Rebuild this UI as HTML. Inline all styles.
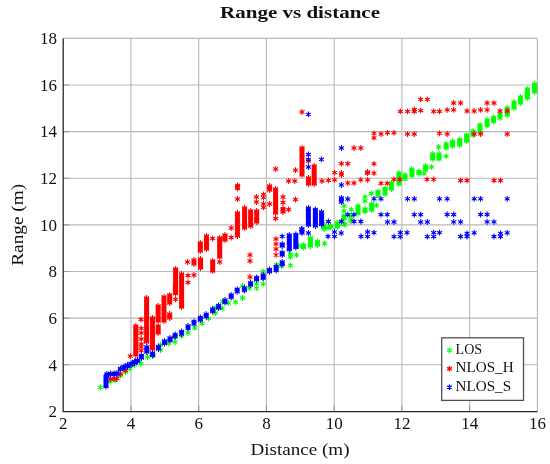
<!DOCTYPE html>
<html><head><meta charset="utf-8"><title>Range vs distance</title>
<style>html,body{margin:0;padding:0;background:#fff;}svg{display:block;}#w{width:550px;height:464px;overflow:hidden;}</style>
</head><body>
<div id="w"><svg width="550" height="464" viewBox="0 0 550 464"><rect x="0" y="0" width="550" height="464" fill="#fff"/>
<g stroke="#b8b8b8" stroke-width="1.1"><line x1="130.94" y1="38.40" x2="130.94" y2="411.40"/><line x1="198.69" y1="38.40" x2="198.69" y2="411.40"/><line x1="266.43" y1="38.40" x2="266.43" y2="411.40"/><line x1="334.17" y1="38.40" x2="334.17" y2="411.40"/><line x1="401.91" y1="38.40" x2="401.91" y2="411.40"/><line x1="469.66" y1="38.40" x2="469.66" y2="411.40"/><line x1="537.40" y1="38.40" x2="537.40" y2="411.40"/><line x1="63.20" y1="364.77" x2="537.40" y2="364.77"/><line x1="63.20" y1="318.15" x2="537.40" y2="318.15"/><line x1="63.20" y1="271.52" x2="537.40" y2="271.52"/><line x1="63.20" y1="224.90" x2="537.40" y2="224.90"/><line x1="63.20" y1="178.27" x2="537.40" y2="178.27"/><line x1="63.20" y1="131.65" x2="537.40" y2="131.65"/><line x1="63.20" y1="85.02" x2="537.40" y2="85.02"/><line x1="63.20" y1="38.40" x2="537.40" y2="38.40"/></g>
<g>
<path d="M100.40 390.40L100.40 384.60M97.89 388.95L102.91 386.05M97.89 386.05L102.91 388.95M110.00 384.40L110.00 378.60M107.49 382.95L112.51 380.05M107.49 380.05L112.51 382.95M115.00 383.40L115.00 377.60M112.49 381.95L117.51 379.05M112.49 379.05L117.51 381.95M120.50 378.40L120.50 372.60M117.99 376.95L123.01 374.05M117.99 374.05L123.01 376.95M125.50 374.90L125.50 369.10M122.99 373.45L128.01 370.55M122.99 370.55L128.01 373.45M130.00 371.40L130.00 365.60M127.49 369.95L132.51 367.05M127.49 367.05L132.51 369.95M134.50 367.90L134.50 362.10M131.99 366.45L137.01 363.55M131.99 363.55L137.01 366.45M141.00 366.40L141.00 360.60M138.49 364.95L143.51 362.05M138.49 362.05L143.51 364.95M147.50 359.90L147.50 354.10M144.99 358.45L150.01 355.55M144.99 355.55L150.01 358.45M153.50 358.40L153.50 352.60M150.99 356.95L156.01 354.05M150.99 354.05L156.01 356.95M160.50 352.90L160.50 347.10M157.99 351.45L163.01 348.55M157.99 348.55L163.01 351.45M160.50 347.90L160.50 342.10M157.99 346.45L163.01 343.55M157.99 343.55L163.01 346.45M168.50 346.40L168.50 340.60M165.99 344.95L171.01 342.05M165.99 342.05L171.01 344.95M175.00 344.90L175.00 339.10M172.49 343.45L177.51 340.55M172.49 340.55L177.51 343.45M174.50 339.90L174.50 334.10M171.99 338.45L177.01 335.55M171.99 335.55L177.01 338.45M181.50 338.90L181.50 333.10M178.99 337.45L184.01 334.55M178.99 334.55L184.01 337.45M188.00 335.90L188.00 330.10M185.49 334.45L190.51 331.55M185.49 331.55L190.51 334.45M195.00 330.90L195.00 325.10M192.49 329.45L197.51 326.55M192.49 326.55L197.51 329.45M202.00 326.40L202.00 320.60M199.49 324.95L204.51 322.05M199.49 322.05L204.51 324.95M208.50 321.60L208.50 315.80M205.99 320.15L211.01 317.25M205.99 317.25L211.01 320.15M215.50 315.90L215.50 310.10M212.99 314.45L218.01 311.55M212.99 311.55L218.01 314.45M215.00 310.90L215.00 305.10M212.49 309.45L217.51 306.55M212.49 306.55L217.51 309.45M222.20 311.40L222.20 305.60M219.69 309.95L224.71 307.05M219.69 307.05L224.71 309.95M222.50 304.40L222.50 298.60M219.99 302.95L225.01 300.05M219.99 300.05L225.01 302.95M228.50 305.90L228.50 300.10M225.99 304.45L231.01 301.55M225.99 301.55L231.01 304.45M235.50 305.10L235.50 299.30M232.99 303.65L238.01 300.75M232.99 300.75L238.01 303.65M242.50 288.90L242.50 283.10M239.99 287.45L245.01 284.55M239.99 284.55L245.01 287.45M242.50 300.90L242.50 295.10M239.99 299.45L245.01 296.55M239.99 296.55L245.01 299.45M249.50 291.10L249.50 285.30M246.99 289.65L252.01 286.75M246.99 286.75L252.01 289.65M256.60 286.70L256.60 280.90M254.09 285.25L259.11 282.35M254.09 282.35L259.11 285.25M256.60 291.10L256.60 285.30M254.09 289.65L259.11 286.75M254.09 286.75L259.11 289.65M263.20 286.70L263.20 280.90M260.69 285.25L265.71 282.35M260.69 282.35L265.71 285.25M263.20 274.40L263.20 268.60M260.69 272.95L265.71 270.05M260.69 270.05L265.71 272.95M276.50 267.60L276.50 261.80M273.99 266.15L279.01 263.25M273.99 263.25L279.01 266.15M281.50 268.90L281.50 263.10M278.99 267.45L284.01 264.55M278.99 264.55L284.01 267.45M290.40 268.20L290.40 262.40M287.89 266.75L292.91 263.85M287.89 263.85L292.91 266.75M290.40 256.90L290.40 251.10M287.89 255.45L292.91 252.55M287.89 252.55L292.91 255.45M290.40 259.90L290.40 254.10M287.89 258.45L292.91 255.55M287.89 255.55L292.91 258.45M296.50 257.90L296.50 252.10M293.99 256.45L299.01 253.55M293.99 253.55L299.01 256.45M298.50 248.90L298.50 243.10M295.99 247.45L301.01 244.55M295.99 244.55L301.01 247.45M324.00 228.90L324.00 223.10M321.49 227.45L326.51 224.55M321.49 224.55L326.51 227.45M328.00 230.90L328.00 225.10M325.49 229.45L330.51 226.55M325.49 226.55L330.51 229.45M331.00 229.90L331.00 224.10M328.49 228.45L333.51 225.55M328.49 225.55L333.51 228.45M338.00 226.90L338.00 221.10M335.49 225.45L340.51 222.55M335.49 222.55L340.51 225.45M351.30 212.50L351.30 206.70M348.79 211.05L353.81 208.15M348.79 208.15L353.81 211.05M351.30 218.50L351.30 212.70M348.79 217.05L353.81 214.15M348.79 214.15L353.81 217.05M350.80 223.90L350.80 218.10M348.29 222.45L353.31 219.55M348.29 219.55L353.31 222.45M344.00 208.90L344.00 203.10M341.49 207.45L346.51 204.55M341.49 204.55L346.51 207.45M344.00 213.90L344.00 208.10M341.49 212.45L346.51 209.55M341.49 209.55L346.51 212.45M344.00 218.50L344.00 212.70M341.49 217.05L346.51 214.15M341.49 214.15L346.51 217.05M344.00 219.57L344.00 213.77M341.49 218.12L346.51 215.22M341.49 215.22L346.51 218.12M344.00 220.63L344.00 214.83M341.49 219.18L346.51 216.28M341.49 216.28L346.51 219.18M344.00 221.70L344.00 215.90M341.49 220.25L346.51 217.35M341.49 217.35L346.51 220.25M344.00 226.90L344.00 221.10M341.49 225.45L346.51 222.55M341.49 222.55L346.51 225.45M358.00 208.90L358.00 203.10M355.49 207.45L360.51 204.55M355.49 204.55L360.51 207.45M358.00 210.15L358.00 204.35M355.49 208.70L360.51 205.80M355.49 205.80L360.51 208.70M358.00 211.40L358.00 205.60M355.49 209.95L360.51 207.05M355.49 207.05L360.51 209.95M358.00 212.65L358.00 206.85M355.49 211.20L360.51 208.30M355.49 208.30L360.51 211.20M358.00 213.90L358.00 208.10M355.49 212.45L360.51 209.55M355.49 209.55L360.51 212.45M358.00 215.15L358.00 209.35M355.49 213.70L360.51 210.80M355.49 210.80L360.51 213.70M358.00 216.40L358.00 210.60M355.49 214.95L360.51 212.05M355.49 212.05L360.51 214.95M365.00 199.90L365.00 194.10M362.49 198.45L367.51 195.55M362.49 195.55L367.51 198.45M365.00 203.90L365.00 198.10M362.49 202.45L367.51 199.55M362.49 199.55L367.51 202.45M365.00 211.90L365.00 206.10M362.49 210.45L367.51 207.55M362.49 207.55L367.51 210.45M365.00 213.15L365.00 207.35M362.49 211.70L367.51 208.80M362.49 208.80L367.51 211.70M365.00 214.40L365.00 208.60M362.49 212.95L367.51 210.05M362.49 210.05L367.51 212.95M303.40 247.90L303.40 242.10M300.89 246.45L305.91 243.55M300.89 243.55L305.91 246.45M303.40 249.15L303.40 243.35M300.89 247.70L305.91 244.80M300.89 244.80L305.91 247.70M303.40 250.40L303.40 244.60M300.89 248.95L305.91 246.05M300.89 246.05L305.91 248.95M324.50 246.40L324.50 240.60M321.99 244.95L327.01 242.05M321.99 242.05L327.01 244.95M330.50 228.90L330.50 223.10M327.99 227.45L333.01 224.55M327.99 224.55L333.01 227.45M344.80 227.40L344.80 221.60M342.29 225.95L347.31 223.05M342.29 223.05L347.31 225.95M351.00 221.90L351.00 216.10M348.49 220.45L353.51 217.55M348.49 217.55L353.51 220.45M310.50 240.90L310.50 235.10M307.99 239.45L313.01 236.55M307.99 236.55L313.01 239.45M310.50 242.04L310.50 236.24M307.99 240.59L313.01 237.69M307.99 237.69L313.01 240.59M310.50 243.19L310.50 237.39M307.99 241.74L313.01 238.84M307.99 238.84L313.01 241.74M310.50 244.33L310.50 238.53M307.99 242.88L313.01 239.98M307.99 239.98L313.01 242.88M310.50 245.47L310.50 239.67M307.99 244.02L313.01 241.12M307.99 241.12L313.01 244.02M310.50 246.61L310.50 240.81M307.99 245.16L313.01 242.26M307.99 242.26L313.01 245.16M310.50 247.76L310.50 241.96M307.99 246.31L313.01 243.41M307.99 243.41L313.01 246.31M310.50 248.90L310.50 243.10M307.99 247.45L313.01 244.55M307.99 244.55L313.01 247.45M317.50 244.40L317.50 238.60M314.99 242.95L320.01 240.05M314.99 240.05L320.01 242.95M317.50 245.57L317.50 239.77M314.99 244.12L320.01 241.22M314.99 241.22L320.01 244.12M317.50 246.73L317.50 240.93M314.99 245.28L320.01 242.38M314.99 242.38L320.01 245.28M317.50 247.90L317.50 242.10M314.99 246.45L320.01 243.55M314.99 243.55L320.01 246.45M324.00 227.90L324.00 222.10M321.49 226.45L326.51 223.55M321.49 223.55L326.51 226.45M324.00 229.23L324.00 223.43M321.49 227.78L326.51 224.88M321.49 224.88L326.51 227.78M324.00 230.57L324.00 224.77M321.49 229.12L326.51 226.22M321.49 226.22L326.51 229.12M324.00 231.90L324.00 226.10M321.49 230.45L326.51 227.55M321.49 227.55L326.51 230.45M337.40 225.90L337.40 220.10M334.89 224.45L339.91 221.55M334.89 221.55L339.91 224.45M337.40 227.23L337.40 221.43M334.89 225.78L339.91 222.88M334.89 222.88L339.91 225.78M337.40 228.57L337.40 222.77M334.89 227.12L339.91 224.22M334.89 224.22L339.91 227.12M337.40 229.90L337.40 224.10M334.89 228.45L339.91 225.55M334.89 225.55L339.91 228.45M432.80 156.90L432.80 151.10M430.29 155.45L435.31 152.55M430.29 152.55L435.31 155.45M432.80 158.15L432.80 152.35M430.29 156.70L435.31 153.80M430.29 153.80L435.31 156.70M432.80 159.40L432.80 153.60M430.29 157.95L435.31 155.05M430.29 155.05L435.31 157.95M432.80 160.65L432.80 154.85M430.29 159.20L435.31 156.30M430.29 156.30L435.31 159.20M432.80 161.90L432.80 156.10M430.29 160.45L435.31 157.55M430.29 157.55L435.31 160.45M439.00 156.90L439.00 151.10M436.49 155.45L441.51 152.55M436.49 152.55L441.51 155.45M439.00 158.15L439.00 152.35M436.49 156.70L441.51 153.80M436.49 153.80L441.51 156.70M439.00 159.40L439.00 153.60M436.49 157.95L441.51 155.05M436.49 155.05L441.51 157.95M439.00 160.65L439.00 154.85M436.49 159.20L441.51 156.30M436.49 156.30L441.51 159.20M439.00 161.90L439.00 156.10M436.49 160.45L441.51 157.55M436.49 157.55L441.51 160.45M438.50 149.90L438.50 144.10M435.99 148.45L441.01 145.55M435.99 145.55L441.01 148.45M425.50 168.90L425.50 163.10M422.99 167.45L428.01 164.55M422.99 164.55L428.01 167.45M425.50 170.23L425.50 164.43M422.99 168.78L428.01 165.88M422.99 165.88L428.01 168.78M425.50 171.57L425.50 165.77M422.99 170.12L428.01 167.22M422.99 167.22L428.01 170.12M425.50 172.90L425.50 167.10M422.99 171.45L428.01 168.55M422.99 168.55L428.01 171.45M431.60 169.90L431.60 164.10M429.09 168.45L434.11 165.55M429.09 165.55L434.11 168.45M411.40 172.10L411.40 166.30M408.89 170.65L413.91 167.75M408.89 167.75L413.91 170.65M371.70 206.90L371.70 201.10M369.19 205.45L374.21 202.55M369.19 202.55L374.21 205.45M371.70 208.10L371.70 202.30M369.19 206.65L374.21 203.75M369.19 203.75L374.21 206.65M371.70 209.30L371.70 203.50M369.19 207.85L374.21 204.95M369.19 204.95L374.21 207.85M371.70 210.50L371.70 204.70M369.19 209.05L374.21 206.15M369.19 206.15L374.21 209.05M371.70 211.70L371.70 205.90M369.19 210.25L374.21 207.35M369.19 207.35L374.21 210.25M371.70 212.90L371.70 207.10M369.19 211.45L374.21 208.55M369.19 208.55L374.21 211.45M371.30 196.40L371.30 190.60M368.79 194.95L373.81 192.05M368.79 192.05L373.81 194.95M378.00 194.40L378.00 188.60M375.49 192.95L380.51 190.05M375.49 190.05L380.51 192.95M378.00 195.73L378.00 189.93M375.49 194.28L380.51 191.38M375.49 191.38L380.51 194.28M378.00 197.07L378.00 191.27M375.49 195.62L380.51 192.72M375.49 192.72L380.51 195.62M378.00 198.40L378.00 192.60M375.49 196.95L380.51 194.05M375.49 194.05L380.51 196.95M376.60 208.20L376.60 202.40M374.09 206.75L379.11 203.85M374.09 203.85L379.11 206.75M385.00 191.40L385.00 185.60M382.49 189.95L387.51 187.05M382.49 187.05L387.51 189.95M385.00 192.50L385.00 186.70M382.49 191.05L387.51 188.15M382.49 188.15L387.51 191.05M385.00 193.60L385.00 187.80M382.49 192.15L387.51 189.25M382.49 189.25L387.51 192.15M385.00 194.70L385.00 188.90M382.49 193.25L387.51 190.35M382.49 190.35L387.51 193.25M385.00 195.80L385.00 190.00M382.49 194.35L387.51 191.45M382.49 191.45L387.51 194.35M385.00 196.90L385.00 191.10M382.49 195.45L387.51 192.55M382.49 192.55L387.51 195.45M391.50 185.90L391.50 180.10M388.99 184.45L394.01 181.55M388.99 181.55L394.01 184.45M391.50 187.10L391.50 181.30M388.99 185.65L394.01 182.75M388.99 182.75L394.01 185.65M391.50 188.30L391.50 182.50M388.99 186.85L394.01 183.95M388.99 183.95L394.01 186.85M391.50 189.50L391.50 183.70M388.99 188.05L394.01 185.15M388.99 185.15L394.01 188.05M391.50 190.70L391.50 184.90M388.99 189.25L394.01 186.35M388.99 186.35L394.01 189.25M391.50 191.90L391.50 186.10M388.99 190.45L394.01 187.55M388.99 187.55L394.01 190.45M399.00 175.90L399.00 170.10M396.49 174.45L401.51 171.55M396.49 171.55L401.51 174.45M399.00 177.12L399.00 171.32M396.49 175.67L401.51 172.77M396.49 172.77L401.51 175.67M399.00 178.34L399.00 172.54M396.49 176.89L401.51 173.99M396.49 173.99L401.51 176.89M399.00 179.57L399.00 173.77M396.49 178.12L401.51 175.22M396.49 175.22L401.51 178.12M399.00 180.79L399.00 174.99M396.49 179.34L401.51 176.44M396.49 176.44L401.51 179.34M399.00 182.01L399.00 176.21M396.49 180.56L401.51 177.66M396.49 177.66L401.51 180.56M399.00 183.23L399.00 177.43M396.49 181.78L401.51 178.88M396.49 178.88L401.51 181.78M399.00 184.46L399.00 178.66M396.49 183.01L401.51 180.11M396.49 180.11L401.51 183.01M399.00 185.68L399.00 179.88M396.49 184.23L401.51 181.33M396.49 181.33L401.51 184.23M399.00 186.90L399.00 181.10M396.49 185.45L401.51 182.55M396.49 182.55L401.51 185.45M405.00 177.90L405.00 172.10M402.49 176.45L407.51 173.55M402.49 173.55L407.51 176.45M405.00 179.23L405.00 173.43M402.49 177.78L407.51 174.88M402.49 174.88L407.51 177.78M405.00 180.57L405.00 174.77M402.49 179.12L407.51 176.22M402.49 176.22L407.51 179.12M405.00 181.90L405.00 176.10M402.49 180.45L407.51 177.55M402.49 177.55L407.51 180.45M412.00 173.40L412.00 167.60M409.49 171.95L414.51 169.05M409.49 169.05L414.51 171.95M412.00 174.65L412.00 168.85M409.49 173.20L414.51 170.30M409.49 170.30L414.51 173.20M412.00 175.90L412.00 170.10M409.49 174.45L414.51 171.55M409.49 171.55L414.51 174.45M412.00 177.15L412.00 171.35M409.49 175.70L414.51 172.80M409.49 172.80L414.51 175.70M412.00 178.40L412.00 172.60M409.49 176.95L414.51 174.05M409.49 174.05L414.51 176.95M419.00 174.40L419.00 168.60M416.49 172.95L421.51 170.05M416.49 170.05L421.51 172.95M419.00 175.40L419.00 169.60M416.49 173.95L421.51 171.05M416.49 171.05L421.51 173.95M419.00 176.40L419.00 170.60M416.49 174.95L421.51 172.05M416.49 172.05L421.51 174.95M424.00 176.50L424.00 170.70M421.49 175.05L426.51 172.15M421.49 172.15L426.51 175.05M446.20 146.90L446.20 141.10M443.69 145.45L448.71 142.55M443.69 142.55L448.71 145.45M446.20 148.23L446.20 142.43M443.69 146.78L448.71 143.88M443.69 143.88L448.71 146.78M446.20 149.57L446.20 143.77M443.69 148.12L448.71 145.22M443.69 145.22L448.71 148.12M446.20 150.90L446.20 145.10M443.69 149.45L448.71 146.55M443.69 146.55L448.71 149.45M446.20 159.10L446.20 153.30M443.69 157.65L448.71 154.75M443.69 154.75L448.71 157.65M452.60 144.40L452.60 138.60M450.09 142.95L455.11 140.05M450.09 140.05L455.11 142.95M452.60 145.53L452.60 139.72M450.09 144.07L455.11 141.18M450.09 141.18L455.11 144.07M452.60 146.65L452.60 140.85M450.09 145.20L455.11 142.30M450.09 142.30L455.11 145.20M452.60 147.78L452.60 141.97M450.09 146.32L455.11 143.43M450.09 143.43L455.11 146.32M452.60 148.90L452.60 143.10M450.09 147.45L455.11 144.55M450.09 144.55L455.11 147.45M459.70 142.40L459.70 136.60M457.19 140.95L462.21 138.05M457.19 138.05L462.21 140.95M459.70 143.50L459.70 137.70M457.19 142.05L462.21 139.15M457.19 139.15L462.21 142.05M459.70 144.60L459.70 138.80M457.19 143.15L462.21 140.25M457.19 140.25L462.21 143.15M459.70 145.70L459.70 139.90M457.19 144.25L462.21 141.35M457.19 141.35L462.21 144.25M459.70 146.80L459.70 141.00M457.19 145.35L462.21 142.45M457.19 142.45L462.21 145.35M459.70 147.90L459.70 142.10M457.19 146.45L462.21 143.55M457.19 143.55L462.21 146.45M466.60 137.90L466.60 132.10M464.09 136.45L469.11 133.55M464.09 133.55L469.11 136.45M466.60 139.10L466.60 133.30M464.09 137.65L469.11 134.75M464.09 134.75L469.11 137.65M466.60 140.30L466.60 134.50M464.09 138.85L469.11 135.95M464.09 135.95L469.11 138.85M466.60 141.50L466.60 135.70M464.09 140.05L469.11 137.15M464.09 137.15L469.11 140.05M466.60 142.70L466.60 136.90M464.09 141.25L469.11 138.35M464.09 138.35L469.11 141.25M466.60 143.90L466.60 138.10M464.09 142.45L469.11 139.55M464.09 139.55L469.11 142.45M473.10 133.90L473.10 128.10M470.59 132.45L475.61 129.55M470.59 129.55L475.61 132.45M473.10 135.23L473.10 129.43M470.59 133.78L475.61 130.88M470.59 130.88L475.61 133.78M473.10 136.57L473.10 130.77M470.59 135.12L475.61 132.22M470.59 132.22L475.61 135.12M473.10 137.90L473.10 132.10M470.59 136.45L475.61 133.55M470.59 133.55L475.61 136.45M480.00 127.90L480.00 122.10M477.49 126.45L482.51 123.55M477.49 123.55L482.51 126.45M480.00 129.07L480.00 123.27M477.49 127.62L482.51 124.72M477.49 124.72L482.51 127.62M480.00 130.23L480.00 124.43M477.49 128.78L482.51 125.88M477.49 125.88L482.51 128.78M480.00 131.40L480.00 125.60M477.49 129.95L482.51 127.05M477.49 127.05L482.51 129.95M480.00 132.57L480.00 126.77M477.49 131.12L482.51 128.22M477.49 128.22L482.51 131.12M480.00 133.73L480.00 127.93M477.49 132.28L482.51 129.38M477.49 129.38L482.51 132.28M480.00 134.90L480.00 129.10M477.49 133.45L482.51 130.55M477.49 130.55L482.51 133.45M487.10 122.90L487.10 117.10M484.59 121.45L489.61 118.55M484.59 118.55L489.61 121.45M487.10 124.00L487.10 118.20M484.59 122.55L489.61 119.65M484.59 119.65L489.61 122.55M487.10 125.10L487.10 119.30M484.59 123.65L489.61 120.75M484.59 120.75L489.61 123.65M487.10 126.20L487.10 120.40M484.59 124.75L489.61 121.85M484.59 121.85L489.61 124.75M487.10 127.30L487.10 121.50M484.59 125.85L489.61 122.95M484.59 122.95L489.61 125.85M487.10 128.40L487.10 122.60M484.59 126.95L489.61 124.05M484.59 124.05L489.61 126.95M493.60 120.40L493.60 114.60M491.09 118.95L496.11 116.05M491.09 116.05L496.11 118.95M493.60 121.73L493.60 115.93M491.09 120.28L496.11 117.38M491.09 117.38L496.11 120.28M493.60 123.07L493.60 117.27M491.09 121.62L496.11 118.72M491.09 118.72L496.11 121.62M493.60 124.40L493.60 118.60M491.09 122.95L496.11 120.05M491.09 120.05L496.11 122.95M500.00 116.90L500.00 111.10M497.49 115.45L502.51 112.55M497.49 112.55L502.51 115.45M500.00 118.23L500.00 112.43M497.49 116.78L502.51 113.88M497.49 113.88L502.51 116.78M500.00 119.57L500.00 113.77M497.49 118.12L502.51 115.22M497.49 115.22L502.51 118.12M500.00 120.90L500.00 115.10M497.49 119.45L502.51 116.55M497.49 116.55L502.51 119.45M507.20 110.90L507.20 105.10M504.69 109.45L509.71 106.55M504.69 106.55L509.71 109.45M507.20 112.07L507.20 106.27M504.69 110.62L509.71 107.72M504.69 107.72L509.71 110.62M507.20 113.23L507.20 107.43M504.69 111.78L509.71 108.88M504.69 108.88L509.71 111.78M507.20 114.40L507.20 108.60M504.69 112.95L509.71 110.05M504.69 110.05L509.71 112.95M507.20 115.57L507.20 109.77M504.69 114.12L509.71 111.22M504.69 111.22L509.71 114.12M507.20 116.73L507.20 110.93M504.69 115.28L509.71 112.38M504.69 112.38L509.71 115.28M507.20 117.90L507.20 112.10M504.69 116.45L509.71 113.55M504.69 113.55L509.71 116.45M514.00 104.90L514.00 99.10M511.49 103.45L516.51 100.55M511.49 100.55L516.51 103.45M514.00 106.10L514.00 100.30M511.49 104.65L516.51 101.75M511.49 101.75L516.51 104.65M514.00 107.30L514.00 101.50M511.49 105.85L516.51 102.95M511.49 102.95L516.51 105.85M514.00 108.50L514.00 102.70M511.49 107.05L516.51 104.15M511.49 104.15L516.51 107.05M514.00 109.70L514.00 103.90M511.49 108.25L516.51 105.35M511.49 105.35L516.51 108.25M514.00 110.90L514.00 105.10M511.49 109.45L516.51 106.55M511.49 106.55L516.51 109.45M520.50 99.90L520.50 94.10M517.99 98.45L523.01 95.55M517.99 95.55L523.01 98.45M520.50 101.10L520.50 95.30M517.99 99.65L523.01 96.75M517.99 96.75L523.01 99.65M520.50 102.30L520.50 96.50M517.99 100.85L523.01 97.95M517.99 97.95L523.01 100.85M520.50 103.50L520.50 97.70M517.99 102.05L523.01 99.15M517.99 99.15L523.01 102.05M520.50 104.70L520.50 98.90M517.99 103.25L523.01 100.35M517.99 100.35L523.01 103.25M520.50 105.90L520.50 100.10M517.99 104.45L523.01 101.55M517.99 101.55L523.01 104.45M527.40 91.90L527.40 86.10M524.89 90.45L529.91 87.55M524.89 87.55L529.91 90.45M527.40 93.03L527.40 87.22M524.89 91.58L529.91 88.67M524.89 88.67L529.91 91.58M527.40 94.15L527.40 88.35M524.89 92.70L529.91 89.80M524.89 89.80L529.91 92.70M527.40 95.28L527.40 89.47M524.89 93.83L529.91 90.92M524.89 90.92L529.91 93.83M527.40 96.40L527.40 90.60M524.89 94.95L529.91 92.05M524.89 92.05L529.91 94.95M527.40 97.53L527.40 91.72M524.89 96.08L529.91 93.17M524.89 93.17L529.91 96.08M527.40 98.65L527.40 92.85M524.89 97.20L529.91 94.30M524.89 94.30L529.91 97.20M527.40 99.78L527.40 93.97M524.89 98.33L529.91 95.42M524.89 95.42L529.91 98.33M527.40 100.90L527.40 95.10M524.89 99.45L529.91 96.55M524.89 96.55L529.91 99.45M534.50 86.90L534.50 81.10M531.99 85.45L537.01 82.55M531.99 82.55L537.01 85.45M534.50 88.04L534.50 82.24M531.99 86.59L537.01 83.69M531.99 83.69L537.01 86.59M534.50 89.19L534.50 83.39M531.99 87.74L537.01 84.84M531.99 84.84L537.01 87.74M534.50 90.33L534.50 84.53M531.99 88.88L537.01 85.98M531.99 85.98L537.01 88.88M534.50 91.47L534.50 85.67M531.99 90.02L537.01 87.12M531.99 87.12L537.01 90.02M534.50 92.61L534.50 86.81M531.99 91.16L537.01 88.26M531.99 88.26L537.01 91.16M534.50 93.76L534.50 87.96M531.99 92.31L537.01 89.41M531.99 89.41L537.01 92.31M534.50 94.90L534.50 89.10M531.99 93.45L537.01 90.55M531.99 90.55L537.01 93.45" stroke="#00ff00" stroke-width="1.05" fill="none" stroke-linecap="butt"/><path d="M99.20 387.50a1.2 1.2 0 1 0 2.4 0a1.2 1.2 0 1 0 -2.4 0M108.80 381.50a1.2 1.2 0 1 0 2.4 0a1.2 1.2 0 1 0 -2.4 0M113.80 380.50a1.2 1.2 0 1 0 2.4 0a1.2 1.2 0 1 0 -2.4 0M119.30 375.50a1.2 1.2 0 1 0 2.4 0a1.2 1.2 0 1 0 -2.4 0M124.30 372.00a1.2 1.2 0 1 0 2.4 0a1.2 1.2 0 1 0 -2.4 0M128.80 368.50a1.2 1.2 0 1 0 2.4 0a1.2 1.2 0 1 0 -2.4 0M133.30 365.00a1.2 1.2 0 1 0 2.4 0a1.2 1.2 0 1 0 -2.4 0M139.80 363.50a1.2 1.2 0 1 0 2.4 0a1.2 1.2 0 1 0 -2.4 0M146.30 357.00a1.2 1.2 0 1 0 2.4 0a1.2 1.2 0 1 0 -2.4 0M152.30 355.50a1.2 1.2 0 1 0 2.4 0a1.2 1.2 0 1 0 -2.4 0M159.30 350.00a1.2 1.2 0 1 0 2.4 0a1.2 1.2 0 1 0 -2.4 0M159.30 345.00a1.2 1.2 0 1 0 2.4 0a1.2 1.2 0 1 0 -2.4 0M167.30 343.50a1.2 1.2 0 1 0 2.4 0a1.2 1.2 0 1 0 -2.4 0M173.80 342.00a1.2 1.2 0 1 0 2.4 0a1.2 1.2 0 1 0 -2.4 0M173.30 337.00a1.2 1.2 0 1 0 2.4 0a1.2 1.2 0 1 0 -2.4 0M180.30 336.00a1.2 1.2 0 1 0 2.4 0a1.2 1.2 0 1 0 -2.4 0M186.80 333.00a1.2 1.2 0 1 0 2.4 0a1.2 1.2 0 1 0 -2.4 0M193.80 328.00a1.2 1.2 0 1 0 2.4 0a1.2 1.2 0 1 0 -2.4 0M200.80 323.50a1.2 1.2 0 1 0 2.4 0a1.2 1.2 0 1 0 -2.4 0M207.30 318.70a1.2 1.2 0 1 0 2.4 0a1.2 1.2 0 1 0 -2.4 0M214.30 313.00a1.2 1.2 0 1 0 2.4 0a1.2 1.2 0 1 0 -2.4 0M213.80 308.00a1.2 1.2 0 1 0 2.4 0a1.2 1.2 0 1 0 -2.4 0M221.00 308.50a1.2 1.2 0 1 0 2.4 0a1.2 1.2 0 1 0 -2.4 0M221.30 301.50a1.2 1.2 0 1 0 2.4 0a1.2 1.2 0 1 0 -2.4 0M227.30 303.00a1.2 1.2 0 1 0 2.4 0a1.2 1.2 0 1 0 -2.4 0M234.30 302.20a1.2 1.2 0 1 0 2.4 0a1.2 1.2 0 1 0 -2.4 0M241.30 286.00a1.2 1.2 0 1 0 2.4 0a1.2 1.2 0 1 0 -2.4 0M241.30 298.00a1.2 1.2 0 1 0 2.4 0a1.2 1.2 0 1 0 -2.4 0M248.30 288.20a1.2 1.2 0 1 0 2.4 0a1.2 1.2 0 1 0 -2.4 0M255.40 283.80a1.2 1.2 0 1 0 2.4 0a1.2 1.2 0 1 0 -2.4 0M255.40 288.20a1.2 1.2 0 1 0 2.4 0a1.2 1.2 0 1 0 -2.4 0M262.00 283.80a1.2 1.2 0 1 0 2.4 0a1.2 1.2 0 1 0 -2.4 0M262.00 271.50a1.2 1.2 0 1 0 2.4 0a1.2 1.2 0 1 0 -2.4 0M275.30 264.70a1.2 1.2 0 1 0 2.4 0a1.2 1.2 0 1 0 -2.4 0M280.30 266.00a1.2 1.2 0 1 0 2.4 0a1.2 1.2 0 1 0 -2.4 0M289.20 265.30a1.2 1.2 0 1 0 2.4 0a1.2 1.2 0 1 0 -2.4 0M289.20 254.00a1.2 1.2 0 1 0 2.4 0a1.2 1.2 0 1 0 -2.4 0M289.20 257.00a1.2 1.2 0 1 0 2.4 0a1.2 1.2 0 1 0 -2.4 0M295.30 255.00a1.2 1.2 0 1 0 2.4 0a1.2 1.2 0 1 0 -2.4 0M297.30 246.00a1.2 1.2 0 1 0 2.4 0a1.2 1.2 0 1 0 -2.4 0M322.80 226.00a1.2 1.2 0 1 0 2.4 0a1.2 1.2 0 1 0 -2.4 0M326.80 228.00a1.2 1.2 0 1 0 2.4 0a1.2 1.2 0 1 0 -2.4 0M329.80 227.00a1.2 1.2 0 1 0 2.4 0a1.2 1.2 0 1 0 -2.4 0M336.80 224.00a1.2 1.2 0 1 0 2.4 0a1.2 1.2 0 1 0 -2.4 0M350.10 209.60a1.2 1.2 0 1 0 2.4 0a1.2 1.2 0 1 0 -2.4 0M350.10 215.60a1.2 1.2 0 1 0 2.4 0a1.2 1.2 0 1 0 -2.4 0M349.60 221.00a1.2 1.2 0 1 0 2.4 0a1.2 1.2 0 1 0 -2.4 0M342.80 206.00a1.2 1.2 0 1 0 2.4 0a1.2 1.2 0 1 0 -2.4 0M342.80 211.00a1.2 1.2 0 1 0 2.4 0a1.2 1.2 0 1 0 -2.4 0M342.80 215.60a1.2 1.2 0 1 0 2.4 0a1.2 1.2 0 1 0 -2.4 0M342.80 216.67a1.2 1.2 0 1 0 2.4 0a1.2 1.2 0 1 0 -2.4 0M342.80 217.73a1.2 1.2 0 1 0 2.4 0a1.2 1.2 0 1 0 -2.4 0M342.80 218.80a1.2 1.2 0 1 0 2.4 0a1.2 1.2 0 1 0 -2.4 0M342.80 224.00a1.2 1.2 0 1 0 2.4 0a1.2 1.2 0 1 0 -2.4 0M356.80 206.00a1.2 1.2 0 1 0 2.4 0a1.2 1.2 0 1 0 -2.4 0M356.80 207.25a1.2 1.2 0 1 0 2.4 0a1.2 1.2 0 1 0 -2.4 0M356.80 208.50a1.2 1.2 0 1 0 2.4 0a1.2 1.2 0 1 0 -2.4 0M356.80 209.75a1.2 1.2 0 1 0 2.4 0a1.2 1.2 0 1 0 -2.4 0M356.80 211.00a1.2 1.2 0 1 0 2.4 0a1.2 1.2 0 1 0 -2.4 0M356.80 212.25a1.2 1.2 0 1 0 2.4 0a1.2 1.2 0 1 0 -2.4 0M356.80 213.50a1.2 1.2 0 1 0 2.4 0a1.2 1.2 0 1 0 -2.4 0M363.80 197.00a1.2 1.2 0 1 0 2.4 0a1.2 1.2 0 1 0 -2.4 0M363.80 201.00a1.2 1.2 0 1 0 2.4 0a1.2 1.2 0 1 0 -2.4 0M363.80 209.00a1.2 1.2 0 1 0 2.4 0a1.2 1.2 0 1 0 -2.4 0M363.80 210.25a1.2 1.2 0 1 0 2.4 0a1.2 1.2 0 1 0 -2.4 0M363.80 211.50a1.2 1.2 0 1 0 2.4 0a1.2 1.2 0 1 0 -2.4 0M302.20 245.00a1.2 1.2 0 1 0 2.4 0a1.2 1.2 0 1 0 -2.4 0M302.20 246.25a1.2 1.2 0 1 0 2.4 0a1.2 1.2 0 1 0 -2.4 0M302.20 247.50a1.2 1.2 0 1 0 2.4 0a1.2 1.2 0 1 0 -2.4 0M323.30 243.50a1.2 1.2 0 1 0 2.4 0a1.2 1.2 0 1 0 -2.4 0M329.30 226.00a1.2 1.2 0 1 0 2.4 0a1.2 1.2 0 1 0 -2.4 0M343.60 224.50a1.2 1.2 0 1 0 2.4 0a1.2 1.2 0 1 0 -2.4 0M349.80 219.00a1.2 1.2 0 1 0 2.4 0a1.2 1.2 0 1 0 -2.4 0M309.30 238.00a1.2 1.2 0 1 0 2.4 0a1.2 1.2 0 1 0 -2.4 0M309.30 239.14a1.2 1.2 0 1 0 2.4 0a1.2 1.2 0 1 0 -2.4 0M309.30 240.29a1.2 1.2 0 1 0 2.4 0a1.2 1.2 0 1 0 -2.4 0M309.30 241.43a1.2 1.2 0 1 0 2.4 0a1.2 1.2 0 1 0 -2.4 0M309.30 242.57a1.2 1.2 0 1 0 2.4 0a1.2 1.2 0 1 0 -2.4 0M309.30 243.71a1.2 1.2 0 1 0 2.4 0a1.2 1.2 0 1 0 -2.4 0M309.30 244.86a1.2 1.2 0 1 0 2.4 0a1.2 1.2 0 1 0 -2.4 0M309.30 246.00a1.2 1.2 0 1 0 2.4 0a1.2 1.2 0 1 0 -2.4 0M316.30 241.50a1.2 1.2 0 1 0 2.4 0a1.2 1.2 0 1 0 -2.4 0M316.30 242.67a1.2 1.2 0 1 0 2.4 0a1.2 1.2 0 1 0 -2.4 0M316.30 243.83a1.2 1.2 0 1 0 2.4 0a1.2 1.2 0 1 0 -2.4 0M316.30 245.00a1.2 1.2 0 1 0 2.4 0a1.2 1.2 0 1 0 -2.4 0M322.80 225.00a1.2 1.2 0 1 0 2.4 0a1.2 1.2 0 1 0 -2.4 0M322.80 226.33a1.2 1.2 0 1 0 2.4 0a1.2 1.2 0 1 0 -2.4 0M322.80 227.67a1.2 1.2 0 1 0 2.4 0a1.2 1.2 0 1 0 -2.4 0M322.80 229.00a1.2 1.2 0 1 0 2.4 0a1.2 1.2 0 1 0 -2.4 0M336.20 223.00a1.2 1.2 0 1 0 2.4 0a1.2 1.2 0 1 0 -2.4 0M336.20 224.33a1.2 1.2 0 1 0 2.4 0a1.2 1.2 0 1 0 -2.4 0M336.20 225.67a1.2 1.2 0 1 0 2.4 0a1.2 1.2 0 1 0 -2.4 0M336.20 227.00a1.2 1.2 0 1 0 2.4 0a1.2 1.2 0 1 0 -2.4 0M431.60 154.00a1.2 1.2 0 1 0 2.4 0a1.2 1.2 0 1 0 -2.4 0M431.60 155.25a1.2 1.2 0 1 0 2.4 0a1.2 1.2 0 1 0 -2.4 0M431.60 156.50a1.2 1.2 0 1 0 2.4 0a1.2 1.2 0 1 0 -2.4 0M431.60 157.75a1.2 1.2 0 1 0 2.4 0a1.2 1.2 0 1 0 -2.4 0M431.60 159.00a1.2 1.2 0 1 0 2.4 0a1.2 1.2 0 1 0 -2.4 0M437.80 154.00a1.2 1.2 0 1 0 2.4 0a1.2 1.2 0 1 0 -2.4 0M437.80 155.25a1.2 1.2 0 1 0 2.4 0a1.2 1.2 0 1 0 -2.4 0M437.80 156.50a1.2 1.2 0 1 0 2.4 0a1.2 1.2 0 1 0 -2.4 0M437.80 157.75a1.2 1.2 0 1 0 2.4 0a1.2 1.2 0 1 0 -2.4 0M437.80 159.00a1.2 1.2 0 1 0 2.4 0a1.2 1.2 0 1 0 -2.4 0M437.30 147.00a1.2 1.2 0 1 0 2.4 0a1.2 1.2 0 1 0 -2.4 0M424.30 166.00a1.2 1.2 0 1 0 2.4 0a1.2 1.2 0 1 0 -2.4 0M424.30 167.33a1.2 1.2 0 1 0 2.4 0a1.2 1.2 0 1 0 -2.4 0M424.30 168.67a1.2 1.2 0 1 0 2.4 0a1.2 1.2 0 1 0 -2.4 0M424.30 170.00a1.2 1.2 0 1 0 2.4 0a1.2 1.2 0 1 0 -2.4 0M430.40 167.00a1.2 1.2 0 1 0 2.4 0a1.2 1.2 0 1 0 -2.4 0M410.20 169.20a1.2 1.2 0 1 0 2.4 0a1.2 1.2 0 1 0 -2.4 0M370.50 204.00a1.2 1.2 0 1 0 2.4 0a1.2 1.2 0 1 0 -2.4 0M370.50 205.20a1.2 1.2 0 1 0 2.4 0a1.2 1.2 0 1 0 -2.4 0M370.50 206.40a1.2 1.2 0 1 0 2.4 0a1.2 1.2 0 1 0 -2.4 0M370.50 207.60a1.2 1.2 0 1 0 2.4 0a1.2 1.2 0 1 0 -2.4 0M370.50 208.80a1.2 1.2 0 1 0 2.4 0a1.2 1.2 0 1 0 -2.4 0M370.50 210.00a1.2 1.2 0 1 0 2.4 0a1.2 1.2 0 1 0 -2.4 0M370.10 193.50a1.2 1.2 0 1 0 2.4 0a1.2 1.2 0 1 0 -2.4 0M376.80 191.50a1.2 1.2 0 1 0 2.4 0a1.2 1.2 0 1 0 -2.4 0M376.80 192.83a1.2 1.2 0 1 0 2.4 0a1.2 1.2 0 1 0 -2.4 0M376.80 194.17a1.2 1.2 0 1 0 2.4 0a1.2 1.2 0 1 0 -2.4 0M376.80 195.50a1.2 1.2 0 1 0 2.4 0a1.2 1.2 0 1 0 -2.4 0M375.40 205.30a1.2 1.2 0 1 0 2.4 0a1.2 1.2 0 1 0 -2.4 0M383.80 188.50a1.2 1.2 0 1 0 2.4 0a1.2 1.2 0 1 0 -2.4 0M383.80 189.60a1.2 1.2 0 1 0 2.4 0a1.2 1.2 0 1 0 -2.4 0M383.80 190.70a1.2 1.2 0 1 0 2.4 0a1.2 1.2 0 1 0 -2.4 0M383.80 191.80a1.2 1.2 0 1 0 2.4 0a1.2 1.2 0 1 0 -2.4 0M383.80 192.90a1.2 1.2 0 1 0 2.4 0a1.2 1.2 0 1 0 -2.4 0M383.80 194.00a1.2 1.2 0 1 0 2.4 0a1.2 1.2 0 1 0 -2.4 0M390.30 183.00a1.2 1.2 0 1 0 2.4 0a1.2 1.2 0 1 0 -2.4 0M390.30 184.20a1.2 1.2 0 1 0 2.4 0a1.2 1.2 0 1 0 -2.4 0M390.30 185.40a1.2 1.2 0 1 0 2.4 0a1.2 1.2 0 1 0 -2.4 0M390.30 186.60a1.2 1.2 0 1 0 2.4 0a1.2 1.2 0 1 0 -2.4 0M390.30 187.80a1.2 1.2 0 1 0 2.4 0a1.2 1.2 0 1 0 -2.4 0M390.30 189.00a1.2 1.2 0 1 0 2.4 0a1.2 1.2 0 1 0 -2.4 0M397.80 173.00a1.2 1.2 0 1 0 2.4 0a1.2 1.2 0 1 0 -2.4 0M397.80 174.22a1.2 1.2 0 1 0 2.4 0a1.2 1.2 0 1 0 -2.4 0M397.80 175.44a1.2 1.2 0 1 0 2.4 0a1.2 1.2 0 1 0 -2.4 0M397.80 176.67a1.2 1.2 0 1 0 2.4 0a1.2 1.2 0 1 0 -2.4 0M397.80 177.89a1.2 1.2 0 1 0 2.4 0a1.2 1.2 0 1 0 -2.4 0M397.80 179.11a1.2 1.2 0 1 0 2.4 0a1.2 1.2 0 1 0 -2.4 0M397.80 180.33a1.2 1.2 0 1 0 2.4 0a1.2 1.2 0 1 0 -2.4 0M397.80 181.56a1.2 1.2 0 1 0 2.4 0a1.2 1.2 0 1 0 -2.4 0M397.80 182.78a1.2 1.2 0 1 0 2.4 0a1.2 1.2 0 1 0 -2.4 0M397.80 184.00a1.2 1.2 0 1 0 2.4 0a1.2 1.2 0 1 0 -2.4 0M403.80 175.00a1.2 1.2 0 1 0 2.4 0a1.2 1.2 0 1 0 -2.4 0M403.80 176.33a1.2 1.2 0 1 0 2.4 0a1.2 1.2 0 1 0 -2.4 0M403.80 177.67a1.2 1.2 0 1 0 2.4 0a1.2 1.2 0 1 0 -2.4 0M403.80 179.00a1.2 1.2 0 1 0 2.4 0a1.2 1.2 0 1 0 -2.4 0M410.80 170.50a1.2 1.2 0 1 0 2.4 0a1.2 1.2 0 1 0 -2.4 0M410.80 171.75a1.2 1.2 0 1 0 2.4 0a1.2 1.2 0 1 0 -2.4 0M410.80 173.00a1.2 1.2 0 1 0 2.4 0a1.2 1.2 0 1 0 -2.4 0M410.80 174.25a1.2 1.2 0 1 0 2.4 0a1.2 1.2 0 1 0 -2.4 0M410.80 175.50a1.2 1.2 0 1 0 2.4 0a1.2 1.2 0 1 0 -2.4 0M417.80 171.50a1.2 1.2 0 1 0 2.4 0a1.2 1.2 0 1 0 -2.4 0M417.80 172.50a1.2 1.2 0 1 0 2.4 0a1.2 1.2 0 1 0 -2.4 0M417.80 173.50a1.2 1.2 0 1 0 2.4 0a1.2 1.2 0 1 0 -2.4 0M422.80 173.60a1.2 1.2 0 1 0 2.4 0a1.2 1.2 0 1 0 -2.4 0M445.00 144.00a1.2 1.2 0 1 0 2.4 0a1.2 1.2 0 1 0 -2.4 0M445.00 145.33a1.2 1.2 0 1 0 2.4 0a1.2 1.2 0 1 0 -2.4 0M445.00 146.67a1.2 1.2 0 1 0 2.4 0a1.2 1.2 0 1 0 -2.4 0M445.00 148.00a1.2 1.2 0 1 0 2.4 0a1.2 1.2 0 1 0 -2.4 0M445.00 156.20a1.2 1.2 0 1 0 2.4 0a1.2 1.2 0 1 0 -2.4 0M451.40 141.50a1.2 1.2 0 1 0 2.4 0a1.2 1.2 0 1 0 -2.4 0M451.40 142.62a1.2 1.2 0 1 0 2.4 0a1.2 1.2 0 1 0 -2.4 0M451.40 143.75a1.2 1.2 0 1 0 2.4 0a1.2 1.2 0 1 0 -2.4 0M451.40 144.88a1.2 1.2 0 1 0 2.4 0a1.2 1.2 0 1 0 -2.4 0M451.40 146.00a1.2 1.2 0 1 0 2.4 0a1.2 1.2 0 1 0 -2.4 0M458.50 139.50a1.2 1.2 0 1 0 2.4 0a1.2 1.2 0 1 0 -2.4 0M458.50 140.60a1.2 1.2 0 1 0 2.4 0a1.2 1.2 0 1 0 -2.4 0M458.50 141.70a1.2 1.2 0 1 0 2.4 0a1.2 1.2 0 1 0 -2.4 0M458.50 142.80a1.2 1.2 0 1 0 2.4 0a1.2 1.2 0 1 0 -2.4 0M458.50 143.90a1.2 1.2 0 1 0 2.4 0a1.2 1.2 0 1 0 -2.4 0M458.50 145.00a1.2 1.2 0 1 0 2.4 0a1.2 1.2 0 1 0 -2.4 0M465.40 135.00a1.2 1.2 0 1 0 2.4 0a1.2 1.2 0 1 0 -2.4 0M465.40 136.20a1.2 1.2 0 1 0 2.4 0a1.2 1.2 0 1 0 -2.4 0M465.40 137.40a1.2 1.2 0 1 0 2.4 0a1.2 1.2 0 1 0 -2.4 0M465.40 138.60a1.2 1.2 0 1 0 2.4 0a1.2 1.2 0 1 0 -2.4 0M465.40 139.80a1.2 1.2 0 1 0 2.4 0a1.2 1.2 0 1 0 -2.4 0M465.40 141.00a1.2 1.2 0 1 0 2.4 0a1.2 1.2 0 1 0 -2.4 0M471.90 131.00a1.2 1.2 0 1 0 2.4 0a1.2 1.2 0 1 0 -2.4 0M471.90 132.33a1.2 1.2 0 1 0 2.4 0a1.2 1.2 0 1 0 -2.4 0M471.90 133.67a1.2 1.2 0 1 0 2.4 0a1.2 1.2 0 1 0 -2.4 0M471.90 135.00a1.2 1.2 0 1 0 2.4 0a1.2 1.2 0 1 0 -2.4 0M478.80 125.00a1.2 1.2 0 1 0 2.4 0a1.2 1.2 0 1 0 -2.4 0M478.80 126.17a1.2 1.2 0 1 0 2.4 0a1.2 1.2 0 1 0 -2.4 0M478.80 127.33a1.2 1.2 0 1 0 2.4 0a1.2 1.2 0 1 0 -2.4 0M478.80 128.50a1.2 1.2 0 1 0 2.4 0a1.2 1.2 0 1 0 -2.4 0M478.80 129.67a1.2 1.2 0 1 0 2.4 0a1.2 1.2 0 1 0 -2.4 0M478.80 130.83a1.2 1.2 0 1 0 2.4 0a1.2 1.2 0 1 0 -2.4 0M478.80 132.00a1.2 1.2 0 1 0 2.4 0a1.2 1.2 0 1 0 -2.4 0M485.90 120.00a1.2 1.2 0 1 0 2.4 0a1.2 1.2 0 1 0 -2.4 0M485.90 121.10a1.2 1.2 0 1 0 2.4 0a1.2 1.2 0 1 0 -2.4 0M485.90 122.20a1.2 1.2 0 1 0 2.4 0a1.2 1.2 0 1 0 -2.4 0M485.90 123.30a1.2 1.2 0 1 0 2.4 0a1.2 1.2 0 1 0 -2.4 0M485.90 124.40a1.2 1.2 0 1 0 2.4 0a1.2 1.2 0 1 0 -2.4 0M485.90 125.50a1.2 1.2 0 1 0 2.4 0a1.2 1.2 0 1 0 -2.4 0M492.40 117.50a1.2 1.2 0 1 0 2.4 0a1.2 1.2 0 1 0 -2.4 0M492.40 118.83a1.2 1.2 0 1 0 2.4 0a1.2 1.2 0 1 0 -2.4 0M492.40 120.17a1.2 1.2 0 1 0 2.4 0a1.2 1.2 0 1 0 -2.4 0M492.40 121.50a1.2 1.2 0 1 0 2.4 0a1.2 1.2 0 1 0 -2.4 0M498.80 114.00a1.2 1.2 0 1 0 2.4 0a1.2 1.2 0 1 0 -2.4 0M498.80 115.33a1.2 1.2 0 1 0 2.4 0a1.2 1.2 0 1 0 -2.4 0M498.80 116.67a1.2 1.2 0 1 0 2.4 0a1.2 1.2 0 1 0 -2.4 0M498.80 118.00a1.2 1.2 0 1 0 2.4 0a1.2 1.2 0 1 0 -2.4 0M506.00 108.00a1.2 1.2 0 1 0 2.4 0a1.2 1.2 0 1 0 -2.4 0M506.00 109.17a1.2 1.2 0 1 0 2.4 0a1.2 1.2 0 1 0 -2.4 0M506.00 110.33a1.2 1.2 0 1 0 2.4 0a1.2 1.2 0 1 0 -2.4 0M506.00 111.50a1.2 1.2 0 1 0 2.4 0a1.2 1.2 0 1 0 -2.4 0M506.00 112.67a1.2 1.2 0 1 0 2.4 0a1.2 1.2 0 1 0 -2.4 0M506.00 113.83a1.2 1.2 0 1 0 2.4 0a1.2 1.2 0 1 0 -2.4 0M506.00 115.00a1.2 1.2 0 1 0 2.4 0a1.2 1.2 0 1 0 -2.4 0M512.80 102.00a1.2 1.2 0 1 0 2.4 0a1.2 1.2 0 1 0 -2.4 0M512.80 103.20a1.2 1.2 0 1 0 2.4 0a1.2 1.2 0 1 0 -2.4 0M512.80 104.40a1.2 1.2 0 1 0 2.4 0a1.2 1.2 0 1 0 -2.4 0M512.80 105.60a1.2 1.2 0 1 0 2.4 0a1.2 1.2 0 1 0 -2.4 0M512.80 106.80a1.2 1.2 0 1 0 2.4 0a1.2 1.2 0 1 0 -2.4 0M512.80 108.00a1.2 1.2 0 1 0 2.4 0a1.2 1.2 0 1 0 -2.4 0M519.30 97.00a1.2 1.2 0 1 0 2.4 0a1.2 1.2 0 1 0 -2.4 0M519.30 98.20a1.2 1.2 0 1 0 2.4 0a1.2 1.2 0 1 0 -2.4 0M519.30 99.40a1.2 1.2 0 1 0 2.4 0a1.2 1.2 0 1 0 -2.4 0M519.30 100.60a1.2 1.2 0 1 0 2.4 0a1.2 1.2 0 1 0 -2.4 0M519.30 101.80a1.2 1.2 0 1 0 2.4 0a1.2 1.2 0 1 0 -2.4 0M519.30 103.00a1.2 1.2 0 1 0 2.4 0a1.2 1.2 0 1 0 -2.4 0M526.20 89.00a1.2 1.2 0 1 0 2.4 0a1.2 1.2 0 1 0 -2.4 0M526.20 90.12a1.2 1.2 0 1 0 2.4 0a1.2 1.2 0 1 0 -2.4 0M526.20 91.25a1.2 1.2 0 1 0 2.4 0a1.2 1.2 0 1 0 -2.4 0M526.20 92.38a1.2 1.2 0 1 0 2.4 0a1.2 1.2 0 1 0 -2.4 0M526.20 93.50a1.2 1.2 0 1 0 2.4 0a1.2 1.2 0 1 0 -2.4 0M526.20 94.62a1.2 1.2 0 1 0 2.4 0a1.2 1.2 0 1 0 -2.4 0M526.20 95.75a1.2 1.2 0 1 0 2.4 0a1.2 1.2 0 1 0 -2.4 0M526.20 96.88a1.2 1.2 0 1 0 2.4 0a1.2 1.2 0 1 0 -2.4 0M526.20 98.00a1.2 1.2 0 1 0 2.4 0a1.2 1.2 0 1 0 -2.4 0M533.30 84.00a1.2 1.2 0 1 0 2.4 0a1.2 1.2 0 1 0 -2.4 0M533.30 85.14a1.2 1.2 0 1 0 2.4 0a1.2 1.2 0 1 0 -2.4 0M533.30 86.29a1.2 1.2 0 1 0 2.4 0a1.2 1.2 0 1 0 -2.4 0M533.30 87.43a1.2 1.2 0 1 0 2.4 0a1.2 1.2 0 1 0 -2.4 0M533.30 88.57a1.2 1.2 0 1 0 2.4 0a1.2 1.2 0 1 0 -2.4 0M533.30 89.71a1.2 1.2 0 1 0 2.4 0a1.2 1.2 0 1 0 -2.4 0M533.30 90.86a1.2 1.2 0 1 0 2.4 0a1.2 1.2 0 1 0 -2.4 0M533.30 92.00a1.2 1.2 0 1 0 2.4 0a1.2 1.2 0 1 0 -2.4 0" fill="#00ff00"/>
<path d="M110.50 381.90L110.50 376.10M107.99 380.45L113.01 377.55M107.99 377.55L113.01 380.45M114.00 381.90L114.00 376.10M111.49 380.45L116.51 377.55M111.49 377.55L116.51 380.45M117.00 381.40L117.00 375.60M114.49 379.95L119.51 377.05M114.49 377.05L119.51 379.95M120.50 376.90L120.50 371.10M117.99 375.45L123.01 372.55M117.99 372.55L123.01 375.45M125.50 373.40L125.50 367.60M122.99 371.95L128.01 369.05M122.99 369.05L128.01 371.95M130.30 359.10L130.30 353.30M127.79 357.65L132.81 354.75M127.79 354.75L132.81 357.65M135.80 328.90L135.80 323.10M133.29 327.45L138.31 324.55M133.29 324.55L138.31 327.45M135.80 330.11L135.80 324.31M133.29 328.66L138.31 325.76M133.29 325.76L138.31 328.66M135.80 331.32L135.80 325.52M133.29 329.87L138.31 326.97M133.29 326.97L138.31 329.87M135.80 332.52L135.80 326.73M133.29 331.07L138.31 328.18M133.29 328.18L138.31 331.07M135.80 333.73L135.80 327.93M133.29 332.28L138.31 329.38M133.29 329.38L138.31 332.28M135.80 334.94L135.80 329.14M133.29 333.49L138.31 330.59M133.29 330.59L138.31 333.49M135.80 336.15L135.80 330.35M133.29 334.70L138.31 331.80M133.29 331.80L138.31 334.70M135.80 337.36L135.80 331.56M133.29 335.91L138.31 333.01M133.29 333.01L138.31 335.91M135.80 338.57L135.80 332.77M133.29 337.12L138.31 334.22M133.29 334.22L138.31 337.12M135.80 339.77L135.80 333.98M133.29 338.32L138.31 335.43M133.29 335.43L138.31 338.32M135.80 340.98L135.80 335.18M133.29 339.53L138.31 336.63M133.29 336.63L138.31 339.53M135.80 342.19L135.80 336.39M133.29 340.74L138.31 337.84M133.29 337.84L138.31 340.74M135.80 343.40L135.80 337.60M133.29 341.95L138.31 339.05M133.29 339.05L138.31 341.95M135.80 344.61L135.80 338.81M133.29 343.16L138.31 340.26M133.29 340.26L138.31 343.16M135.80 345.82L135.80 340.02M133.29 344.37L138.31 341.47M133.29 341.47L138.31 344.37M135.80 347.02L135.80 341.23M133.29 345.57L138.31 342.68M133.29 342.68L138.31 345.57M135.80 348.23L135.80 342.43M133.29 346.78L138.31 343.88M133.29 343.88L138.31 346.78M135.80 349.44L135.80 343.64M133.29 347.99L138.31 345.09M133.29 345.09L138.31 347.99M135.80 350.65L135.80 344.85M133.29 349.20L138.31 346.30M133.29 346.30L138.31 349.20M135.80 351.86L135.80 346.06M133.29 350.41L138.31 347.51M133.29 347.51L138.31 350.41M135.80 353.07L135.80 347.27M133.29 351.62L138.31 348.72M133.29 348.72L138.31 351.62M135.80 354.27L135.80 348.48M133.29 352.82L138.31 349.93M133.29 349.93L138.31 352.82M135.80 355.48L135.80 349.68M133.29 354.03L138.31 351.13M133.29 351.13L138.31 354.03M135.80 356.69L135.80 350.89M133.29 355.24L138.31 352.34M133.29 352.34L138.31 355.24M135.80 357.90L135.80 352.10M133.29 356.45L138.31 353.55M133.29 353.55L138.31 356.45M141.00 322.40L141.00 316.60M138.49 320.95L143.51 318.05M138.49 318.05L143.51 320.95M141.20 331.20L141.20 325.40M138.69 329.75L143.71 326.85M138.69 326.85L143.71 329.75M141.20 335.90L141.20 330.10M138.69 334.45L143.71 331.55M138.69 331.55L143.71 334.45M141.20 341.90L141.20 336.10M138.69 340.45L143.71 337.55M138.69 337.55L143.71 340.45M141.20 346.90L141.20 341.10M138.69 345.45L143.71 342.55M138.69 342.55L143.71 345.45M141.20 349.90L141.20 344.10M138.69 348.45L143.71 345.55M138.69 345.55L143.71 348.45M141.20 353.60L141.20 347.80M138.69 352.15L143.71 349.25M138.69 349.25L143.71 352.15M146.60 300.90L146.60 295.10M144.09 299.45L149.11 296.55M144.09 296.55L149.11 299.45M146.60 302.09L146.60 296.29M144.09 300.64L149.11 297.74M144.09 297.74L149.11 300.64M146.60 303.28L146.60 297.48M144.09 301.83L149.11 298.93M144.09 298.93L149.11 301.83M146.60 304.47L146.60 298.67M144.09 303.02L149.11 300.12M144.09 300.12L149.11 303.02M146.60 305.66L146.60 299.86M144.09 304.21L149.11 301.31M144.09 301.31L149.11 304.21M146.60 306.85L146.60 301.05M144.09 305.40L149.11 302.50M144.09 302.50L149.11 305.40M146.60 308.04L146.60 302.24M144.09 306.59L149.11 303.69M144.09 303.69L149.11 306.59M146.60 309.22L146.60 303.42M144.09 307.77L149.11 304.87M144.09 304.87L149.11 307.77M146.60 310.41L146.60 304.61M144.09 308.96L149.11 306.06M144.09 306.06L149.11 308.96M146.60 311.60L146.60 305.80M144.09 310.15L149.11 307.25M144.09 307.25L149.11 310.15M146.60 312.79L146.60 306.99M144.09 311.34L149.11 308.44M144.09 308.44L149.11 311.34M146.60 313.98L146.60 308.18M144.09 312.53L149.11 309.63M144.09 309.63L149.11 312.53M146.60 315.17L146.60 309.37M144.09 313.72L149.11 310.82M144.09 310.82L149.11 313.72M146.60 316.36L146.60 310.56M144.09 314.91L149.11 312.01M144.09 312.01L149.11 314.91M146.60 317.55L146.60 311.75M144.09 316.10L149.11 313.20M144.09 313.20L149.11 316.10M146.60 318.74L146.60 312.94M144.09 317.29L149.11 314.39M144.09 314.39L149.11 317.29M146.60 319.93L146.60 314.13M144.09 318.48L149.11 315.58M144.09 315.58L149.11 318.48M146.60 321.12L146.60 315.32M144.09 319.67L149.11 316.77M144.09 316.77L149.11 319.67M146.60 322.31L146.60 316.51M144.09 320.86L149.11 317.96M144.09 317.96L149.11 320.86M146.60 323.49L146.60 317.69M144.09 322.04L149.11 319.14M144.09 319.14L149.11 322.04M146.60 324.68L146.60 318.88M144.09 323.23L149.11 320.33M144.09 320.33L149.11 323.23M146.60 325.87L146.60 320.07M144.09 324.42L149.11 321.52M144.09 321.52L149.11 324.42M146.60 327.06L146.60 321.26M144.09 325.61L149.11 322.71M144.09 322.71L149.11 325.61M146.60 328.25L146.60 322.45M144.09 326.80L149.11 323.90M144.09 323.90L149.11 326.80M146.60 329.44L146.60 323.64M144.09 327.99L149.11 325.09M144.09 325.09L149.11 327.99M146.60 330.63L146.60 324.83M144.09 329.18L149.11 326.28M144.09 326.28L149.11 329.18M146.60 331.82L146.60 326.02M144.09 330.37L149.11 327.47M144.09 327.47L149.11 330.37M146.60 333.01L146.60 327.21M144.09 331.56L149.11 328.66M144.09 328.66L149.11 331.56M146.60 334.20L146.60 328.40M144.09 332.75L149.11 329.85M144.09 329.85L149.11 332.75M146.60 335.39L146.60 329.59M144.09 333.94L149.11 331.04M144.09 331.04L149.11 333.94M146.60 336.58L146.60 330.78M144.09 335.13L149.11 332.23M144.09 332.23L149.11 335.13M146.60 337.76L146.60 331.96M144.09 336.31L149.11 333.41M144.09 333.41L149.11 336.31M146.60 338.95L146.60 333.15M144.09 337.50L149.11 334.60M144.09 334.60L149.11 337.50M146.60 340.14L146.60 334.34M144.09 338.69L149.11 335.79M144.09 335.79L149.11 338.69M146.60 341.33L146.60 335.53M144.09 339.88L149.11 336.98M144.09 336.98L149.11 339.88M146.60 342.52L146.60 336.72M144.09 341.07L149.11 338.17M144.09 338.17L149.11 341.07M146.60 343.71L146.60 337.91M144.09 342.26L149.11 339.36M144.09 339.36L149.11 342.26M146.60 344.90L146.60 339.10M144.09 343.45L149.11 340.55M144.09 340.55L149.11 343.45M152.50 320.90L152.50 315.10M149.99 319.45L155.01 316.55M149.99 316.55L155.01 319.45M152.50 322.09L152.50 316.29M149.99 320.64L155.01 317.74M149.99 317.74L155.01 320.64M152.50 323.28L152.50 317.48M149.99 321.83L155.01 318.93M149.99 318.93L155.01 321.83M152.50 324.48L152.50 318.68M149.99 323.03L155.01 320.13M149.99 320.13L155.01 323.03M152.50 325.67L152.50 319.87M149.99 324.22L155.01 321.32M149.99 321.32L155.01 324.22M152.50 326.86L152.50 321.06M149.99 325.41L155.01 322.51M149.99 322.51L155.01 325.41M152.50 328.05L152.50 322.25M149.99 326.60L155.01 323.70M149.99 323.70L155.01 326.60M152.50 329.25L152.50 323.45M149.99 327.80L155.01 324.90M149.99 324.90L155.01 327.80M152.50 330.44L152.50 324.64M149.99 328.99L155.01 326.09M149.99 326.09L155.01 328.99M152.50 331.63L152.50 325.83M149.99 330.18L155.01 327.28M149.99 327.28L155.01 330.18M152.50 332.82L152.50 327.02M149.99 331.37L155.01 328.47M149.99 328.47L155.01 331.37M152.50 334.02L152.50 328.22M149.99 332.57L155.01 329.67M149.99 329.67L155.01 332.57M152.50 335.21L152.50 329.41M149.99 333.76L155.01 330.86M149.99 330.86L155.01 333.76M152.50 336.40L152.50 330.60M149.99 334.95L155.01 332.05M149.99 332.05L155.01 334.95M152.50 337.59L152.50 331.79M149.99 336.14L155.01 333.24M149.99 333.24L155.01 336.14M152.50 338.78L152.50 332.98M149.99 337.33L155.01 334.43M149.99 334.43L155.01 337.33M152.50 339.98L152.50 334.18M149.99 338.53L155.01 335.63M149.99 335.63L155.01 338.53M152.50 341.17L152.50 335.37M149.99 339.72L155.01 336.82M149.99 336.82L155.01 339.72M152.50 342.36L152.50 336.56M149.99 340.91L155.01 338.01M149.99 338.01L155.01 340.91M152.50 343.55L152.50 337.75M149.99 342.10L155.01 339.20M149.99 339.20L155.01 342.10M152.50 344.75L152.50 338.95M149.99 343.30L155.01 340.40M149.99 340.40L155.01 343.30M152.50 345.94L152.50 340.14M149.99 344.49L155.01 341.59M149.99 341.59L155.01 344.49M152.50 347.13L152.50 341.33M149.99 345.68L155.01 342.78M149.99 342.78L155.01 345.68M152.50 348.32L152.50 342.52M149.99 346.87L155.01 343.97M149.99 343.97L155.01 346.87M152.50 349.52L152.50 343.72M149.99 348.07L155.01 345.17M149.99 345.17L155.01 348.07M152.50 350.71L152.50 344.91M149.99 349.26L155.01 346.36M149.99 346.36L155.01 349.26M152.50 351.90L152.50 346.10M149.99 350.45L155.01 347.55M149.99 347.55L155.01 350.45M158.20 308.90L158.20 303.10M155.69 307.45L160.71 304.55M155.69 304.55L160.71 307.45M158.20 310.15L158.20 304.35M155.69 308.70L160.71 305.80M155.69 305.80L160.71 308.70M158.20 311.40L158.20 305.60M155.69 309.95L160.71 307.05M155.69 307.05L160.71 309.95M158.20 312.65L158.20 306.85M155.69 311.20L160.71 308.30M155.69 308.30L160.71 311.20M158.20 313.90L158.20 308.10M155.69 312.45L160.71 309.55M155.69 309.55L160.71 312.45M158.20 315.15L158.20 309.35M155.69 313.70L160.71 310.80M155.69 310.80L160.71 313.70M158.20 316.40L158.20 310.60M155.69 314.95L160.71 312.05M155.69 312.05L160.71 314.95M158.20 317.65L158.20 311.85M155.69 316.20L160.71 313.30M155.69 313.30L160.71 316.20M158.20 318.90L158.20 313.10M155.69 317.45L160.71 314.55M155.69 314.55L160.71 317.45M158.20 320.15L158.20 314.35M155.69 318.70L160.71 315.80M155.69 315.80L160.71 318.70M158.20 321.40L158.20 315.60M155.69 319.95L160.71 317.05M155.69 317.05L160.71 319.95M158.20 322.65L158.20 316.85M155.69 321.20L160.71 318.30M155.69 318.30L160.71 321.20M158.20 323.90L158.20 318.10M155.69 322.45L160.71 319.55M155.69 319.55L160.71 322.45M158.20 328.90L158.20 323.10M155.69 327.45L160.71 324.55M155.69 324.55L160.71 327.45M158.20 330.07L158.20 324.27M155.69 328.62L160.71 325.72M155.69 325.72L160.71 328.62M158.20 331.23L158.20 325.43M155.69 329.78L160.71 326.88M155.69 326.88L160.71 329.78M158.20 332.40L158.20 326.60M155.69 330.95L160.71 328.05M155.69 328.05L160.71 330.95M158.20 333.57L158.20 327.77M155.69 332.12L160.71 329.22M155.69 329.22L160.71 332.12M158.20 334.73L158.20 328.93M155.69 333.28L160.71 330.38M155.69 330.38L160.71 333.28M158.20 335.90L158.20 330.10M155.69 334.45L160.71 331.55M155.69 331.55L160.71 334.45M164.00 299.90L164.00 294.10M161.49 298.45L166.51 295.55M161.49 295.55L166.51 298.45M164.00 301.10L164.00 295.30M161.49 299.65L166.51 296.75M161.49 296.75L166.51 299.65M164.00 302.30L164.00 296.50M161.49 300.85L166.51 297.95M161.49 297.95L166.51 300.85M164.00 303.50L164.00 297.70M161.49 302.05L166.51 299.15M161.49 299.15L166.51 302.05M164.00 304.70L164.00 298.90M161.49 303.25L166.51 300.35M161.49 300.35L166.51 303.25M164.00 305.90L164.00 300.10M161.49 304.45L166.51 301.55M161.49 301.55L166.51 304.45M164.00 307.10L164.00 301.30M161.49 305.65L166.51 302.75M161.49 302.75L166.51 305.65M164.00 308.30L164.00 302.50M161.49 306.85L166.51 303.95M161.49 303.95L166.51 306.85M164.00 309.50L164.00 303.70M161.49 308.05L166.51 305.15M161.49 305.15L166.51 308.05M164.00 310.70L164.00 304.90M161.49 309.25L166.51 306.35M161.49 306.35L166.51 309.25M164.00 311.90L164.00 306.10M161.49 310.45L166.51 307.55M161.49 307.55L166.51 310.45M164.00 313.10L164.00 307.30M161.49 311.65L166.51 308.75M161.49 308.75L166.51 311.65M164.00 314.30L164.00 308.50M161.49 312.85L166.51 309.95M161.49 309.95L166.51 312.85M164.00 315.50L164.00 309.70M161.49 314.05L166.51 311.15M161.49 311.15L166.51 314.05M164.00 316.70L164.00 310.90M161.49 315.25L166.51 312.35M161.49 312.35L166.51 315.25M164.00 317.90L164.00 312.10M161.49 316.45L166.51 313.55M161.49 313.55L166.51 316.45M164.00 319.10L164.00 313.30M161.49 317.65L166.51 314.75M161.49 314.75L166.51 317.65M164.00 320.30L164.00 314.50M161.49 318.85L166.51 315.95M161.49 315.95L166.51 318.85M164.00 321.50L164.00 315.70M161.49 320.05L166.51 317.15M161.49 317.15L166.51 320.05M164.00 322.70L164.00 316.90M161.49 321.25L166.51 318.35M161.49 318.35L166.51 321.25M164.00 323.90L164.00 318.10M161.49 322.45L166.51 319.55M161.49 319.55L166.51 322.45M169.70 297.90L169.70 292.10M167.19 296.45L172.21 293.55M167.19 293.55L172.21 296.45M169.70 299.04L169.70 293.24M167.19 297.59L172.21 294.69M167.19 294.69L172.21 297.59M169.70 300.19L169.70 294.39M167.19 298.74L172.21 295.84M167.19 295.84L172.21 298.74M169.70 301.33L169.70 295.53M167.19 299.88L172.21 296.98M167.19 296.98L172.21 299.88M169.70 302.47L169.70 296.67M167.19 301.02L172.21 298.12M167.19 298.12L172.21 301.02M169.70 303.61L169.70 297.81M167.19 302.16L172.21 299.26M167.19 299.26L172.21 302.16M169.70 304.76L169.70 298.96M167.19 303.31L172.21 300.41M167.19 300.41L172.21 303.31M169.70 305.90L169.70 300.10M167.19 304.45L172.21 301.55M167.19 301.55L172.21 304.45M169.70 316.90L169.70 311.10M167.19 315.45L172.21 312.55M167.19 312.55L172.21 315.45M169.70 318.23L169.70 312.43M167.19 316.78L172.21 313.88M167.19 313.88L172.21 316.78M169.70 319.57L169.70 313.77M167.19 318.12L172.21 315.22M167.19 315.22L172.21 318.12M169.70 320.90L169.70 315.10M167.19 319.45L172.21 316.55M167.19 316.55L172.21 319.45M175.50 284.90L175.50 279.10M172.99 283.45L178.01 280.55M172.99 280.55L178.01 283.45M175.50 286.15L175.50 280.35M172.99 284.70L178.01 281.80M172.99 281.80L178.01 284.70M175.50 287.40L175.50 281.60M172.99 285.95L178.01 283.05M172.99 283.05L178.01 285.95M175.50 288.65L175.50 282.85M172.99 287.20L178.01 284.30M172.99 284.30L178.01 287.20M175.50 289.90L175.50 284.10M172.99 288.45L178.01 285.55M172.99 285.55L178.01 288.45M175.50 291.15L175.50 285.35M172.99 289.70L178.01 286.80M172.99 286.80L178.01 289.70M175.50 292.40L175.50 286.60M172.99 290.95L178.01 288.05M172.99 288.05L178.01 290.95M175.50 293.65L175.50 287.85M172.99 292.20L178.01 289.30M172.99 289.30L178.01 292.20M175.50 294.90L175.50 289.10M172.99 293.45L178.01 290.55M172.99 290.55L178.01 293.45M175.60 302.30L175.60 296.50M173.09 300.85L178.11 297.95M173.09 297.95L178.11 300.85M175.60 271.90L175.60 266.10M173.09 270.45L178.11 267.55M173.09 267.55L178.11 270.45M175.60 273.07L175.60 267.27M173.09 271.62L178.11 268.72M173.09 268.72L178.11 271.62M175.60 274.24L175.60 268.44M173.09 272.79L178.11 269.89M173.09 269.89L178.11 272.79M175.60 275.41L175.60 269.61M173.09 273.96L178.11 271.06M173.09 271.06L178.11 273.96M175.60 276.59L175.60 270.79M173.09 275.14L178.11 272.24M173.09 272.24L178.11 275.14M175.60 277.76L175.60 271.96M173.09 276.31L178.11 273.41M173.09 273.41L178.11 276.31M175.60 278.93L175.60 273.13M173.09 277.48L178.11 274.58M173.09 274.58L178.11 277.48M175.60 280.10L175.60 274.30M173.09 278.65L178.11 275.75M173.09 275.75L178.11 278.65M175.60 281.27L175.60 275.47M173.09 279.82L178.11 276.92M173.09 276.92L178.11 279.82M175.60 282.44L175.60 276.64M173.09 280.99L178.11 278.09M173.09 278.09L178.11 280.99M175.60 283.61L175.60 277.81M173.09 282.16L178.11 279.26M173.09 279.26L178.11 282.16M175.60 284.79L175.60 278.99M173.09 283.34L178.11 280.44M173.09 280.44L178.11 283.34M175.60 285.96L175.60 280.16M173.09 284.51L178.11 281.61M173.09 281.61L178.11 284.51M175.60 287.13L175.60 281.33M173.09 285.68L178.11 282.78M173.09 282.78L178.11 285.68M175.60 288.30L175.60 282.50M173.09 286.85L178.11 283.95M173.09 283.95L178.11 286.85M175.60 289.47L175.60 283.67M173.09 288.02L178.11 285.12M173.09 285.12L178.11 288.02M175.60 290.64L175.60 284.84M173.09 289.19L178.11 286.29M173.09 286.29L178.11 289.19M175.60 291.81L175.60 286.01M173.09 290.36L178.11 287.46M173.09 287.46L178.11 290.36M175.60 292.99L175.60 287.19M173.09 291.54L178.11 288.64M173.09 288.64L178.11 291.54M175.60 294.16L175.60 288.36M173.09 292.71L178.11 289.81M173.09 289.81L178.11 292.71M175.60 295.33L175.60 289.53M173.09 293.88L178.11 290.98M173.09 290.98L178.11 293.88M175.60 296.50L175.60 290.70M173.09 295.05L178.11 292.15M173.09 292.15L178.11 295.05M181.60 276.90L181.60 271.10M179.09 275.45L184.11 272.55M179.09 272.55L184.11 275.45M181.60 278.08L181.60 272.28M179.09 276.63L184.11 273.73M179.09 273.73L184.11 276.63M181.60 279.26L181.60 273.46M179.09 277.81L184.11 274.91M179.09 274.91L184.11 277.81M181.60 280.44L181.60 274.64M179.09 278.99L184.11 276.09M179.09 276.09L184.11 278.99M181.60 281.61L181.60 275.81M179.09 280.16L184.11 277.26M179.09 277.26L184.11 280.16M181.60 282.79L181.60 276.99M179.09 281.34L184.11 278.44M179.09 278.44L184.11 281.34M181.60 283.97L181.60 278.17M179.09 282.52L184.11 279.62M179.09 279.62L184.11 282.52M181.60 285.15L181.60 279.35M179.09 283.70L184.11 280.80M179.09 280.80L184.11 283.70M181.60 286.33L181.60 280.53M179.09 284.88L184.11 281.98M179.09 281.98L184.11 284.88M181.60 287.51L181.60 281.71M179.09 286.06L184.11 283.16M179.09 283.16L184.11 286.06M181.60 288.69L181.60 282.89M179.09 287.24L184.11 284.34M179.09 284.34L184.11 287.24M181.60 289.86L181.60 284.06M179.09 288.41L184.11 285.51M179.09 285.51L184.11 288.41M181.60 291.04L181.60 285.24M179.09 289.59L184.11 286.69M179.09 286.69L184.11 289.59M181.60 292.22L181.60 286.42M179.09 290.77L184.11 287.87M179.09 287.87L184.11 290.77M181.60 293.40L181.60 287.60M179.09 291.95L184.11 289.05M179.09 289.05L184.11 291.95M181.60 294.58L181.60 288.78M179.09 293.13L184.11 290.23M179.09 290.23L184.11 293.13M181.60 295.76L181.60 289.96M179.09 294.31L184.11 291.41M179.09 291.41L184.11 294.31M181.60 296.94L181.60 291.14M179.09 295.49L184.11 292.59M179.09 292.59L184.11 295.49M181.60 298.11L181.60 292.31M179.09 296.66L184.11 293.76M179.09 293.76L184.11 296.66M181.60 299.29L181.60 293.49M179.09 297.84L184.11 294.94M179.09 294.94L184.11 297.84M181.60 300.47L181.60 294.67M179.09 299.02L184.11 296.12M179.09 296.12L184.11 299.02M181.60 301.65L181.60 295.85M179.09 300.20L184.11 297.30M179.09 297.30L184.11 300.20M181.60 302.83L181.60 297.03M179.09 301.38L184.11 298.48M179.09 298.48L184.11 301.38M181.60 304.01L181.60 298.21M179.09 302.56L184.11 299.66M179.09 299.66L184.11 302.56M181.60 305.19L181.60 299.39M179.09 303.74L184.11 300.84M179.09 300.84L184.11 303.74M181.60 306.36L181.60 300.56M179.09 304.91L184.11 302.01M179.09 302.01L184.11 304.91M181.60 307.54L181.60 301.74M179.09 306.09L184.11 303.19M179.09 303.19L184.11 306.09M181.60 308.72L181.60 302.92M179.09 307.27L184.11 304.37M179.09 304.37L184.11 307.27M181.60 309.90L181.60 304.10M179.09 308.45L184.11 305.55M179.09 305.55L184.11 308.45M188.00 278.40L188.00 272.60M185.49 276.95L190.51 274.05M185.49 274.05L190.51 276.95M194.00 277.90L194.00 272.10M191.49 276.45L196.51 273.55M191.49 273.55L196.51 276.45M188.00 285.30L188.00 279.50M185.49 283.85L190.51 280.95M185.49 280.95L190.51 283.85M187.50 264.90L187.50 259.10M184.99 263.45L190.01 260.55M184.99 260.55L190.01 263.45M194.00 262.90L194.00 257.10M191.49 261.45L196.51 258.55M191.49 258.55L196.51 261.45M194.00 264.23L194.00 258.43M191.49 262.78L196.51 259.88M191.49 259.88L196.51 262.78M194.00 265.57L194.00 259.77M191.49 264.12L196.51 261.22M191.49 261.22L196.51 264.12M194.00 266.90L194.00 261.10M191.49 265.45L196.51 262.55M191.49 262.55L196.51 265.45M200.50 261.90L200.50 256.10M197.99 260.45L203.01 257.55M197.99 257.55L203.01 260.45M200.50 263.02L200.50 257.23M197.99 261.57L203.01 258.68M197.99 258.68L203.01 261.57M200.50 264.15L200.50 258.35M197.99 262.70L203.01 259.80M197.99 259.80L203.01 262.70M200.50 265.27L200.50 259.48M197.99 263.82L203.01 260.93M197.99 260.93L203.01 263.82M200.50 266.40L200.50 260.60M197.99 264.95L203.01 262.05M197.99 262.05L203.01 264.95M200.50 267.52L200.50 261.73M197.99 266.07L203.01 263.18M197.99 263.18L203.01 266.07M200.50 268.65L200.50 262.85M197.99 267.20L203.01 264.30M197.99 264.30L203.01 267.20M200.50 269.77L200.50 263.98M197.99 268.32L203.01 265.43M197.99 265.43L203.01 268.32M200.50 270.90L200.50 265.10M197.99 269.45L203.01 266.55M197.99 266.55L203.01 269.45M200.30 245.90L200.30 240.10M197.79 244.45L202.81 241.55M197.79 241.55L202.81 244.45M200.30 247.04L200.30 241.24M197.79 245.59L202.81 242.69M197.79 242.69L202.81 245.59M200.30 248.19L200.30 242.39M197.79 246.74L202.81 243.84M197.79 243.84L202.81 246.74M200.30 249.33L200.30 243.53M197.79 247.88L202.81 244.98M197.79 244.98L202.81 247.88M200.30 250.47L200.30 244.67M197.79 249.02L202.81 246.12M197.79 246.12L202.81 249.02M200.30 251.61L200.30 245.81M197.79 250.16L202.81 247.26M197.79 247.26L202.81 250.16M200.30 252.76L200.30 246.96M197.79 251.31L202.81 248.41M197.79 248.41L202.81 251.31M200.30 253.90L200.30 248.10M197.79 252.45L202.81 249.55M197.79 249.55L202.81 252.45M206.50 238.90L206.50 233.10M203.99 237.45L209.01 234.55M203.99 234.55L209.01 237.45M206.50 240.08L206.50 234.28M203.99 238.63L209.01 235.73M203.99 235.73L209.01 238.63M206.50 241.26L206.50 235.46M203.99 239.81L209.01 236.91M203.99 236.91L209.01 239.81M206.50 242.45L206.50 236.65M203.99 241.00L209.01 238.10M203.99 238.10L209.01 241.00M206.50 243.63L206.50 237.83M203.99 242.18L209.01 239.28M203.99 239.28L209.01 242.18M206.50 244.81L206.50 239.01M203.99 243.36L209.01 240.46M203.99 240.46L209.01 243.36M206.50 245.99L206.50 240.19M203.99 244.54L209.01 241.64M203.99 241.64L209.01 244.54M206.50 247.17L206.50 241.37M203.99 245.72L209.01 242.82M203.99 242.82L209.01 245.72M206.50 248.35L206.50 242.55M203.99 246.90L209.01 244.00M203.99 244.00L209.01 246.90M206.50 249.54L206.50 243.74M203.99 248.09L209.01 245.19M203.99 245.19L209.01 248.09M206.50 250.72L206.50 244.92M203.99 249.27L209.01 246.37M203.99 246.37L209.01 249.27M206.50 251.90L206.50 246.10M203.99 250.45L209.01 247.55M203.99 247.55L209.01 250.45M212.60 241.40L212.60 235.60M210.09 239.95L215.11 237.05M210.09 237.05L215.11 239.95M219.70 240.90L219.70 235.10M217.19 239.45L222.21 236.55M217.19 236.55L222.21 239.45M219.70 242.09L219.70 236.29M217.19 240.64L222.21 237.74M217.19 237.74L222.21 240.64M219.70 243.28L219.70 237.47M217.19 241.82L222.21 238.93M217.19 238.93L222.21 241.82M219.70 244.46L219.70 238.66M217.19 243.01L222.21 240.11M217.19 240.11L222.21 243.01M219.70 245.65L219.70 239.85M217.19 244.20L222.21 241.30M217.19 241.30L222.21 244.20M219.70 246.84L219.70 241.04M217.19 245.39L222.21 242.49M217.19 242.49L222.21 245.39M219.70 248.03L219.70 242.22M217.19 246.57L222.21 243.68M217.19 243.68L222.21 246.57M219.70 249.21L219.70 243.41M217.19 247.76L222.21 244.86M217.19 244.86L222.21 247.76M219.70 250.40L219.70 244.60M217.19 248.95L222.21 246.05M217.19 246.05L222.21 248.95M219.70 251.59L219.70 245.79M217.19 250.14L222.21 247.24M217.19 247.24L222.21 250.14M219.70 252.78L219.70 246.97M217.19 251.32L222.21 248.43M217.19 248.43L222.21 251.32M219.70 253.96L219.70 248.16M217.19 252.51L222.21 249.61M217.19 249.61L222.21 252.51M219.70 255.15L219.70 249.35M217.19 253.70L222.21 250.80M217.19 250.80L222.21 253.70M219.70 256.34L219.70 250.54M217.19 254.89L222.21 251.99M217.19 251.99L222.21 254.89M219.70 257.52L219.70 251.72M217.19 256.07L222.21 253.18M217.19 253.18L222.21 256.07M219.70 258.71L219.70 252.91M217.19 257.26L222.21 254.36M217.19 254.36L222.21 257.26M219.70 259.90L219.70 254.10M217.19 258.45L222.21 255.55M217.19 255.55L222.21 258.45M219.70 264.90L219.70 259.10M217.19 263.45L222.21 260.55M217.19 260.55L222.21 263.45M212.70 263.90L212.70 258.10M210.19 262.45L215.21 259.55M210.19 259.55L215.21 262.45M212.70 265.15L212.70 259.35M210.19 263.70L215.21 260.80M210.19 260.80L215.21 263.70M212.70 266.40L212.70 260.60M210.19 264.95L215.21 262.05M210.19 262.05L215.21 264.95M212.70 267.65L212.70 261.85M210.19 266.20L215.21 263.30M210.19 263.30L215.21 266.20M212.70 268.90L212.70 263.10M210.19 267.45L215.21 264.55M210.19 264.55L215.21 267.45M212.70 270.15L212.70 264.35M210.19 268.70L215.21 265.80M210.19 265.80L215.21 268.70M212.70 271.40L212.70 265.60M210.19 269.95L215.21 267.05M210.19 267.05L215.21 269.95M212.70 272.65L212.70 266.85M210.19 271.20L215.21 268.30M210.19 268.30L215.21 271.20M212.70 273.90L212.70 268.10M210.19 272.45L215.21 269.55M210.19 269.55L215.21 272.45M225.00 237.90L225.00 232.10M222.49 236.45L227.51 233.55M222.49 233.55L227.51 236.45M225.00 239.15L225.00 233.35M222.49 237.70L227.51 234.80M222.49 234.80L227.51 237.70M225.00 240.40L225.00 234.60M222.49 238.95L227.51 236.05M222.49 236.05L227.51 238.95M225.00 241.65L225.00 235.85M222.49 240.20L227.51 237.30M222.49 237.30L227.51 240.20M225.00 242.90L225.00 237.10M222.49 241.45L227.51 238.55M222.49 238.55L227.51 241.45M231.20 230.90L231.20 225.10M228.69 229.45L233.71 226.55M228.69 226.55L233.71 229.45M231.20 240.40L231.20 234.60M228.69 238.95L233.71 236.05M228.69 236.05L233.71 238.95M237.50 215.90L237.50 210.10M234.99 214.45L240.01 211.55M234.99 211.55L240.01 214.45M237.50 217.11L237.50 211.31M234.99 215.66L240.01 212.76M234.99 212.76L240.01 215.66M237.50 218.32L237.50 212.52M234.99 216.87L240.01 213.97M234.99 213.97L240.01 216.87M237.50 219.53L237.50 213.73M234.99 218.08L240.01 215.18M234.99 215.18L240.01 218.08M237.50 220.74L237.50 214.94M234.99 219.29L240.01 216.39M234.99 216.39L240.01 219.29M237.50 221.95L237.50 216.15M234.99 220.50L240.01 217.60M234.99 217.60L240.01 220.50M237.50 223.16L237.50 217.36M234.99 221.71L240.01 218.81M234.99 218.81L240.01 221.71M237.50 224.37L237.50 218.57M234.99 222.92L240.01 220.02M234.99 220.02L240.01 222.92M237.50 225.58L237.50 219.78M234.99 224.13L240.01 221.23M234.99 221.23L240.01 224.13M237.50 226.79L237.50 220.99M234.99 225.34L240.01 222.44M234.99 222.44L240.01 225.34M237.50 228.01L237.50 222.21M234.99 226.56L240.01 223.66M234.99 223.66L240.01 226.56M237.50 229.22L237.50 223.42M234.99 227.77L240.01 224.87M234.99 224.87L240.01 227.77M237.50 230.43L237.50 224.63M234.99 228.98L240.01 226.08M234.99 226.08L240.01 228.98M237.50 231.64L237.50 225.84M234.99 230.19L240.01 227.29M234.99 227.29L240.01 230.19M237.50 232.85L237.50 227.05M234.99 231.40L240.01 228.50M234.99 228.50L240.01 231.40M237.50 234.06L237.50 228.26M234.99 232.61L240.01 229.71M234.99 229.71L240.01 232.61M237.50 235.27L237.50 229.47M234.99 233.82L240.01 230.92M234.99 230.92L240.01 233.82M237.50 236.48L237.50 230.68M234.99 235.03L240.01 232.13M234.99 232.13L240.01 235.03M237.50 237.69L237.50 231.89M234.99 236.24L240.01 233.34M234.99 233.34L240.01 236.24M237.50 238.90L237.50 233.10M234.99 237.45L240.01 234.55M234.99 234.55L240.01 237.45M237.50 201.90L237.50 196.10M234.99 200.45L240.01 197.55M234.99 197.55L240.01 200.45M237.60 188.40L237.60 182.60M235.09 186.95L240.11 184.05M235.09 184.05L240.11 186.95M237.60 189.90L237.60 184.10M235.09 188.45L240.11 185.55M235.09 185.55L240.11 188.45M237.60 191.40L237.60 185.60M235.09 189.95L240.11 187.05M235.09 187.05L240.11 189.95M244.60 210.90L244.60 205.10M242.09 209.45L247.11 206.55M242.09 206.55L247.11 209.45M244.60 212.08L244.60 206.28M242.09 210.63L247.11 207.73M242.09 207.73L247.11 210.63M244.60 213.25L244.60 207.45M242.09 211.80L247.11 208.90M242.09 208.90L247.11 211.80M244.60 214.43L244.60 208.63M242.09 212.98L247.11 210.08M242.09 210.08L247.11 212.98M244.60 215.61L244.60 209.81M242.09 214.16L247.11 211.26M242.09 211.26L247.11 214.16M244.60 216.78L244.60 210.98M242.09 215.33L247.11 212.43M242.09 212.43L247.11 215.33M244.60 217.96L244.60 212.16M242.09 216.51L247.11 213.61M242.09 213.61L247.11 216.51M244.60 219.14L244.60 213.34M242.09 217.69L247.11 214.79M242.09 214.79L247.11 217.69M244.60 220.31L244.60 214.51M242.09 218.86L247.11 215.96M242.09 215.96L247.11 218.86M244.60 221.49L244.60 215.69M242.09 220.04L247.11 217.14M242.09 217.14L247.11 220.04M244.60 222.66L244.60 216.86M242.09 221.21L247.11 218.31M242.09 218.31L247.11 221.21M244.60 223.84L244.60 218.04M242.09 222.39L247.11 219.49M242.09 219.49L247.11 222.39M244.60 225.02L244.60 219.22M242.09 223.57L247.11 220.67M242.09 220.67L247.11 223.57M244.60 226.19L244.60 220.39M242.09 224.74L247.11 221.84M242.09 221.84L247.11 224.74M244.60 227.37L244.60 221.57M242.09 225.92L247.11 223.02M242.09 223.02L247.11 225.92M244.60 228.55L244.60 222.75M242.09 227.10L247.11 224.20M242.09 224.20L247.11 227.10M244.60 229.72L244.60 223.92M242.09 228.27L247.11 225.37M242.09 225.37L247.11 228.27M244.60 230.90L244.60 225.10M242.09 229.45L247.11 226.55M242.09 226.55L247.11 229.45M250.70 213.90L250.70 208.10M248.19 212.45L253.21 209.55M248.19 209.55L253.21 212.45M250.70 215.15L250.70 209.35M248.19 213.70L253.21 210.80M248.19 210.80L253.21 213.70M250.70 216.40L250.70 210.60M248.19 214.95L253.21 212.05M248.19 212.05L253.21 214.95M250.70 217.65L250.70 211.85M248.19 216.20L253.21 213.30M248.19 213.30L253.21 216.20M250.70 218.90L250.70 213.10M248.19 217.45L253.21 214.55M248.19 214.55L253.21 217.45M250.70 220.15L250.70 214.35M248.19 218.70L253.21 215.80M248.19 215.80L253.21 218.70M250.70 221.40L250.70 215.60M248.19 219.95L253.21 217.05M248.19 217.05L253.21 219.95M250.70 222.65L250.70 216.85M248.19 221.20L253.21 218.30M248.19 218.30L253.21 221.20M250.70 223.90L250.70 218.10M248.19 222.45L253.21 219.55M248.19 219.55L253.21 222.45M250.70 225.15L250.70 219.35M248.19 223.70L253.21 220.80M248.19 220.80L253.21 223.70M250.70 226.40L250.70 220.60M248.19 224.95L253.21 222.05M248.19 222.05L253.21 224.95M250.70 227.65L250.70 221.85M248.19 226.20L253.21 223.30M248.19 223.30L253.21 226.20M250.70 228.90L250.70 223.10M248.19 227.45L253.21 224.55M248.19 224.55L253.21 227.45M256.70 213.90L256.70 208.10M254.19 212.45L259.21 209.55M254.19 209.55L259.21 212.45M256.70 215.12L256.70 209.32M254.19 213.67L259.21 210.77M254.19 210.77L259.21 213.67M256.70 216.34L256.70 210.54M254.19 214.89L259.21 211.99M254.19 211.99L259.21 214.89M256.70 217.57L256.70 211.77M254.19 216.12L259.21 213.22M254.19 213.22L259.21 216.12M256.70 218.79L256.70 212.99M254.19 217.34L259.21 214.44M254.19 214.44L259.21 217.34M256.70 220.01L256.70 214.21M254.19 218.56L259.21 215.66M254.19 215.66L259.21 218.56M256.70 221.23L256.70 215.43M254.19 219.78L259.21 216.88M254.19 216.88L259.21 219.78M256.70 222.46L256.70 216.66M254.19 221.01L259.21 218.11M254.19 218.11L259.21 221.01M256.70 223.68L256.70 217.88M254.19 222.23L259.21 219.33M254.19 219.33L259.21 222.23M256.70 224.90L256.70 219.10M254.19 223.45L259.21 220.55M254.19 220.55L259.21 223.45M256.40 199.90L256.40 194.10M253.89 198.45L258.91 195.55M253.89 195.55L258.91 198.45M256.40 204.90L256.40 199.10M253.89 203.45L258.91 200.55M253.89 200.55L258.91 203.45M263.50 197.30L263.50 191.50M260.99 195.85L266.01 192.95M260.99 192.95L266.01 195.85M263.50 200.60L263.50 194.80M260.99 199.15L266.01 196.25M260.99 196.25L266.01 199.15M263.50 206.90L263.50 201.10M260.99 205.45L266.01 202.55M260.99 202.55L266.01 205.45M263.50 210.30L263.50 204.50M260.99 208.85L266.01 205.95M260.99 205.95L266.01 208.85M269.60 188.90L269.60 183.10M267.09 187.45L272.11 184.55M267.09 184.55L272.11 187.45M269.60 190.23L269.60 184.43M267.09 188.78L272.11 185.88M267.09 185.88L272.11 188.78M269.60 191.57L269.60 185.77M267.09 190.12L272.11 187.22M267.09 187.22L272.11 190.12M269.60 192.90L269.60 187.10M267.09 191.45L272.11 188.55M267.09 188.55L272.11 191.45M269.60 206.90L269.60 201.10M267.09 205.45L272.11 202.55M267.09 202.55L272.11 205.45M275.60 191.90L275.60 186.10M273.09 190.45L278.11 187.55M273.09 187.55L278.11 190.45M275.60 193.10L275.60 187.30M273.09 191.65L278.11 188.75M273.09 188.75L278.11 191.65M275.60 194.30L275.60 188.50M273.09 192.85L278.11 189.95M273.09 189.95L278.11 192.85M275.60 195.50L275.60 189.70M273.09 194.05L278.11 191.15M273.09 191.15L278.11 194.05M275.60 196.70L275.60 190.90M273.09 195.25L278.11 192.35M273.09 192.35L278.11 195.25M275.60 197.90L275.60 192.10M273.09 196.45L278.11 193.55M273.09 193.55L278.11 196.45M275.60 199.10L275.60 193.30M273.09 197.65L278.11 194.75M273.09 194.75L278.11 197.65M275.60 200.30L275.60 194.50M273.09 198.85L278.11 195.95M273.09 195.95L278.11 198.85M275.60 201.50L275.60 195.70M273.09 200.05L278.11 197.15M273.09 197.15L278.11 200.05M275.60 202.70L275.60 196.90M273.09 201.25L278.11 198.35M273.09 198.35L278.11 201.25M275.60 203.90L275.60 198.10M273.09 202.45L278.11 199.55M273.09 199.55L278.11 202.45M275.60 205.10L275.60 199.30M273.09 203.65L278.11 200.75M273.09 200.75L278.11 203.65M275.60 206.30L275.60 200.50M273.09 204.85L278.11 201.95M273.09 201.95L278.11 204.85M275.60 207.50L275.60 201.70M273.09 206.05L278.11 203.15M273.09 203.15L278.11 206.05M275.60 208.70L275.60 202.90M273.09 207.25L278.11 204.35M273.09 204.35L278.11 207.25M275.60 209.90L275.60 204.10M273.09 208.45L278.11 205.55M273.09 205.55L278.11 208.45M275.60 211.10L275.60 205.30M273.09 209.65L278.11 206.75M273.09 206.75L278.11 209.65M275.60 212.30L275.60 206.50M273.09 210.85L278.11 207.95M273.09 207.95L278.11 210.85M275.60 213.50L275.60 207.70M273.09 212.05L278.11 209.15M273.09 209.15L278.11 212.05M275.60 214.70L275.60 208.90M273.09 213.25L278.11 210.35M273.09 210.35L278.11 213.25M275.60 215.90L275.60 210.10M273.09 214.45L278.11 211.55M273.09 211.55L278.11 214.45M275.60 221.40L275.60 215.60M273.09 219.95L278.11 217.05M273.09 217.05L278.11 219.95M275.70 171.90L275.70 166.10M273.19 170.45L278.21 167.55M273.19 167.55L278.21 170.45M283.00 199.90L283.00 194.10M280.49 198.45L285.51 195.55M280.49 195.55L285.51 198.45M283.00 205.40L283.00 199.60M280.49 203.95L285.51 201.05M280.49 201.05L285.51 203.95M283.00 211.40L283.00 205.60M280.49 209.95L285.51 207.05M280.49 207.05L285.51 209.95M283.00 212.57L283.00 206.77M280.49 211.12L285.51 208.22M280.49 208.22L285.51 211.12M283.00 213.73L283.00 207.93M280.49 212.28L285.51 209.38M280.49 209.38L285.51 212.28M283.00 214.90L283.00 209.10M280.49 213.45L285.51 210.55M280.49 210.55L285.51 213.45M288.60 183.90L288.60 178.10M286.09 182.45L291.11 179.55M286.09 179.55L291.11 182.45M288.60 212.40L288.60 206.60M286.09 210.95L291.11 208.05M286.09 208.05L291.11 210.95M294.80 183.90L294.80 178.10M292.29 182.45L297.31 179.55M292.29 179.55L297.31 182.45M295.50 173.10L295.50 167.30M292.99 171.65L298.01 168.75M292.99 168.75L298.01 171.65M295.50 202.40L295.50 196.60M292.99 200.95L298.01 198.05M292.99 198.05L298.01 200.95M250.00 257.90L250.00 252.10M247.49 256.45L252.51 253.55M247.49 253.55L252.51 256.45M250.00 263.90L250.00 258.10M247.49 262.45L252.51 259.55M247.49 259.55L252.51 262.45M250.00 279.90L250.00 274.10M247.49 278.45L252.51 275.55M247.49 275.55L252.51 278.45M276.00 241.90L276.00 236.10M273.49 240.45L278.51 237.55M273.49 237.55L278.51 240.45M276.00 246.90L276.00 241.10M273.49 245.45L278.51 242.55M273.49 242.55L278.51 245.45M276.00 251.90L276.00 246.10M273.49 250.45L278.51 247.55M273.49 247.55L278.51 250.45M276.00 257.90L276.00 252.10M273.49 256.45L278.51 253.55M273.49 253.55L278.51 256.45M302.00 114.90L302.00 109.10M299.49 113.45L304.51 110.55M299.49 110.55L304.51 113.45M302.00 150.90L302.00 145.10M299.49 149.45L304.51 146.55M299.49 146.55L304.51 149.45M302.00 152.13L302.00 146.33M299.49 150.68L304.51 147.78M299.49 147.78L304.51 150.68M302.00 153.35L302.00 147.55M299.49 151.90L304.51 149.00M299.49 149.00L304.51 151.90M302.00 154.58L302.00 148.78M299.49 153.13L304.51 150.23M299.49 150.23L304.51 153.13M302.00 155.81L302.00 150.01M299.49 154.36L304.51 151.46M299.49 151.46L304.51 154.36M302.00 157.04L302.00 151.24M299.49 155.59L304.51 152.69M299.49 152.69L304.51 155.59M302.00 158.26L302.00 152.46M299.49 156.81L304.51 153.91M299.49 153.91L304.51 156.81M302.00 159.49L302.00 153.69M299.49 158.04L304.51 155.14M299.49 155.14L304.51 158.04M302.00 160.72L302.00 154.92M299.49 159.27L304.51 156.37M299.49 156.37L304.51 159.27M302.00 161.95L302.00 156.15M299.49 160.50L304.51 157.60M299.49 157.60L304.51 160.50M302.00 163.17L302.00 157.37M299.49 161.72L304.51 158.82M299.49 158.82L304.51 161.72M302.00 164.40L302.00 158.60M299.49 162.95L304.51 160.05M299.49 160.05L304.51 162.95M302.00 165.63L302.00 159.83M299.49 164.18L304.51 161.28M299.49 161.28L304.51 164.18M302.00 166.85L302.00 161.05M299.49 165.40L304.51 162.50M299.49 162.50L304.51 165.40M302.00 168.08L302.00 162.28M299.49 166.63L304.51 163.73M299.49 163.73L304.51 166.63M302.00 169.31L302.00 163.51M299.49 167.86L304.51 164.96M299.49 164.96L304.51 167.86M302.00 170.54L302.00 164.74M299.49 169.09L304.51 166.19M299.49 166.19L304.51 169.09M302.00 171.76L302.00 165.96M299.49 170.31L304.51 167.41M299.49 167.41L304.51 170.31M302.00 172.99L302.00 167.19M299.49 171.54L304.51 168.64M299.49 168.64L304.51 171.54M302.00 174.22L302.00 168.42M299.49 172.77L304.51 169.87M299.49 169.87L304.51 172.77M302.00 175.45L302.00 169.65M299.49 174.00L304.51 171.10M299.49 171.10L304.51 174.00M302.00 176.67L302.00 170.87M299.49 175.22L304.51 172.32M299.49 172.32L304.51 175.22M302.00 177.90L302.00 172.10M299.49 176.45L304.51 173.55M299.49 173.55L304.51 176.45M308.50 180.90L308.50 175.10M305.99 179.45L311.01 176.55M305.99 176.55L311.01 179.45M308.50 182.10L308.50 176.30M305.99 180.65L311.01 177.75M305.99 177.75L311.01 180.65M308.50 183.30L308.50 177.50M305.99 181.85L311.01 178.95M305.99 178.95L311.01 181.85M308.50 184.50L308.50 178.70M305.99 183.05L311.01 180.15M305.99 180.15L311.01 183.05M308.50 185.70L308.50 179.90M305.99 184.25L311.01 181.35M305.99 181.35L311.01 184.25M308.50 186.90L308.50 181.10M305.99 185.45L311.01 182.55M305.99 182.55L311.01 185.45M308.40 163.90L308.40 158.10M305.89 162.45L310.91 159.55M305.89 159.55L310.91 162.45M314.20 168.90L314.20 163.10M311.69 167.45L316.71 164.55M311.69 164.55L316.71 167.45M314.20 170.10L314.20 164.30M311.69 168.65L316.71 165.75M311.69 165.75L316.71 168.65M314.20 171.30L314.20 165.50M311.69 169.85L316.71 166.95M311.69 166.95L316.71 169.85M314.20 172.50L314.20 166.70M311.69 171.05L316.71 168.15M311.69 168.15L316.71 171.05M314.20 173.70L314.20 167.90M311.69 172.25L316.71 169.35M311.69 169.35L316.71 172.25M314.20 174.90L314.20 169.10M311.69 173.45L316.71 170.55M311.69 170.55L316.71 173.45M314.20 176.10L314.20 170.30M311.69 174.65L316.71 171.75M311.69 171.75L316.71 174.65M314.20 177.30L314.20 171.50M311.69 175.85L316.71 172.95M311.69 172.95L316.71 175.85M314.20 178.50L314.20 172.70M311.69 177.05L316.71 174.15M311.69 174.15L316.71 177.05M314.20 179.70L314.20 173.90M311.69 178.25L316.71 175.35M311.69 175.35L316.71 178.25M314.20 180.90L314.20 175.10M311.69 179.45L316.71 176.55M311.69 176.55L316.71 179.45M314.20 182.10L314.20 176.30M311.69 180.65L316.71 177.75M311.69 177.75L316.71 180.65M314.20 183.30L314.20 177.50M311.69 181.85L316.71 178.95M311.69 178.95L316.71 181.85M314.20 184.50L314.20 178.70M311.69 183.05L316.71 180.15M311.69 180.15L316.71 183.05M314.20 185.70L314.20 179.90M311.69 184.25L316.71 181.35M311.69 181.35L316.71 184.25M314.20 186.90L314.20 181.10M311.69 185.45L316.71 182.55M311.69 182.55L316.71 185.45M322.00 183.90L322.00 178.10M319.49 182.45L324.51 179.55M319.49 179.55L324.51 182.45M328.40 183.20L328.40 177.40M325.89 181.75L330.91 178.85M325.89 178.85L330.91 181.75M334.60 175.50L334.60 169.70M332.09 174.05L337.11 171.15M332.09 171.15L337.11 174.05M334.60 182.70L334.60 176.90M332.09 181.25L337.11 178.35M332.09 178.35L337.11 181.25M341.40 166.60L341.40 160.80M338.89 165.15L343.91 162.25M338.89 162.25L343.91 165.15M341.40 175.90L341.40 170.10M338.89 174.45L343.91 171.55M338.89 171.55L343.91 174.45M341.40 177.90L341.40 172.10M338.89 176.45L343.91 173.55M338.89 173.55L343.91 176.45M347.80 166.60L347.80 160.80M345.29 165.15L350.31 162.25M345.29 162.25L350.31 165.15M347.80 185.90L347.80 180.10M345.29 184.45L350.31 181.55M345.29 181.55L350.31 184.45M354.00 185.90L354.00 180.10M351.49 184.45L356.51 181.55M351.49 181.55L356.51 184.45M354.00 150.90L354.00 145.10M351.49 149.45L356.51 146.55M351.49 146.55L356.51 149.45M360.80 150.90L360.80 145.10M358.29 149.45L363.31 146.55M358.29 146.55L363.31 149.45M360.80 182.70L360.80 176.90M358.29 181.25L363.31 178.35M358.29 178.35L363.31 181.25M367.60 182.70L367.60 176.90M365.09 181.25L370.11 178.35M365.09 178.35L370.11 181.25M367.60 174.90L367.60 169.10M365.09 173.45L370.11 170.55M365.09 170.55L370.11 173.45M374.00 136.20L374.00 130.40M371.49 134.75L376.51 131.85M371.49 131.85L376.51 134.75M374.00 140.70L374.00 134.90M371.49 139.25L376.51 136.35M371.49 136.35L376.51 139.25M381.00 136.90L381.00 131.10M378.49 135.45L383.51 132.55M378.49 132.55L383.51 135.45M387.50 135.70L387.50 129.90M384.99 134.25L390.01 131.35M384.99 131.35L390.01 134.25M394.00 135.70L394.00 129.90M391.49 134.25L396.51 131.35M391.49 131.35L396.51 134.25M407.50 136.90L407.50 131.10M404.99 135.45L410.01 132.55M404.99 132.55L410.01 135.45M414.30 136.90L414.30 131.10M411.79 135.45L416.81 132.55M411.79 132.55L416.81 135.45M400.30 114.30L400.30 108.50M397.79 112.85L402.81 109.95M397.79 109.95L402.81 112.85M407.50 114.30L407.50 108.50M404.99 112.85L410.01 109.95M404.99 109.95L410.01 112.85M414.30 112.40L414.30 106.60M411.79 110.95L416.81 108.05M411.79 108.05L416.81 110.95M414.30 114.40L414.30 108.60M411.79 112.95L416.81 110.05M411.79 110.05L416.81 112.95M420.70 113.50L420.70 107.70M418.19 112.05L423.21 109.15M418.19 109.15L423.21 112.05M420.70 102.30L420.70 96.50M418.19 100.85L423.21 97.95M418.19 97.95L423.21 100.85M427.30 102.30L427.30 96.50M424.79 100.85L429.81 97.95M424.79 97.95L429.81 100.85M433.70 114.30L433.70 108.50M431.19 112.85L436.21 109.95M431.19 109.95L436.21 112.85M439.50 114.30L439.50 108.50M436.99 112.85L442.01 109.95M436.99 109.95L442.01 112.85M439.50 136.20L439.50 130.40M436.99 134.75L442.01 131.85M436.99 131.85L442.01 134.75M374.00 166.70L374.00 160.90M371.49 165.25L376.51 162.35M371.49 162.35L376.51 165.25M367.40 176.10L367.40 170.30M364.89 174.65L369.91 171.75M364.89 171.75L369.91 174.65M374.00 176.10L374.00 170.30M371.49 174.65L376.51 171.75M371.49 171.75L376.51 174.65M381.00 186.20L381.00 180.40M378.49 184.75L383.51 181.85M378.49 181.85L383.51 184.75M387.20 186.20L387.20 180.40M384.69 184.75L389.71 181.85M384.69 181.85L389.71 184.75M394.00 182.30L394.00 176.50M391.49 180.85L396.51 177.95M391.49 177.95L396.51 180.85M399.80 182.30L399.80 176.50M397.29 180.85L402.31 177.95M397.29 177.95L402.31 180.85M427.00 182.30L427.00 176.50M424.49 180.85L429.51 177.95M424.49 177.95L429.51 180.85M433.70 182.30L433.70 176.50M431.19 180.85L436.21 177.95M431.19 177.95L436.21 180.85M447.20 112.80L447.20 107.00M444.69 111.35L449.71 108.45M444.69 108.45L449.71 111.35M453.70 112.80L453.70 107.00M451.19 111.35L456.21 108.45M451.19 108.45L456.21 111.35M453.70 105.90L453.70 100.10M451.19 104.45L456.21 101.55M451.19 101.55L456.21 104.45M460.60 105.90L460.60 100.10M458.09 104.45L463.11 101.55M458.09 101.55L463.11 104.45M467.00 113.90L467.00 108.10M464.49 112.45L469.51 109.55M464.49 109.55L469.51 112.45M474.20 113.90L474.20 108.10M471.69 112.45L476.71 109.55M471.69 109.55L476.71 112.45M480.60 112.80L480.60 107.00M478.09 111.35L483.11 108.45M478.09 108.45L483.11 111.35M487.10 112.80L487.10 107.00M484.59 111.35L489.61 108.45M484.59 108.45L489.61 111.35M487.10 105.90L487.10 100.10M484.59 104.45L489.61 101.55M484.59 101.55L489.61 104.45M494.00 105.90L494.00 100.10M491.49 104.45L496.51 101.55M491.49 101.55L496.51 104.45M500.00 113.90L500.00 108.10M497.49 112.45L502.51 109.55M497.49 109.55L502.51 112.45M507.20 113.90L507.20 108.10M504.69 112.45L509.71 109.55M504.69 109.55L509.71 112.45M447.20 136.90L447.20 131.10M444.69 135.45L449.71 132.55M444.69 132.55L449.71 135.45M474.20 136.90L474.20 131.10M471.69 135.45L476.71 132.55M471.69 132.55L476.71 135.45M480.60 136.90L480.60 131.10M478.09 135.45L483.11 132.55M478.09 132.55L483.11 135.45M507.20 136.90L507.20 131.10M504.69 135.45L509.71 132.55M504.69 132.55L509.71 135.45M460.60 183.40L460.60 177.60M458.09 181.95L463.11 179.05M458.09 179.05L463.11 181.95M467.00 183.40L467.00 177.60M464.49 181.95L469.51 179.05M464.49 179.05L469.51 181.95M494.00 183.40L494.00 177.60M491.49 181.95L496.51 179.05M491.49 179.05L496.51 181.95M500.50 183.40L500.50 177.60M497.99 181.95L503.01 179.05M497.99 179.05L503.01 181.95" stroke="#ff0000" stroke-width="1.05" fill="none" stroke-linecap="butt"/><path d="M109.30 379.00a1.2 1.2 0 1 0 2.4 0a1.2 1.2 0 1 0 -2.4 0M112.80 379.00a1.2 1.2 0 1 0 2.4 0a1.2 1.2 0 1 0 -2.4 0M115.80 378.50a1.2 1.2 0 1 0 2.4 0a1.2 1.2 0 1 0 -2.4 0M119.30 374.00a1.2 1.2 0 1 0 2.4 0a1.2 1.2 0 1 0 -2.4 0M124.30 370.50a1.2 1.2 0 1 0 2.4 0a1.2 1.2 0 1 0 -2.4 0M129.10 356.20a1.2 1.2 0 1 0 2.4 0a1.2 1.2 0 1 0 -2.4 0M134.60 326.00a1.2 1.2 0 1 0 2.4 0a1.2 1.2 0 1 0 -2.4 0M134.60 327.21a1.2 1.2 0 1 0 2.4 0a1.2 1.2 0 1 0 -2.4 0M134.60 328.42a1.2 1.2 0 1 0 2.4 0a1.2 1.2 0 1 0 -2.4 0M134.60 329.62a1.2 1.2 0 1 0 2.4 0a1.2 1.2 0 1 0 -2.4 0M134.60 330.83a1.2 1.2 0 1 0 2.4 0a1.2 1.2 0 1 0 -2.4 0M134.60 332.04a1.2 1.2 0 1 0 2.4 0a1.2 1.2 0 1 0 -2.4 0M134.60 333.25a1.2 1.2 0 1 0 2.4 0a1.2 1.2 0 1 0 -2.4 0M134.60 334.46a1.2 1.2 0 1 0 2.4 0a1.2 1.2 0 1 0 -2.4 0M134.60 335.67a1.2 1.2 0 1 0 2.4 0a1.2 1.2 0 1 0 -2.4 0M134.60 336.88a1.2 1.2 0 1 0 2.4 0a1.2 1.2 0 1 0 -2.4 0M134.60 338.08a1.2 1.2 0 1 0 2.4 0a1.2 1.2 0 1 0 -2.4 0M134.60 339.29a1.2 1.2 0 1 0 2.4 0a1.2 1.2 0 1 0 -2.4 0M134.60 340.50a1.2 1.2 0 1 0 2.4 0a1.2 1.2 0 1 0 -2.4 0M134.60 341.71a1.2 1.2 0 1 0 2.4 0a1.2 1.2 0 1 0 -2.4 0M134.60 342.92a1.2 1.2 0 1 0 2.4 0a1.2 1.2 0 1 0 -2.4 0M134.60 344.12a1.2 1.2 0 1 0 2.4 0a1.2 1.2 0 1 0 -2.4 0M134.60 345.33a1.2 1.2 0 1 0 2.4 0a1.2 1.2 0 1 0 -2.4 0M134.60 346.54a1.2 1.2 0 1 0 2.4 0a1.2 1.2 0 1 0 -2.4 0M134.60 347.75a1.2 1.2 0 1 0 2.4 0a1.2 1.2 0 1 0 -2.4 0M134.60 348.96a1.2 1.2 0 1 0 2.4 0a1.2 1.2 0 1 0 -2.4 0M134.60 350.17a1.2 1.2 0 1 0 2.4 0a1.2 1.2 0 1 0 -2.4 0M134.60 351.38a1.2 1.2 0 1 0 2.4 0a1.2 1.2 0 1 0 -2.4 0M134.60 352.58a1.2 1.2 0 1 0 2.4 0a1.2 1.2 0 1 0 -2.4 0M134.60 353.79a1.2 1.2 0 1 0 2.4 0a1.2 1.2 0 1 0 -2.4 0M134.60 355.00a1.2 1.2 0 1 0 2.4 0a1.2 1.2 0 1 0 -2.4 0M139.80 319.50a1.2 1.2 0 1 0 2.4 0a1.2 1.2 0 1 0 -2.4 0M140.00 328.30a1.2 1.2 0 1 0 2.4 0a1.2 1.2 0 1 0 -2.4 0M140.00 333.00a1.2 1.2 0 1 0 2.4 0a1.2 1.2 0 1 0 -2.4 0M140.00 339.00a1.2 1.2 0 1 0 2.4 0a1.2 1.2 0 1 0 -2.4 0M140.00 344.00a1.2 1.2 0 1 0 2.4 0a1.2 1.2 0 1 0 -2.4 0M140.00 347.00a1.2 1.2 0 1 0 2.4 0a1.2 1.2 0 1 0 -2.4 0M140.00 350.70a1.2 1.2 0 1 0 2.4 0a1.2 1.2 0 1 0 -2.4 0M145.40 298.00a1.2 1.2 0 1 0 2.4 0a1.2 1.2 0 1 0 -2.4 0M145.40 299.19a1.2 1.2 0 1 0 2.4 0a1.2 1.2 0 1 0 -2.4 0M145.40 300.38a1.2 1.2 0 1 0 2.4 0a1.2 1.2 0 1 0 -2.4 0M145.40 301.57a1.2 1.2 0 1 0 2.4 0a1.2 1.2 0 1 0 -2.4 0M145.40 302.76a1.2 1.2 0 1 0 2.4 0a1.2 1.2 0 1 0 -2.4 0M145.40 303.95a1.2 1.2 0 1 0 2.4 0a1.2 1.2 0 1 0 -2.4 0M145.40 305.14a1.2 1.2 0 1 0 2.4 0a1.2 1.2 0 1 0 -2.4 0M145.40 306.32a1.2 1.2 0 1 0 2.4 0a1.2 1.2 0 1 0 -2.4 0M145.40 307.51a1.2 1.2 0 1 0 2.4 0a1.2 1.2 0 1 0 -2.4 0M145.40 308.70a1.2 1.2 0 1 0 2.4 0a1.2 1.2 0 1 0 -2.4 0M145.40 309.89a1.2 1.2 0 1 0 2.4 0a1.2 1.2 0 1 0 -2.4 0M145.40 311.08a1.2 1.2 0 1 0 2.4 0a1.2 1.2 0 1 0 -2.4 0M145.40 312.27a1.2 1.2 0 1 0 2.4 0a1.2 1.2 0 1 0 -2.4 0M145.40 313.46a1.2 1.2 0 1 0 2.4 0a1.2 1.2 0 1 0 -2.4 0M145.40 314.65a1.2 1.2 0 1 0 2.4 0a1.2 1.2 0 1 0 -2.4 0M145.40 315.84a1.2 1.2 0 1 0 2.4 0a1.2 1.2 0 1 0 -2.4 0M145.40 317.03a1.2 1.2 0 1 0 2.4 0a1.2 1.2 0 1 0 -2.4 0M145.40 318.22a1.2 1.2 0 1 0 2.4 0a1.2 1.2 0 1 0 -2.4 0M145.40 319.41a1.2 1.2 0 1 0 2.4 0a1.2 1.2 0 1 0 -2.4 0M145.40 320.59a1.2 1.2 0 1 0 2.4 0a1.2 1.2 0 1 0 -2.4 0M145.40 321.78a1.2 1.2 0 1 0 2.4 0a1.2 1.2 0 1 0 -2.4 0M145.40 322.97a1.2 1.2 0 1 0 2.4 0a1.2 1.2 0 1 0 -2.4 0M145.40 324.16a1.2 1.2 0 1 0 2.4 0a1.2 1.2 0 1 0 -2.4 0M145.40 325.35a1.2 1.2 0 1 0 2.4 0a1.2 1.2 0 1 0 -2.4 0M145.40 326.54a1.2 1.2 0 1 0 2.4 0a1.2 1.2 0 1 0 -2.4 0M145.40 327.73a1.2 1.2 0 1 0 2.4 0a1.2 1.2 0 1 0 -2.4 0M145.40 328.92a1.2 1.2 0 1 0 2.4 0a1.2 1.2 0 1 0 -2.4 0M145.40 330.11a1.2 1.2 0 1 0 2.4 0a1.2 1.2 0 1 0 -2.4 0M145.40 331.30a1.2 1.2 0 1 0 2.4 0a1.2 1.2 0 1 0 -2.4 0M145.40 332.49a1.2 1.2 0 1 0 2.4 0a1.2 1.2 0 1 0 -2.4 0M145.40 333.68a1.2 1.2 0 1 0 2.4 0a1.2 1.2 0 1 0 -2.4 0M145.40 334.86a1.2 1.2 0 1 0 2.4 0a1.2 1.2 0 1 0 -2.4 0M145.40 336.05a1.2 1.2 0 1 0 2.4 0a1.2 1.2 0 1 0 -2.4 0M145.40 337.24a1.2 1.2 0 1 0 2.4 0a1.2 1.2 0 1 0 -2.4 0M145.40 338.43a1.2 1.2 0 1 0 2.4 0a1.2 1.2 0 1 0 -2.4 0M145.40 339.62a1.2 1.2 0 1 0 2.4 0a1.2 1.2 0 1 0 -2.4 0M145.40 340.81a1.2 1.2 0 1 0 2.4 0a1.2 1.2 0 1 0 -2.4 0M145.40 342.00a1.2 1.2 0 1 0 2.4 0a1.2 1.2 0 1 0 -2.4 0M151.30 318.00a1.2 1.2 0 1 0 2.4 0a1.2 1.2 0 1 0 -2.4 0M151.30 319.19a1.2 1.2 0 1 0 2.4 0a1.2 1.2 0 1 0 -2.4 0M151.30 320.38a1.2 1.2 0 1 0 2.4 0a1.2 1.2 0 1 0 -2.4 0M151.30 321.58a1.2 1.2 0 1 0 2.4 0a1.2 1.2 0 1 0 -2.4 0M151.30 322.77a1.2 1.2 0 1 0 2.4 0a1.2 1.2 0 1 0 -2.4 0M151.30 323.96a1.2 1.2 0 1 0 2.4 0a1.2 1.2 0 1 0 -2.4 0M151.30 325.15a1.2 1.2 0 1 0 2.4 0a1.2 1.2 0 1 0 -2.4 0M151.30 326.35a1.2 1.2 0 1 0 2.4 0a1.2 1.2 0 1 0 -2.4 0M151.30 327.54a1.2 1.2 0 1 0 2.4 0a1.2 1.2 0 1 0 -2.4 0M151.30 328.73a1.2 1.2 0 1 0 2.4 0a1.2 1.2 0 1 0 -2.4 0M151.30 329.92a1.2 1.2 0 1 0 2.4 0a1.2 1.2 0 1 0 -2.4 0M151.30 331.12a1.2 1.2 0 1 0 2.4 0a1.2 1.2 0 1 0 -2.4 0M151.30 332.31a1.2 1.2 0 1 0 2.4 0a1.2 1.2 0 1 0 -2.4 0M151.30 333.50a1.2 1.2 0 1 0 2.4 0a1.2 1.2 0 1 0 -2.4 0M151.30 334.69a1.2 1.2 0 1 0 2.4 0a1.2 1.2 0 1 0 -2.4 0M151.30 335.88a1.2 1.2 0 1 0 2.4 0a1.2 1.2 0 1 0 -2.4 0M151.30 337.08a1.2 1.2 0 1 0 2.4 0a1.2 1.2 0 1 0 -2.4 0M151.30 338.27a1.2 1.2 0 1 0 2.4 0a1.2 1.2 0 1 0 -2.4 0M151.30 339.46a1.2 1.2 0 1 0 2.4 0a1.2 1.2 0 1 0 -2.4 0M151.30 340.65a1.2 1.2 0 1 0 2.4 0a1.2 1.2 0 1 0 -2.4 0M151.30 341.85a1.2 1.2 0 1 0 2.4 0a1.2 1.2 0 1 0 -2.4 0M151.30 343.04a1.2 1.2 0 1 0 2.4 0a1.2 1.2 0 1 0 -2.4 0M151.30 344.23a1.2 1.2 0 1 0 2.4 0a1.2 1.2 0 1 0 -2.4 0M151.30 345.42a1.2 1.2 0 1 0 2.4 0a1.2 1.2 0 1 0 -2.4 0M151.30 346.62a1.2 1.2 0 1 0 2.4 0a1.2 1.2 0 1 0 -2.4 0M151.30 347.81a1.2 1.2 0 1 0 2.4 0a1.2 1.2 0 1 0 -2.4 0M151.30 349.00a1.2 1.2 0 1 0 2.4 0a1.2 1.2 0 1 0 -2.4 0M157.00 306.00a1.2 1.2 0 1 0 2.4 0a1.2 1.2 0 1 0 -2.4 0M157.00 307.25a1.2 1.2 0 1 0 2.4 0a1.2 1.2 0 1 0 -2.4 0M157.00 308.50a1.2 1.2 0 1 0 2.4 0a1.2 1.2 0 1 0 -2.4 0M157.00 309.75a1.2 1.2 0 1 0 2.4 0a1.2 1.2 0 1 0 -2.4 0M157.00 311.00a1.2 1.2 0 1 0 2.4 0a1.2 1.2 0 1 0 -2.4 0M157.00 312.25a1.2 1.2 0 1 0 2.4 0a1.2 1.2 0 1 0 -2.4 0M157.00 313.50a1.2 1.2 0 1 0 2.4 0a1.2 1.2 0 1 0 -2.4 0M157.00 314.75a1.2 1.2 0 1 0 2.4 0a1.2 1.2 0 1 0 -2.4 0M157.00 316.00a1.2 1.2 0 1 0 2.4 0a1.2 1.2 0 1 0 -2.4 0M157.00 317.25a1.2 1.2 0 1 0 2.4 0a1.2 1.2 0 1 0 -2.4 0M157.00 318.50a1.2 1.2 0 1 0 2.4 0a1.2 1.2 0 1 0 -2.4 0M157.00 319.75a1.2 1.2 0 1 0 2.4 0a1.2 1.2 0 1 0 -2.4 0M157.00 321.00a1.2 1.2 0 1 0 2.4 0a1.2 1.2 0 1 0 -2.4 0M157.00 326.00a1.2 1.2 0 1 0 2.4 0a1.2 1.2 0 1 0 -2.4 0M157.00 327.17a1.2 1.2 0 1 0 2.4 0a1.2 1.2 0 1 0 -2.4 0M157.00 328.33a1.2 1.2 0 1 0 2.4 0a1.2 1.2 0 1 0 -2.4 0M157.00 329.50a1.2 1.2 0 1 0 2.4 0a1.2 1.2 0 1 0 -2.4 0M157.00 330.67a1.2 1.2 0 1 0 2.4 0a1.2 1.2 0 1 0 -2.4 0M157.00 331.83a1.2 1.2 0 1 0 2.4 0a1.2 1.2 0 1 0 -2.4 0M157.00 333.00a1.2 1.2 0 1 0 2.4 0a1.2 1.2 0 1 0 -2.4 0M162.80 297.00a1.2 1.2 0 1 0 2.4 0a1.2 1.2 0 1 0 -2.4 0M162.80 298.20a1.2 1.2 0 1 0 2.4 0a1.2 1.2 0 1 0 -2.4 0M162.80 299.40a1.2 1.2 0 1 0 2.4 0a1.2 1.2 0 1 0 -2.4 0M162.80 300.60a1.2 1.2 0 1 0 2.4 0a1.2 1.2 0 1 0 -2.4 0M162.80 301.80a1.2 1.2 0 1 0 2.4 0a1.2 1.2 0 1 0 -2.4 0M162.80 303.00a1.2 1.2 0 1 0 2.4 0a1.2 1.2 0 1 0 -2.4 0M162.80 304.20a1.2 1.2 0 1 0 2.4 0a1.2 1.2 0 1 0 -2.4 0M162.80 305.40a1.2 1.2 0 1 0 2.4 0a1.2 1.2 0 1 0 -2.4 0M162.80 306.60a1.2 1.2 0 1 0 2.4 0a1.2 1.2 0 1 0 -2.4 0M162.80 307.80a1.2 1.2 0 1 0 2.4 0a1.2 1.2 0 1 0 -2.4 0M162.80 309.00a1.2 1.2 0 1 0 2.4 0a1.2 1.2 0 1 0 -2.4 0M162.80 310.20a1.2 1.2 0 1 0 2.4 0a1.2 1.2 0 1 0 -2.4 0M162.80 311.40a1.2 1.2 0 1 0 2.4 0a1.2 1.2 0 1 0 -2.4 0M162.80 312.60a1.2 1.2 0 1 0 2.4 0a1.2 1.2 0 1 0 -2.4 0M162.80 313.80a1.2 1.2 0 1 0 2.4 0a1.2 1.2 0 1 0 -2.4 0M162.80 315.00a1.2 1.2 0 1 0 2.4 0a1.2 1.2 0 1 0 -2.4 0M162.80 316.20a1.2 1.2 0 1 0 2.4 0a1.2 1.2 0 1 0 -2.4 0M162.80 317.40a1.2 1.2 0 1 0 2.4 0a1.2 1.2 0 1 0 -2.4 0M162.80 318.60a1.2 1.2 0 1 0 2.4 0a1.2 1.2 0 1 0 -2.4 0M162.80 319.80a1.2 1.2 0 1 0 2.4 0a1.2 1.2 0 1 0 -2.4 0M162.80 321.00a1.2 1.2 0 1 0 2.4 0a1.2 1.2 0 1 0 -2.4 0M168.50 295.00a1.2 1.2 0 1 0 2.4 0a1.2 1.2 0 1 0 -2.4 0M168.50 296.14a1.2 1.2 0 1 0 2.4 0a1.2 1.2 0 1 0 -2.4 0M168.50 297.29a1.2 1.2 0 1 0 2.4 0a1.2 1.2 0 1 0 -2.4 0M168.50 298.43a1.2 1.2 0 1 0 2.4 0a1.2 1.2 0 1 0 -2.4 0M168.50 299.57a1.2 1.2 0 1 0 2.4 0a1.2 1.2 0 1 0 -2.4 0M168.50 300.71a1.2 1.2 0 1 0 2.4 0a1.2 1.2 0 1 0 -2.4 0M168.50 301.86a1.2 1.2 0 1 0 2.4 0a1.2 1.2 0 1 0 -2.4 0M168.50 303.00a1.2 1.2 0 1 0 2.4 0a1.2 1.2 0 1 0 -2.4 0M168.50 314.00a1.2 1.2 0 1 0 2.4 0a1.2 1.2 0 1 0 -2.4 0M168.50 315.33a1.2 1.2 0 1 0 2.4 0a1.2 1.2 0 1 0 -2.4 0M168.50 316.67a1.2 1.2 0 1 0 2.4 0a1.2 1.2 0 1 0 -2.4 0M168.50 318.00a1.2 1.2 0 1 0 2.4 0a1.2 1.2 0 1 0 -2.4 0M174.30 282.00a1.2 1.2 0 1 0 2.4 0a1.2 1.2 0 1 0 -2.4 0M174.30 283.25a1.2 1.2 0 1 0 2.4 0a1.2 1.2 0 1 0 -2.4 0M174.30 284.50a1.2 1.2 0 1 0 2.4 0a1.2 1.2 0 1 0 -2.4 0M174.30 285.75a1.2 1.2 0 1 0 2.4 0a1.2 1.2 0 1 0 -2.4 0M174.30 287.00a1.2 1.2 0 1 0 2.4 0a1.2 1.2 0 1 0 -2.4 0M174.30 288.25a1.2 1.2 0 1 0 2.4 0a1.2 1.2 0 1 0 -2.4 0M174.30 289.50a1.2 1.2 0 1 0 2.4 0a1.2 1.2 0 1 0 -2.4 0M174.30 290.75a1.2 1.2 0 1 0 2.4 0a1.2 1.2 0 1 0 -2.4 0M174.30 292.00a1.2 1.2 0 1 0 2.4 0a1.2 1.2 0 1 0 -2.4 0M174.40 299.40a1.2 1.2 0 1 0 2.4 0a1.2 1.2 0 1 0 -2.4 0M174.40 269.00a1.2 1.2 0 1 0 2.4 0a1.2 1.2 0 1 0 -2.4 0M174.40 270.17a1.2 1.2 0 1 0 2.4 0a1.2 1.2 0 1 0 -2.4 0M174.40 271.34a1.2 1.2 0 1 0 2.4 0a1.2 1.2 0 1 0 -2.4 0M174.40 272.51a1.2 1.2 0 1 0 2.4 0a1.2 1.2 0 1 0 -2.4 0M174.40 273.69a1.2 1.2 0 1 0 2.4 0a1.2 1.2 0 1 0 -2.4 0M174.40 274.86a1.2 1.2 0 1 0 2.4 0a1.2 1.2 0 1 0 -2.4 0M174.40 276.03a1.2 1.2 0 1 0 2.4 0a1.2 1.2 0 1 0 -2.4 0M174.40 277.20a1.2 1.2 0 1 0 2.4 0a1.2 1.2 0 1 0 -2.4 0M174.40 278.37a1.2 1.2 0 1 0 2.4 0a1.2 1.2 0 1 0 -2.4 0M174.40 279.54a1.2 1.2 0 1 0 2.4 0a1.2 1.2 0 1 0 -2.4 0M174.40 280.71a1.2 1.2 0 1 0 2.4 0a1.2 1.2 0 1 0 -2.4 0M174.40 281.89a1.2 1.2 0 1 0 2.4 0a1.2 1.2 0 1 0 -2.4 0M174.40 283.06a1.2 1.2 0 1 0 2.4 0a1.2 1.2 0 1 0 -2.4 0M174.40 284.23a1.2 1.2 0 1 0 2.4 0a1.2 1.2 0 1 0 -2.4 0M174.40 285.40a1.2 1.2 0 1 0 2.4 0a1.2 1.2 0 1 0 -2.4 0M174.40 286.57a1.2 1.2 0 1 0 2.4 0a1.2 1.2 0 1 0 -2.4 0M174.40 287.74a1.2 1.2 0 1 0 2.4 0a1.2 1.2 0 1 0 -2.4 0M174.40 288.91a1.2 1.2 0 1 0 2.4 0a1.2 1.2 0 1 0 -2.4 0M174.40 290.09a1.2 1.2 0 1 0 2.4 0a1.2 1.2 0 1 0 -2.4 0M174.40 291.26a1.2 1.2 0 1 0 2.4 0a1.2 1.2 0 1 0 -2.4 0M174.40 292.43a1.2 1.2 0 1 0 2.4 0a1.2 1.2 0 1 0 -2.4 0M174.40 293.60a1.2 1.2 0 1 0 2.4 0a1.2 1.2 0 1 0 -2.4 0M180.40 274.00a1.2 1.2 0 1 0 2.4 0a1.2 1.2 0 1 0 -2.4 0M180.40 275.18a1.2 1.2 0 1 0 2.4 0a1.2 1.2 0 1 0 -2.4 0M180.40 276.36a1.2 1.2 0 1 0 2.4 0a1.2 1.2 0 1 0 -2.4 0M180.40 277.54a1.2 1.2 0 1 0 2.4 0a1.2 1.2 0 1 0 -2.4 0M180.40 278.71a1.2 1.2 0 1 0 2.4 0a1.2 1.2 0 1 0 -2.4 0M180.40 279.89a1.2 1.2 0 1 0 2.4 0a1.2 1.2 0 1 0 -2.4 0M180.40 281.07a1.2 1.2 0 1 0 2.4 0a1.2 1.2 0 1 0 -2.4 0M180.40 282.25a1.2 1.2 0 1 0 2.4 0a1.2 1.2 0 1 0 -2.4 0M180.40 283.43a1.2 1.2 0 1 0 2.4 0a1.2 1.2 0 1 0 -2.4 0M180.40 284.61a1.2 1.2 0 1 0 2.4 0a1.2 1.2 0 1 0 -2.4 0M180.40 285.79a1.2 1.2 0 1 0 2.4 0a1.2 1.2 0 1 0 -2.4 0M180.40 286.96a1.2 1.2 0 1 0 2.4 0a1.2 1.2 0 1 0 -2.4 0M180.40 288.14a1.2 1.2 0 1 0 2.4 0a1.2 1.2 0 1 0 -2.4 0M180.40 289.32a1.2 1.2 0 1 0 2.4 0a1.2 1.2 0 1 0 -2.4 0M180.40 290.50a1.2 1.2 0 1 0 2.4 0a1.2 1.2 0 1 0 -2.4 0M180.40 291.68a1.2 1.2 0 1 0 2.4 0a1.2 1.2 0 1 0 -2.4 0M180.40 292.86a1.2 1.2 0 1 0 2.4 0a1.2 1.2 0 1 0 -2.4 0M180.40 294.04a1.2 1.2 0 1 0 2.4 0a1.2 1.2 0 1 0 -2.4 0M180.40 295.21a1.2 1.2 0 1 0 2.4 0a1.2 1.2 0 1 0 -2.4 0M180.40 296.39a1.2 1.2 0 1 0 2.4 0a1.2 1.2 0 1 0 -2.4 0M180.40 297.57a1.2 1.2 0 1 0 2.4 0a1.2 1.2 0 1 0 -2.4 0M180.40 298.75a1.2 1.2 0 1 0 2.4 0a1.2 1.2 0 1 0 -2.4 0M180.40 299.93a1.2 1.2 0 1 0 2.4 0a1.2 1.2 0 1 0 -2.4 0M180.40 301.11a1.2 1.2 0 1 0 2.4 0a1.2 1.2 0 1 0 -2.4 0M180.40 302.29a1.2 1.2 0 1 0 2.4 0a1.2 1.2 0 1 0 -2.4 0M180.40 303.46a1.2 1.2 0 1 0 2.4 0a1.2 1.2 0 1 0 -2.4 0M180.40 304.64a1.2 1.2 0 1 0 2.4 0a1.2 1.2 0 1 0 -2.4 0M180.40 305.82a1.2 1.2 0 1 0 2.4 0a1.2 1.2 0 1 0 -2.4 0M180.40 307.00a1.2 1.2 0 1 0 2.4 0a1.2 1.2 0 1 0 -2.4 0M186.80 275.50a1.2 1.2 0 1 0 2.4 0a1.2 1.2 0 1 0 -2.4 0M192.80 275.00a1.2 1.2 0 1 0 2.4 0a1.2 1.2 0 1 0 -2.4 0M186.80 282.40a1.2 1.2 0 1 0 2.4 0a1.2 1.2 0 1 0 -2.4 0M186.30 262.00a1.2 1.2 0 1 0 2.4 0a1.2 1.2 0 1 0 -2.4 0M192.80 260.00a1.2 1.2 0 1 0 2.4 0a1.2 1.2 0 1 0 -2.4 0M192.80 261.33a1.2 1.2 0 1 0 2.4 0a1.2 1.2 0 1 0 -2.4 0M192.80 262.67a1.2 1.2 0 1 0 2.4 0a1.2 1.2 0 1 0 -2.4 0M192.80 264.00a1.2 1.2 0 1 0 2.4 0a1.2 1.2 0 1 0 -2.4 0M199.30 259.00a1.2 1.2 0 1 0 2.4 0a1.2 1.2 0 1 0 -2.4 0M199.30 260.12a1.2 1.2 0 1 0 2.4 0a1.2 1.2 0 1 0 -2.4 0M199.30 261.25a1.2 1.2 0 1 0 2.4 0a1.2 1.2 0 1 0 -2.4 0M199.30 262.38a1.2 1.2 0 1 0 2.4 0a1.2 1.2 0 1 0 -2.4 0M199.30 263.50a1.2 1.2 0 1 0 2.4 0a1.2 1.2 0 1 0 -2.4 0M199.30 264.62a1.2 1.2 0 1 0 2.4 0a1.2 1.2 0 1 0 -2.4 0M199.30 265.75a1.2 1.2 0 1 0 2.4 0a1.2 1.2 0 1 0 -2.4 0M199.30 266.88a1.2 1.2 0 1 0 2.4 0a1.2 1.2 0 1 0 -2.4 0M199.30 268.00a1.2 1.2 0 1 0 2.4 0a1.2 1.2 0 1 0 -2.4 0M199.10 243.00a1.2 1.2 0 1 0 2.4 0a1.2 1.2 0 1 0 -2.4 0M199.10 244.14a1.2 1.2 0 1 0 2.4 0a1.2 1.2 0 1 0 -2.4 0M199.10 245.29a1.2 1.2 0 1 0 2.4 0a1.2 1.2 0 1 0 -2.4 0M199.10 246.43a1.2 1.2 0 1 0 2.4 0a1.2 1.2 0 1 0 -2.4 0M199.10 247.57a1.2 1.2 0 1 0 2.4 0a1.2 1.2 0 1 0 -2.4 0M199.10 248.71a1.2 1.2 0 1 0 2.4 0a1.2 1.2 0 1 0 -2.4 0M199.10 249.86a1.2 1.2 0 1 0 2.4 0a1.2 1.2 0 1 0 -2.4 0M199.10 251.00a1.2 1.2 0 1 0 2.4 0a1.2 1.2 0 1 0 -2.4 0M205.30 236.00a1.2 1.2 0 1 0 2.4 0a1.2 1.2 0 1 0 -2.4 0M205.30 237.18a1.2 1.2 0 1 0 2.4 0a1.2 1.2 0 1 0 -2.4 0M205.30 238.36a1.2 1.2 0 1 0 2.4 0a1.2 1.2 0 1 0 -2.4 0M205.30 239.55a1.2 1.2 0 1 0 2.4 0a1.2 1.2 0 1 0 -2.4 0M205.30 240.73a1.2 1.2 0 1 0 2.4 0a1.2 1.2 0 1 0 -2.4 0M205.30 241.91a1.2 1.2 0 1 0 2.4 0a1.2 1.2 0 1 0 -2.4 0M205.30 243.09a1.2 1.2 0 1 0 2.4 0a1.2 1.2 0 1 0 -2.4 0M205.30 244.27a1.2 1.2 0 1 0 2.4 0a1.2 1.2 0 1 0 -2.4 0M205.30 245.45a1.2 1.2 0 1 0 2.4 0a1.2 1.2 0 1 0 -2.4 0M205.30 246.64a1.2 1.2 0 1 0 2.4 0a1.2 1.2 0 1 0 -2.4 0M205.30 247.82a1.2 1.2 0 1 0 2.4 0a1.2 1.2 0 1 0 -2.4 0M205.30 249.00a1.2 1.2 0 1 0 2.4 0a1.2 1.2 0 1 0 -2.4 0M211.40 238.50a1.2 1.2 0 1 0 2.4 0a1.2 1.2 0 1 0 -2.4 0M218.50 238.00a1.2 1.2 0 1 0 2.4 0a1.2 1.2 0 1 0 -2.4 0M218.50 239.19a1.2 1.2 0 1 0 2.4 0a1.2 1.2 0 1 0 -2.4 0M218.50 240.38a1.2 1.2 0 1 0 2.4 0a1.2 1.2 0 1 0 -2.4 0M218.50 241.56a1.2 1.2 0 1 0 2.4 0a1.2 1.2 0 1 0 -2.4 0M218.50 242.75a1.2 1.2 0 1 0 2.4 0a1.2 1.2 0 1 0 -2.4 0M218.50 243.94a1.2 1.2 0 1 0 2.4 0a1.2 1.2 0 1 0 -2.4 0M218.50 245.12a1.2 1.2 0 1 0 2.4 0a1.2 1.2 0 1 0 -2.4 0M218.50 246.31a1.2 1.2 0 1 0 2.4 0a1.2 1.2 0 1 0 -2.4 0M218.50 247.50a1.2 1.2 0 1 0 2.4 0a1.2 1.2 0 1 0 -2.4 0M218.50 248.69a1.2 1.2 0 1 0 2.4 0a1.2 1.2 0 1 0 -2.4 0M218.50 249.88a1.2 1.2 0 1 0 2.4 0a1.2 1.2 0 1 0 -2.4 0M218.50 251.06a1.2 1.2 0 1 0 2.4 0a1.2 1.2 0 1 0 -2.4 0M218.50 252.25a1.2 1.2 0 1 0 2.4 0a1.2 1.2 0 1 0 -2.4 0M218.50 253.44a1.2 1.2 0 1 0 2.4 0a1.2 1.2 0 1 0 -2.4 0M218.50 254.62a1.2 1.2 0 1 0 2.4 0a1.2 1.2 0 1 0 -2.4 0M218.50 255.81a1.2 1.2 0 1 0 2.4 0a1.2 1.2 0 1 0 -2.4 0M218.50 257.00a1.2 1.2 0 1 0 2.4 0a1.2 1.2 0 1 0 -2.4 0M218.50 262.00a1.2 1.2 0 1 0 2.4 0a1.2 1.2 0 1 0 -2.4 0M211.50 261.00a1.2 1.2 0 1 0 2.4 0a1.2 1.2 0 1 0 -2.4 0M211.50 262.25a1.2 1.2 0 1 0 2.4 0a1.2 1.2 0 1 0 -2.4 0M211.50 263.50a1.2 1.2 0 1 0 2.4 0a1.2 1.2 0 1 0 -2.4 0M211.50 264.75a1.2 1.2 0 1 0 2.4 0a1.2 1.2 0 1 0 -2.4 0M211.50 266.00a1.2 1.2 0 1 0 2.4 0a1.2 1.2 0 1 0 -2.4 0M211.50 267.25a1.2 1.2 0 1 0 2.4 0a1.2 1.2 0 1 0 -2.4 0M211.50 268.50a1.2 1.2 0 1 0 2.4 0a1.2 1.2 0 1 0 -2.4 0M211.50 269.75a1.2 1.2 0 1 0 2.4 0a1.2 1.2 0 1 0 -2.4 0M211.50 271.00a1.2 1.2 0 1 0 2.4 0a1.2 1.2 0 1 0 -2.4 0M223.80 235.00a1.2 1.2 0 1 0 2.4 0a1.2 1.2 0 1 0 -2.4 0M223.80 236.25a1.2 1.2 0 1 0 2.4 0a1.2 1.2 0 1 0 -2.4 0M223.80 237.50a1.2 1.2 0 1 0 2.4 0a1.2 1.2 0 1 0 -2.4 0M223.80 238.75a1.2 1.2 0 1 0 2.4 0a1.2 1.2 0 1 0 -2.4 0M223.80 240.00a1.2 1.2 0 1 0 2.4 0a1.2 1.2 0 1 0 -2.4 0M230.00 228.00a1.2 1.2 0 1 0 2.4 0a1.2 1.2 0 1 0 -2.4 0M230.00 237.50a1.2 1.2 0 1 0 2.4 0a1.2 1.2 0 1 0 -2.4 0M236.30 213.00a1.2 1.2 0 1 0 2.4 0a1.2 1.2 0 1 0 -2.4 0M236.30 214.21a1.2 1.2 0 1 0 2.4 0a1.2 1.2 0 1 0 -2.4 0M236.30 215.42a1.2 1.2 0 1 0 2.4 0a1.2 1.2 0 1 0 -2.4 0M236.30 216.63a1.2 1.2 0 1 0 2.4 0a1.2 1.2 0 1 0 -2.4 0M236.30 217.84a1.2 1.2 0 1 0 2.4 0a1.2 1.2 0 1 0 -2.4 0M236.30 219.05a1.2 1.2 0 1 0 2.4 0a1.2 1.2 0 1 0 -2.4 0M236.30 220.26a1.2 1.2 0 1 0 2.4 0a1.2 1.2 0 1 0 -2.4 0M236.30 221.47a1.2 1.2 0 1 0 2.4 0a1.2 1.2 0 1 0 -2.4 0M236.30 222.68a1.2 1.2 0 1 0 2.4 0a1.2 1.2 0 1 0 -2.4 0M236.30 223.89a1.2 1.2 0 1 0 2.4 0a1.2 1.2 0 1 0 -2.4 0M236.30 225.11a1.2 1.2 0 1 0 2.4 0a1.2 1.2 0 1 0 -2.4 0M236.30 226.32a1.2 1.2 0 1 0 2.4 0a1.2 1.2 0 1 0 -2.4 0M236.30 227.53a1.2 1.2 0 1 0 2.4 0a1.2 1.2 0 1 0 -2.4 0M236.30 228.74a1.2 1.2 0 1 0 2.4 0a1.2 1.2 0 1 0 -2.4 0M236.30 229.95a1.2 1.2 0 1 0 2.4 0a1.2 1.2 0 1 0 -2.4 0M236.30 231.16a1.2 1.2 0 1 0 2.4 0a1.2 1.2 0 1 0 -2.4 0M236.30 232.37a1.2 1.2 0 1 0 2.4 0a1.2 1.2 0 1 0 -2.4 0M236.30 233.58a1.2 1.2 0 1 0 2.4 0a1.2 1.2 0 1 0 -2.4 0M236.30 234.79a1.2 1.2 0 1 0 2.4 0a1.2 1.2 0 1 0 -2.4 0M236.30 236.00a1.2 1.2 0 1 0 2.4 0a1.2 1.2 0 1 0 -2.4 0M236.30 199.00a1.2 1.2 0 1 0 2.4 0a1.2 1.2 0 1 0 -2.4 0M236.40 185.50a1.2 1.2 0 1 0 2.4 0a1.2 1.2 0 1 0 -2.4 0M236.40 187.00a1.2 1.2 0 1 0 2.4 0a1.2 1.2 0 1 0 -2.4 0M236.40 188.50a1.2 1.2 0 1 0 2.4 0a1.2 1.2 0 1 0 -2.4 0M243.40 208.00a1.2 1.2 0 1 0 2.4 0a1.2 1.2 0 1 0 -2.4 0M243.40 209.18a1.2 1.2 0 1 0 2.4 0a1.2 1.2 0 1 0 -2.4 0M243.40 210.35a1.2 1.2 0 1 0 2.4 0a1.2 1.2 0 1 0 -2.4 0M243.40 211.53a1.2 1.2 0 1 0 2.4 0a1.2 1.2 0 1 0 -2.4 0M243.40 212.71a1.2 1.2 0 1 0 2.4 0a1.2 1.2 0 1 0 -2.4 0M243.40 213.88a1.2 1.2 0 1 0 2.4 0a1.2 1.2 0 1 0 -2.4 0M243.40 215.06a1.2 1.2 0 1 0 2.4 0a1.2 1.2 0 1 0 -2.4 0M243.40 216.24a1.2 1.2 0 1 0 2.4 0a1.2 1.2 0 1 0 -2.4 0M243.40 217.41a1.2 1.2 0 1 0 2.4 0a1.2 1.2 0 1 0 -2.4 0M243.40 218.59a1.2 1.2 0 1 0 2.4 0a1.2 1.2 0 1 0 -2.4 0M243.40 219.76a1.2 1.2 0 1 0 2.4 0a1.2 1.2 0 1 0 -2.4 0M243.40 220.94a1.2 1.2 0 1 0 2.4 0a1.2 1.2 0 1 0 -2.4 0M243.40 222.12a1.2 1.2 0 1 0 2.4 0a1.2 1.2 0 1 0 -2.4 0M243.40 223.29a1.2 1.2 0 1 0 2.4 0a1.2 1.2 0 1 0 -2.4 0M243.40 224.47a1.2 1.2 0 1 0 2.4 0a1.2 1.2 0 1 0 -2.4 0M243.40 225.65a1.2 1.2 0 1 0 2.4 0a1.2 1.2 0 1 0 -2.4 0M243.40 226.82a1.2 1.2 0 1 0 2.4 0a1.2 1.2 0 1 0 -2.4 0M243.40 228.00a1.2 1.2 0 1 0 2.4 0a1.2 1.2 0 1 0 -2.4 0M249.50 211.00a1.2 1.2 0 1 0 2.4 0a1.2 1.2 0 1 0 -2.4 0M249.50 212.25a1.2 1.2 0 1 0 2.4 0a1.2 1.2 0 1 0 -2.4 0M249.50 213.50a1.2 1.2 0 1 0 2.4 0a1.2 1.2 0 1 0 -2.4 0M249.50 214.75a1.2 1.2 0 1 0 2.4 0a1.2 1.2 0 1 0 -2.4 0M249.50 216.00a1.2 1.2 0 1 0 2.4 0a1.2 1.2 0 1 0 -2.4 0M249.50 217.25a1.2 1.2 0 1 0 2.4 0a1.2 1.2 0 1 0 -2.4 0M249.50 218.50a1.2 1.2 0 1 0 2.4 0a1.2 1.2 0 1 0 -2.4 0M249.50 219.75a1.2 1.2 0 1 0 2.4 0a1.2 1.2 0 1 0 -2.4 0M249.50 221.00a1.2 1.2 0 1 0 2.4 0a1.2 1.2 0 1 0 -2.4 0M249.50 222.25a1.2 1.2 0 1 0 2.4 0a1.2 1.2 0 1 0 -2.4 0M249.50 223.50a1.2 1.2 0 1 0 2.4 0a1.2 1.2 0 1 0 -2.4 0M249.50 224.75a1.2 1.2 0 1 0 2.4 0a1.2 1.2 0 1 0 -2.4 0M249.50 226.00a1.2 1.2 0 1 0 2.4 0a1.2 1.2 0 1 0 -2.4 0M255.50 211.00a1.2 1.2 0 1 0 2.4 0a1.2 1.2 0 1 0 -2.4 0M255.50 212.22a1.2 1.2 0 1 0 2.4 0a1.2 1.2 0 1 0 -2.4 0M255.50 213.44a1.2 1.2 0 1 0 2.4 0a1.2 1.2 0 1 0 -2.4 0M255.50 214.67a1.2 1.2 0 1 0 2.4 0a1.2 1.2 0 1 0 -2.4 0M255.50 215.89a1.2 1.2 0 1 0 2.4 0a1.2 1.2 0 1 0 -2.4 0M255.50 217.11a1.2 1.2 0 1 0 2.4 0a1.2 1.2 0 1 0 -2.4 0M255.50 218.33a1.2 1.2 0 1 0 2.4 0a1.2 1.2 0 1 0 -2.4 0M255.50 219.56a1.2 1.2 0 1 0 2.4 0a1.2 1.2 0 1 0 -2.4 0M255.50 220.78a1.2 1.2 0 1 0 2.4 0a1.2 1.2 0 1 0 -2.4 0M255.50 222.00a1.2 1.2 0 1 0 2.4 0a1.2 1.2 0 1 0 -2.4 0M255.20 197.00a1.2 1.2 0 1 0 2.4 0a1.2 1.2 0 1 0 -2.4 0M255.20 202.00a1.2 1.2 0 1 0 2.4 0a1.2 1.2 0 1 0 -2.4 0M262.30 194.40a1.2 1.2 0 1 0 2.4 0a1.2 1.2 0 1 0 -2.4 0M262.30 197.70a1.2 1.2 0 1 0 2.4 0a1.2 1.2 0 1 0 -2.4 0M262.30 204.00a1.2 1.2 0 1 0 2.4 0a1.2 1.2 0 1 0 -2.4 0M262.30 207.40a1.2 1.2 0 1 0 2.4 0a1.2 1.2 0 1 0 -2.4 0M268.40 186.00a1.2 1.2 0 1 0 2.4 0a1.2 1.2 0 1 0 -2.4 0M268.40 187.33a1.2 1.2 0 1 0 2.4 0a1.2 1.2 0 1 0 -2.4 0M268.40 188.67a1.2 1.2 0 1 0 2.4 0a1.2 1.2 0 1 0 -2.4 0M268.40 190.00a1.2 1.2 0 1 0 2.4 0a1.2 1.2 0 1 0 -2.4 0M268.40 204.00a1.2 1.2 0 1 0 2.4 0a1.2 1.2 0 1 0 -2.4 0M274.40 189.00a1.2 1.2 0 1 0 2.4 0a1.2 1.2 0 1 0 -2.4 0M274.40 190.20a1.2 1.2 0 1 0 2.4 0a1.2 1.2 0 1 0 -2.4 0M274.40 191.40a1.2 1.2 0 1 0 2.4 0a1.2 1.2 0 1 0 -2.4 0M274.40 192.60a1.2 1.2 0 1 0 2.4 0a1.2 1.2 0 1 0 -2.4 0M274.40 193.80a1.2 1.2 0 1 0 2.4 0a1.2 1.2 0 1 0 -2.4 0M274.40 195.00a1.2 1.2 0 1 0 2.4 0a1.2 1.2 0 1 0 -2.4 0M274.40 196.20a1.2 1.2 0 1 0 2.4 0a1.2 1.2 0 1 0 -2.4 0M274.40 197.40a1.2 1.2 0 1 0 2.4 0a1.2 1.2 0 1 0 -2.4 0M274.40 198.60a1.2 1.2 0 1 0 2.4 0a1.2 1.2 0 1 0 -2.4 0M274.40 199.80a1.2 1.2 0 1 0 2.4 0a1.2 1.2 0 1 0 -2.4 0M274.40 201.00a1.2 1.2 0 1 0 2.4 0a1.2 1.2 0 1 0 -2.4 0M274.40 202.20a1.2 1.2 0 1 0 2.4 0a1.2 1.2 0 1 0 -2.4 0M274.40 203.40a1.2 1.2 0 1 0 2.4 0a1.2 1.2 0 1 0 -2.4 0M274.40 204.60a1.2 1.2 0 1 0 2.4 0a1.2 1.2 0 1 0 -2.4 0M274.40 205.80a1.2 1.2 0 1 0 2.4 0a1.2 1.2 0 1 0 -2.4 0M274.40 207.00a1.2 1.2 0 1 0 2.4 0a1.2 1.2 0 1 0 -2.4 0M274.40 208.20a1.2 1.2 0 1 0 2.4 0a1.2 1.2 0 1 0 -2.4 0M274.40 209.40a1.2 1.2 0 1 0 2.4 0a1.2 1.2 0 1 0 -2.4 0M274.40 210.60a1.2 1.2 0 1 0 2.4 0a1.2 1.2 0 1 0 -2.4 0M274.40 211.80a1.2 1.2 0 1 0 2.4 0a1.2 1.2 0 1 0 -2.4 0M274.40 213.00a1.2 1.2 0 1 0 2.4 0a1.2 1.2 0 1 0 -2.4 0M274.40 218.50a1.2 1.2 0 1 0 2.4 0a1.2 1.2 0 1 0 -2.4 0M274.50 169.00a1.2 1.2 0 1 0 2.4 0a1.2 1.2 0 1 0 -2.4 0M281.80 197.00a1.2 1.2 0 1 0 2.4 0a1.2 1.2 0 1 0 -2.4 0M281.80 202.50a1.2 1.2 0 1 0 2.4 0a1.2 1.2 0 1 0 -2.4 0M281.80 208.50a1.2 1.2 0 1 0 2.4 0a1.2 1.2 0 1 0 -2.4 0M281.80 209.67a1.2 1.2 0 1 0 2.4 0a1.2 1.2 0 1 0 -2.4 0M281.80 210.83a1.2 1.2 0 1 0 2.4 0a1.2 1.2 0 1 0 -2.4 0M281.80 212.00a1.2 1.2 0 1 0 2.4 0a1.2 1.2 0 1 0 -2.4 0M287.40 181.00a1.2 1.2 0 1 0 2.4 0a1.2 1.2 0 1 0 -2.4 0M287.40 209.50a1.2 1.2 0 1 0 2.4 0a1.2 1.2 0 1 0 -2.4 0M293.60 181.00a1.2 1.2 0 1 0 2.4 0a1.2 1.2 0 1 0 -2.4 0M294.30 170.20a1.2 1.2 0 1 0 2.4 0a1.2 1.2 0 1 0 -2.4 0M294.30 199.50a1.2 1.2 0 1 0 2.4 0a1.2 1.2 0 1 0 -2.4 0M248.80 255.00a1.2 1.2 0 1 0 2.4 0a1.2 1.2 0 1 0 -2.4 0M248.80 261.00a1.2 1.2 0 1 0 2.4 0a1.2 1.2 0 1 0 -2.4 0M248.80 277.00a1.2 1.2 0 1 0 2.4 0a1.2 1.2 0 1 0 -2.4 0M274.80 239.00a1.2 1.2 0 1 0 2.4 0a1.2 1.2 0 1 0 -2.4 0M274.80 244.00a1.2 1.2 0 1 0 2.4 0a1.2 1.2 0 1 0 -2.4 0M274.80 249.00a1.2 1.2 0 1 0 2.4 0a1.2 1.2 0 1 0 -2.4 0M274.80 255.00a1.2 1.2 0 1 0 2.4 0a1.2 1.2 0 1 0 -2.4 0M300.80 112.00a1.2 1.2 0 1 0 2.4 0a1.2 1.2 0 1 0 -2.4 0M300.80 148.00a1.2 1.2 0 1 0 2.4 0a1.2 1.2 0 1 0 -2.4 0M300.80 149.23a1.2 1.2 0 1 0 2.4 0a1.2 1.2 0 1 0 -2.4 0M300.80 150.45a1.2 1.2 0 1 0 2.4 0a1.2 1.2 0 1 0 -2.4 0M300.80 151.68a1.2 1.2 0 1 0 2.4 0a1.2 1.2 0 1 0 -2.4 0M300.80 152.91a1.2 1.2 0 1 0 2.4 0a1.2 1.2 0 1 0 -2.4 0M300.80 154.14a1.2 1.2 0 1 0 2.4 0a1.2 1.2 0 1 0 -2.4 0M300.80 155.36a1.2 1.2 0 1 0 2.4 0a1.2 1.2 0 1 0 -2.4 0M300.80 156.59a1.2 1.2 0 1 0 2.4 0a1.2 1.2 0 1 0 -2.4 0M300.80 157.82a1.2 1.2 0 1 0 2.4 0a1.2 1.2 0 1 0 -2.4 0M300.80 159.05a1.2 1.2 0 1 0 2.4 0a1.2 1.2 0 1 0 -2.4 0M300.80 160.27a1.2 1.2 0 1 0 2.4 0a1.2 1.2 0 1 0 -2.4 0M300.80 161.50a1.2 1.2 0 1 0 2.4 0a1.2 1.2 0 1 0 -2.4 0M300.80 162.73a1.2 1.2 0 1 0 2.4 0a1.2 1.2 0 1 0 -2.4 0M300.80 163.95a1.2 1.2 0 1 0 2.4 0a1.2 1.2 0 1 0 -2.4 0M300.80 165.18a1.2 1.2 0 1 0 2.4 0a1.2 1.2 0 1 0 -2.4 0M300.80 166.41a1.2 1.2 0 1 0 2.4 0a1.2 1.2 0 1 0 -2.4 0M300.80 167.64a1.2 1.2 0 1 0 2.4 0a1.2 1.2 0 1 0 -2.4 0M300.80 168.86a1.2 1.2 0 1 0 2.4 0a1.2 1.2 0 1 0 -2.4 0M300.80 170.09a1.2 1.2 0 1 0 2.4 0a1.2 1.2 0 1 0 -2.4 0M300.80 171.32a1.2 1.2 0 1 0 2.4 0a1.2 1.2 0 1 0 -2.4 0M300.80 172.55a1.2 1.2 0 1 0 2.4 0a1.2 1.2 0 1 0 -2.4 0M300.80 173.77a1.2 1.2 0 1 0 2.4 0a1.2 1.2 0 1 0 -2.4 0M300.80 175.00a1.2 1.2 0 1 0 2.4 0a1.2 1.2 0 1 0 -2.4 0M307.30 178.00a1.2 1.2 0 1 0 2.4 0a1.2 1.2 0 1 0 -2.4 0M307.30 179.20a1.2 1.2 0 1 0 2.4 0a1.2 1.2 0 1 0 -2.4 0M307.30 180.40a1.2 1.2 0 1 0 2.4 0a1.2 1.2 0 1 0 -2.4 0M307.30 181.60a1.2 1.2 0 1 0 2.4 0a1.2 1.2 0 1 0 -2.4 0M307.30 182.80a1.2 1.2 0 1 0 2.4 0a1.2 1.2 0 1 0 -2.4 0M307.30 184.00a1.2 1.2 0 1 0 2.4 0a1.2 1.2 0 1 0 -2.4 0M307.20 161.00a1.2 1.2 0 1 0 2.4 0a1.2 1.2 0 1 0 -2.4 0M313.00 166.00a1.2 1.2 0 1 0 2.4 0a1.2 1.2 0 1 0 -2.4 0M313.00 167.20a1.2 1.2 0 1 0 2.4 0a1.2 1.2 0 1 0 -2.4 0M313.00 168.40a1.2 1.2 0 1 0 2.4 0a1.2 1.2 0 1 0 -2.4 0M313.00 169.60a1.2 1.2 0 1 0 2.4 0a1.2 1.2 0 1 0 -2.4 0M313.00 170.80a1.2 1.2 0 1 0 2.4 0a1.2 1.2 0 1 0 -2.4 0M313.00 172.00a1.2 1.2 0 1 0 2.4 0a1.2 1.2 0 1 0 -2.4 0M313.00 173.20a1.2 1.2 0 1 0 2.4 0a1.2 1.2 0 1 0 -2.4 0M313.00 174.40a1.2 1.2 0 1 0 2.4 0a1.2 1.2 0 1 0 -2.4 0M313.00 175.60a1.2 1.2 0 1 0 2.4 0a1.2 1.2 0 1 0 -2.4 0M313.00 176.80a1.2 1.2 0 1 0 2.4 0a1.2 1.2 0 1 0 -2.4 0M313.00 178.00a1.2 1.2 0 1 0 2.4 0a1.2 1.2 0 1 0 -2.4 0M313.00 179.20a1.2 1.2 0 1 0 2.4 0a1.2 1.2 0 1 0 -2.4 0M313.00 180.40a1.2 1.2 0 1 0 2.4 0a1.2 1.2 0 1 0 -2.4 0M313.00 181.60a1.2 1.2 0 1 0 2.4 0a1.2 1.2 0 1 0 -2.4 0M313.00 182.80a1.2 1.2 0 1 0 2.4 0a1.2 1.2 0 1 0 -2.4 0M313.00 184.00a1.2 1.2 0 1 0 2.4 0a1.2 1.2 0 1 0 -2.4 0M320.80 181.00a1.2 1.2 0 1 0 2.4 0a1.2 1.2 0 1 0 -2.4 0M327.20 180.30a1.2 1.2 0 1 0 2.4 0a1.2 1.2 0 1 0 -2.4 0M333.40 172.60a1.2 1.2 0 1 0 2.4 0a1.2 1.2 0 1 0 -2.4 0M333.40 179.80a1.2 1.2 0 1 0 2.4 0a1.2 1.2 0 1 0 -2.4 0M340.20 163.70a1.2 1.2 0 1 0 2.4 0a1.2 1.2 0 1 0 -2.4 0M340.20 173.00a1.2 1.2 0 1 0 2.4 0a1.2 1.2 0 1 0 -2.4 0M340.20 175.00a1.2 1.2 0 1 0 2.4 0a1.2 1.2 0 1 0 -2.4 0M346.60 163.70a1.2 1.2 0 1 0 2.4 0a1.2 1.2 0 1 0 -2.4 0M346.60 183.00a1.2 1.2 0 1 0 2.4 0a1.2 1.2 0 1 0 -2.4 0M352.80 183.00a1.2 1.2 0 1 0 2.4 0a1.2 1.2 0 1 0 -2.4 0M352.80 148.00a1.2 1.2 0 1 0 2.4 0a1.2 1.2 0 1 0 -2.4 0M359.60 148.00a1.2 1.2 0 1 0 2.4 0a1.2 1.2 0 1 0 -2.4 0M359.60 179.80a1.2 1.2 0 1 0 2.4 0a1.2 1.2 0 1 0 -2.4 0M366.40 179.80a1.2 1.2 0 1 0 2.4 0a1.2 1.2 0 1 0 -2.4 0M366.40 172.00a1.2 1.2 0 1 0 2.4 0a1.2 1.2 0 1 0 -2.4 0M372.80 133.30a1.2 1.2 0 1 0 2.4 0a1.2 1.2 0 1 0 -2.4 0M372.80 137.80a1.2 1.2 0 1 0 2.4 0a1.2 1.2 0 1 0 -2.4 0M379.80 134.00a1.2 1.2 0 1 0 2.4 0a1.2 1.2 0 1 0 -2.4 0M386.30 132.80a1.2 1.2 0 1 0 2.4 0a1.2 1.2 0 1 0 -2.4 0M392.80 132.80a1.2 1.2 0 1 0 2.4 0a1.2 1.2 0 1 0 -2.4 0M406.30 134.00a1.2 1.2 0 1 0 2.4 0a1.2 1.2 0 1 0 -2.4 0M413.10 134.00a1.2 1.2 0 1 0 2.4 0a1.2 1.2 0 1 0 -2.4 0M399.10 111.40a1.2 1.2 0 1 0 2.4 0a1.2 1.2 0 1 0 -2.4 0M406.30 111.40a1.2 1.2 0 1 0 2.4 0a1.2 1.2 0 1 0 -2.4 0M413.10 109.50a1.2 1.2 0 1 0 2.4 0a1.2 1.2 0 1 0 -2.4 0M413.10 111.50a1.2 1.2 0 1 0 2.4 0a1.2 1.2 0 1 0 -2.4 0M419.50 110.60a1.2 1.2 0 1 0 2.4 0a1.2 1.2 0 1 0 -2.4 0M419.50 99.40a1.2 1.2 0 1 0 2.4 0a1.2 1.2 0 1 0 -2.4 0M426.10 99.40a1.2 1.2 0 1 0 2.4 0a1.2 1.2 0 1 0 -2.4 0M432.50 111.40a1.2 1.2 0 1 0 2.4 0a1.2 1.2 0 1 0 -2.4 0M438.30 111.40a1.2 1.2 0 1 0 2.4 0a1.2 1.2 0 1 0 -2.4 0M438.30 133.30a1.2 1.2 0 1 0 2.4 0a1.2 1.2 0 1 0 -2.4 0M372.80 163.80a1.2 1.2 0 1 0 2.4 0a1.2 1.2 0 1 0 -2.4 0M366.20 173.20a1.2 1.2 0 1 0 2.4 0a1.2 1.2 0 1 0 -2.4 0M372.80 173.20a1.2 1.2 0 1 0 2.4 0a1.2 1.2 0 1 0 -2.4 0M379.80 183.30a1.2 1.2 0 1 0 2.4 0a1.2 1.2 0 1 0 -2.4 0M386.00 183.30a1.2 1.2 0 1 0 2.4 0a1.2 1.2 0 1 0 -2.4 0M392.80 179.40a1.2 1.2 0 1 0 2.4 0a1.2 1.2 0 1 0 -2.4 0M398.60 179.40a1.2 1.2 0 1 0 2.4 0a1.2 1.2 0 1 0 -2.4 0M425.80 179.40a1.2 1.2 0 1 0 2.4 0a1.2 1.2 0 1 0 -2.4 0M432.50 179.40a1.2 1.2 0 1 0 2.4 0a1.2 1.2 0 1 0 -2.4 0M446.00 109.90a1.2 1.2 0 1 0 2.4 0a1.2 1.2 0 1 0 -2.4 0M452.50 109.90a1.2 1.2 0 1 0 2.4 0a1.2 1.2 0 1 0 -2.4 0M452.50 103.00a1.2 1.2 0 1 0 2.4 0a1.2 1.2 0 1 0 -2.4 0M459.40 103.00a1.2 1.2 0 1 0 2.4 0a1.2 1.2 0 1 0 -2.4 0M465.80 111.00a1.2 1.2 0 1 0 2.4 0a1.2 1.2 0 1 0 -2.4 0M473.00 111.00a1.2 1.2 0 1 0 2.4 0a1.2 1.2 0 1 0 -2.4 0M479.40 109.90a1.2 1.2 0 1 0 2.4 0a1.2 1.2 0 1 0 -2.4 0M485.90 109.90a1.2 1.2 0 1 0 2.4 0a1.2 1.2 0 1 0 -2.4 0M485.90 103.00a1.2 1.2 0 1 0 2.4 0a1.2 1.2 0 1 0 -2.4 0M492.80 103.00a1.2 1.2 0 1 0 2.4 0a1.2 1.2 0 1 0 -2.4 0M498.80 111.00a1.2 1.2 0 1 0 2.4 0a1.2 1.2 0 1 0 -2.4 0M506.00 111.00a1.2 1.2 0 1 0 2.4 0a1.2 1.2 0 1 0 -2.4 0M446.00 134.00a1.2 1.2 0 1 0 2.4 0a1.2 1.2 0 1 0 -2.4 0M473.00 134.00a1.2 1.2 0 1 0 2.4 0a1.2 1.2 0 1 0 -2.4 0M479.40 134.00a1.2 1.2 0 1 0 2.4 0a1.2 1.2 0 1 0 -2.4 0M506.00 134.00a1.2 1.2 0 1 0 2.4 0a1.2 1.2 0 1 0 -2.4 0M459.40 180.50a1.2 1.2 0 1 0 2.4 0a1.2 1.2 0 1 0 -2.4 0M465.80 180.50a1.2 1.2 0 1 0 2.4 0a1.2 1.2 0 1 0 -2.4 0M492.80 180.50a1.2 1.2 0 1 0 2.4 0a1.2 1.2 0 1 0 -2.4 0M499.30 180.50a1.2 1.2 0 1 0 2.4 0a1.2 1.2 0 1 0 -2.4 0" fill="#ff0000"/>
<path d="M106.00 379.40L106.00 373.60M103.49 377.95L108.51 375.05M103.49 375.05L108.51 377.95M106.00 380.65L106.00 374.85M103.49 379.20L108.51 376.30M103.49 376.30L108.51 379.20M106.00 381.90L106.00 376.10M103.49 380.45L108.51 377.55M103.49 377.55L108.51 380.45M106.00 383.15L106.00 377.35M103.49 381.70L108.51 378.80M103.49 378.80L108.51 381.70M106.00 384.40L106.00 378.60M103.49 382.95L108.51 380.05M103.49 380.05L108.51 382.95M106.00 385.65L106.00 379.85M103.49 384.20L108.51 381.30M103.49 381.30L108.51 384.20M106.00 386.90L106.00 381.10M103.49 385.45L108.51 382.55M103.49 382.55L108.51 385.45M106.00 388.15L106.00 382.35M103.49 386.70L108.51 383.80M103.49 383.80L108.51 386.70M106.00 389.40L106.00 383.60M103.49 387.95L108.51 385.05M103.49 385.05L108.51 387.95M107.00 376.90L107.00 371.10M104.49 375.45L109.51 372.55M104.49 372.55L109.51 375.45M107.00 377.90L107.00 372.10M104.49 376.45L109.51 373.55M104.49 373.55L109.51 376.45M107.00 378.90L107.00 373.10M104.49 377.45L109.51 374.55M104.49 374.55L109.51 377.45M110.50 376.40L110.50 370.60M107.99 374.95L113.01 372.05M107.99 372.05L113.01 374.95M110.50 377.40L110.50 371.60M107.99 375.95L113.01 373.05M107.99 373.05L113.01 375.95M114.00 376.40L114.00 370.60M111.49 374.95L116.51 372.05M111.49 372.05L116.51 374.95M114.00 377.40L114.00 371.60M111.49 375.95L116.51 373.05M111.49 373.05L116.51 375.95M117.00 375.90L117.00 370.10M114.49 374.45L119.51 371.55M114.49 371.55L119.51 374.45M117.00 376.90L117.00 371.10M114.49 375.45L119.51 372.55M114.49 372.55L119.51 375.45M120.50 371.40L120.50 365.60M117.99 369.95L123.01 367.05M117.99 367.05L123.01 369.95M120.50 372.40L120.50 366.60M117.99 370.95L123.01 368.05M117.99 368.05L123.01 370.95M124.00 369.40L124.00 363.60M121.49 367.95L126.51 365.05M121.49 365.05L126.51 367.95M124.00 370.15L124.00 364.35M121.49 368.70L126.51 365.80M121.49 365.80L126.51 368.70M124.00 370.90L124.00 365.10M121.49 369.45L126.51 366.55M121.49 366.55L126.51 369.45M127.50 367.90L127.50 362.10M124.99 366.45L130.01 363.55M124.99 363.55L130.01 366.45M127.50 368.65L127.50 362.85M124.99 367.20L130.01 364.30M124.99 364.30L130.01 367.20M127.50 369.40L127.50 363.60M124.99 367.95L130.01 365.05M124.99 365.05L130.01 367.95M131.00 366.40L131.00 360.60M128.49 364.95L133.51 362.05M128.49 362.05L133.51 364.95M131.00 367.15L131.00 361.35M128.49 365.70L133.51 362.80M128.49 362.80L133.51 365.70M131.00 367.90L131.00 362.10M128.49 366.45L133.51 363.55M128.49 363.55L133.51 366.45M134.50 364.40L134.50 358.60M131.99 362.95L137.01 360.05M131.99 360.05L137.01 362.95M134.50 365.15L134.50 359.35M131.99 363.70L137.01 360.80M131.99 360.80L137.01 363.70M134.50 365.90L134.50 360.10M131.99 364.45L137.01 361.55M131.99 361.55L137.01 364.45M137.50 362.90L137.50 357.10M134.99 361.45L140.01 358.55M134.99 358.55L140.01 361.45M137.50 363.65L137.50 357.85M134.99 362.20L140.01 359.30M134.99 359.30L140.01 362.20M137.50 364.40L137.50 358.60M134.99 362.95L140.01 360.05M134.99 360.05L140.01 362.95M141.40 358.40L141.40 352.60M138.89 356.95L143.91 354.05M138.89 354.05L143.91 356.95M141.40 359.65L141.40 353.85M138.89 358.20L143.91 355.30M138.89 355.30L143.91 358.20M141.40 360.90L141.40 355.10M138.89 359.45L143.91 356.55M138.89 356.55L143.91 359.45M146.80 349.90L146.80 344.10M144.29 348.45L149.31 345.55M144.29 345.55L149.31 348.45M146.80 351.15L146.80 345.35M144.29 349.70L149.31 346.80M144.29 346.80L149.31 349.70M146.80 352.40L146.80 346.60M144.29 350.95L149.31 348.05M144.29 348.05L149.31 350.95M146.80 353.65L146.80 347.85M144.29 352.20L149.31 349.30M144.29 349.30L149.31 352.20M146.80 354.90L146.80 349.10M144.29 353.45L149.31 350.55M144.29 350.55L149.31 353.45M152.50 355.90L152.50 350.10M149.99 354.45L155.01 351.55M149.99 351.55L155.01 354.45M152.50 357.15L152.50 351.35M149.99 355.70L155.01 352.80M149.99 352.80L155.01 355.70M152.50 358.40L152.50 352.60M149.99 356.95L155.01 354.05M149.99 354.05L155.01 356.95M158.50 349.40L158.50 343.60M155.99 347.95L161.01 345.05M155.99 345.05L161.01 347.95M158.50 350.65L158.50 344.85M155.99 349.20L161.01 346.30M155.99 346.30L161.01 349.20M158.50 351.90L158.50 346.10M155.99 350.45L161.01 347.55M155.99 347.55L161.01 350.45M164.50 343.90L164.50 338.10M161.99 342.45L167.01 339.55M161.99 339.55L167.01 342.45M164.50 345.15L164.50 339.35M161.99 343.70L167.01 340.80M161.99 340.80L167.01 343.70M164.50 346.40L164.50 340.60M161.99 344.95L167.01 342.05M161.99 342.05L167.01 344.95M170.00 340.90L170.00 335.10M167.49 339.45L172.51 336.55M167.49 336.55L172.51 339.45M170.00 342.15L170.00 336.35M167.49 340.70L172.51 337.80M167.49 337.80L172.51 340.70M170.00 343.40L170.00 337.60M167.49 341.95L172.51 339.05M167.49 339.05L172.51 341.95M175.20 337.20L175.20 331.40M172.69 335.75L177.71 332.85M172.69 332.85L177.71 335.75M175.20 338.50L175.20 332.70M172.69 337.05L177.71 334.15M172.69 334.15L177.71 337.05M175.20 339.80L175.20 334.00M172.69 338.35L177.71 335.45M172.69 335.45L177.71 338.35M181.60 334.30L181.60 328.50M179.09 332.85L184.11 329.95M179.09 329.95L184.11 332.85M181.60 335.60L181.60 329.80M179.09 334.15L184.11 331.25M179.09 331.25L184.11 334.15M181.60 336.90L181.60 331.10M179.09 335.45L184.11 332.55M179.09 332.55L184.11 335.45M188.10 328.80L188.10 323.00M185.59 327.35L190.61 324.45M185.59 324.45L190.61 327.35M188.10 330.10L188.10 324.30M185.59 328.65L190.61 325.75M185.59 325.75L190.61 328.65M188.10 331.40L188.10 325.60M185.59 329.95L190.61 327.05M185.59 327.05L190.61 329.95M194.00 324.30L194.00 318.50M191.49 322.85L196.51 319.95M191.49 319.95L196.51 322.85M194.00 325.60L194.00 319.80M191.49 324.15L196.51 321.25M191.49 321.25L196.51 324.15M194.00 326.90L194.00 321.10M191.49 325.45L196.51 322.55M191.49 322.55L196.51 325.45M200.40 320.40L200.40 314.60M197.89 318.95L202.91 316.05M197.89 316.05L202.91 318.95M200.40 321.70L200.40 315.90M197.89 320.25L202.91 317.35M197.89 317.35L202.91 320.25M200.40 323.00L200.40 317.20M197.89 321.55L202.91 318.65M197.89 318.65L202.91 321.55M206.20 317.10L206.20 311.30M203.69 315.65L208.71 312.75M203.69 312.75L208.71 315.65M206.20 318.40L206.20 312.60M203.69 316.95L208.71 314.05M203.69 314.05L208.71 316.95M206.20 319.70L206.20 313.90M203.69 318.25L208.71 315.35M203.69 315.35L208.71 318.25M212.70 311.90L212.70 306.10M210.19 310.45L215.21 307.55M210.19 307.55L215.21 310.45M212.70 313.20L212.70 307.40M210.19 311.75L215.21 308.85M210.19 308.85L215.21 311.75M212.70 314.50L212.70 308.70M210.19 313.05L215.21 310.15M210.19 310.15L215.21 313.05M218.60 308.40L218.60 302.60M216.09 306.95L221.11 304.05M216.09 304.05L221.11 306.95M218.60 309.70L218.60 303.90M216.09 308.25L221.11 305.35M216.09 305.35L221.11 308.25M218.60 311.00L218.60 305.20M216.09 309.55L221.11 306.65M216.09 306.65L221.11 309.55M225.00 302.90L225.00 297.10M222.49 301.45L227.51 298.55M222.49 298.55L227.51 301.45M225.00 304.20L225.00 298.40M222.49 302.75L227.51 299.85M222.49 299.85L227.51 302.75M225.00 305.50L225.00 299.70M222.49 304.05L227.51 301.15M222.49 301.15L227.51 304.05M231.20 297.80L231.20 292.00M228.69 296.35L233.71 293.45M228.69 293.45L233.71 296.35M231.20 299.10L231.20 293.30M228.69 297.65L233.71 294.75M228.69 294.75L233.71 297.65M231.20 300.40L231.20 294.60M228.69 298.95L233.71 296.05M228.69 296.05L233.71 298.95M237.20 292.10L237.20 286.30M234.69 290.65L239.71 287.75M234.69 287.75L239.71 290.65M237.20 293.40L237.20 287.60M234.69 291.95L239.71 289.05M234.69 289.05L239.71 291.95M237.20 294.70L237.20 288.90M234.69 293.25L239.71 290.35M234.69 290.35L239.71 293.25M244.40 290.70L244.40 284.90M241.89 289.25L246.91 286.35M241.89 286.35L246.91 289.25M244.40 292.10L244.40 286.30M241.89 290.65L246.91 287.75M241.89 287.75L246.91 290.65M244.40 293.50L244.40 287.70M241.89 292.05L246.91 289.15M241.89 289.15L246.91 292.05M250.60 285.50L250.60 279.70M248.09 284.05L253.11 281.15M248.09 281.15L253.11 284.05M250.60 286.70L250.60 280.90M248.09 285.25L253.11 282.35M248.09 282.35L253.11 285.25M250.60 287.90L250.60 282.10M248.09 286.45L253.11 283.55M248.09 283.55L253.11 286.45M256.60 280.30L256.60 274.50M254.09 278.85L259.11 275.95M254.09 275.95L259.11 278.85M256.60 281.50L256.60 275.70M254.09 280.05L259.11 277.15M254.09 277.15L259.11 280.05M256.60 282.70L256.60 276.90M254.09 281.25L259.11 278.35M254.09 278.35L259.11 281.25M263.20 277.90L263.20 272.10M260.69 276.45L265.71 273.55M260.69 273.55L265.71 276.45M263.20 279.03L263.20 273.23M260.69 277.58L265.71 274.68M260.69 274.68L265.71 277.58M263.20 280.17L263.20 274.37M260.69 278.72L265.71 275.82M260.69 275.82L265.71 278.72M263.20 281.30L263.20 275.50M260.69 279.85L265.71 276.95M260.69 276.95L265.71 279.85M269.50 272.40L269.50 266.60M266.99 270.95L272.01 268.05M266.99 268.05L272.01 270.95M269.50 273.55L269.50 267.75M266.99 272.10L272.01 269.20M266.99 269.20L272.01 272.10M269.50 274.70L269.50 268.90M266.99 273.25L272.01 270.35M266.99 270.35L272.01 273.25M276.20 269.40L276.20 263.60M273.69 267.95L278.71 265.05M273.69 265.05L278.71 267.95M276.20 270.73L276.20 264.93M273.69 269.28L278.71 266.38M273.69 266.38L278.71 269.28M276.20 272.07L276.20 266.27M273.69 270.62L278.71 267.72M273.69 267.72L278.71 270.62M276.20 273.40L276.20 267.60M273.69 271.95L278.71 269.05M273.69 269.05L278.71 271.95M282.20 264.90L282.20 259.10M279.69 263.45L284.71 260.55M279.69 260.55L284.71 263.45M282.20 266.15L282.20 260.35M279.69 264.70L284.71 261.80M279.69 261.80L284.71 264.70M282.20 267.40L282.20 261.60M279.69 265.95L284.71 263.05M279.69 263.05L284.71 265.95M282.20 255.40L282.20 249.60M279.69 253.95L284.71 251.05M279.69 251.05L284.71 253.95M282.20 256.65L282.20 250.85M279.69 255.20L284.71 252.30M279.69 252.30L284.71 255.20M282.20 257.90L282.20 252.10M279.69 256.45L284.71 253.55M279.69 253.55L284.71 256.45M282.20 246.90L282.20 241.10M279.69 245.45L284.71 242.55M279.69 242.55L284.71 245.45M282.20 247.90L282.20 242.10M279.69 246.45L284.71 243.55M279.69 243.55L284.71 246.45M282.20 248.90L282.20 243.10M279.69 247.45L284.71 244.55M279.69 244.55L284.71 247.45M282.20 239.30L282.20 233.50M279.69 237.85L284.71 234.95M279.69 234.95L284.71 237.85M289.30 237.90L289.30 232.10M286.79 236.45L291.81 233.55M286.79 233.55L291.81 236.45M289.30 239.11L289.30 233.31M286.79 237.66L291.81 234.76M286.79 234.76L291.81 237.66M289.30 240.32L289.30 234.52M286.79 238.87L291.81 235.97M286.79 235.97L291.81 238.87M289.30 241.53L289.30 235.72M286.79 240.07L291.81 237.18M286.79 237.18L291.81 240.07M289.30 242.73L289.30 236.93M286.79 241.28L291.81 238.38M286.79 238.38L291.81 241.28M289.30 243.94L289.30 238.14M286.79 242.49L291.81 239.59M286.79 239.59L291.81 242.49M289.30 245.15L289.30 239.35M286.79 243.70L291.81 240.80M286.79 240.80L291.81 243.70M289.30 246.36L289.30 240.56M286.79 244.91L291.81 242.01M286.79 242.01L291.81 244.91M289.30 247.57L289.30 241.77M286.79 246.12L291.81 243.22M286.79 243.22L291.81 246.12M289.30 248.78L289.30 242.97M286.79 247.32L291.81 244.43M286.79 244.43L291.81 247.32M289.30 249.98L289.30 244.18M286.79 248.53L291.81 245.63M286.79 245.63L291.81 248.53M289.30 251.19L289.30 245.39M286.79 249.74L291.81 246.84M286.79 246.84L291.81 249.74M289.30 252.40L289.30 246.60M286.79 250.95L291.81 248.05M286.79 248.05L291.81 250.95M295.80 237.40L295.80 231.60M293.29 235.95L298.31 233.05M293.29 233.05L298.31 235.95M295.80 238.58L295.80 232.78M293.29 237.13L298.31 234.23M293.29 234.23L298.31 237.13M295.80 239.76L295.80 233.96M293.29 238.31L298.31 235.41M293.29 235.41L298.31 238.31M295.80 240.95L295.80 235.15M293.29 239.50L298.31 236.60M293.29 236.60L298.31 239.50M295.80 242.13L295.80 236.33M293.29 240.68L298.31 237.78M293.29 237.78L298.31 240.68M295.80 243.31L295.80 237.51M293.29 241.86L298.31 238.96M293.29 238.96L298.31 241.86M295.80 244.49L295.80 238.69M293.29 243.04L298.31 240.14M293.29 240.14L298.31 243.04M295.80 245.67L295.80 239.87M293.29 244.22L298.31 241.32M293.29 241.32L298.31 244.22M295.80 246.85L295.80 241.05M293.29 245.40L298.31 242.50M293.29 242.50L298.31 245.40M295.80 248.04L295.80 242.24M293.29 246.59L298.31 243.69M293.29 243.69L298.31 246.59M295.80 249.22L295.80 243.42M293.29 247.77L298.31 244.87M293.29 244.87L298.31 247.77M295.80 250.40L295.80 244.60M293.29 248.95L298.31 246.05M293.29 246.05L298.31 248.95M308.40 117.20L308.40 111.40M305.89 115.75L310.91 112.85M305.89 112.85L310.91 115.75M308.40 157.40L308.40 151.60M305.89 155.95L310.91 153.05M305.89 153.05L310.91 155.95M308.40 162.30L308.40 156.50M305.89 160.85L310.91 157.95M305.89 157.95L310.91 160.85M308.40 169.90L308.40 164.10M305.89 168.45L310.91 165.55M305.89 165.55L310.91 168.45M321.40 162.30L321.40 156.50M318.89 160.85L323.91 157.95M318.89 157.95L323.91 160.85M341.40 150.90L341.40 145.10M338.89 149.45L343.91 146.55M338.89 146.55L343.91 149.45M341.40 187.90L341.40 182.10M338.89 186.45L343.91 183.55M338.89 183.55L343.91 186.45M341.40 200.90L341.40 195.10M338.89 199.45L343.91 196.55M338.89 196.55L343.91 199.45M341.40 202.23L341.40 196.43M338.89 200.78L343.91 197.88M338.89 197.88L343.91 200.78M341.40 203.57L341.40 197.77M338.89 202.12L343.91 199.22M338.89 199.22L343.91 202.12M341.40 204.90L341.40 199.10M338.89 203.45L343.91 200.55M338.89 200.55L343.91 203.45M347.80 201.90L347.80 196.10M345.29 200.45L350.31 197.55M345.29 197.55L350.31 200.45M308.40 210.90L308.40 205.10M305.89 209.45L310.91 206.55M305.89 206.55L310.91 209.45M308.40 212.11L308.40 206.31M305.89 210.66L310.91 207.76M305.89 207.76L310.91 210.66M308.40 213.33L308.40 207.53M305.89 211.88L310.91 208.98M305.89 208.98L310.91 211.88M308.40 214.54L308.40 208.74M305.89 213.09L310.91 210.19M305.89 210.19L310.91 213.09M308.40 215.76L308.40 209.96M305.89 214.31L310.91 211.41M305.89 211.41L310.91 214.31M308.40 216.97L308.40 211.17M305.89 215.52L310.91 212.62M305.89 212.62L310.91 215.52M308.40 218.19L308.40 212.39M305.89 216.74L310.91 213.84M305.89 213.84L310.91 216.74M308.40 219.40L308.40 213.60M305.89 217.95L310.91 215.05M305.89 215.05L310.91 217.95M308.40 220.61L308.40 214.81M305.89 219.16L310.91 216.26M305.89 216.26L310.91 219.16M308.40 221.83L308.40 216.03M305.89 220.38L310.91 217.48M305.89 217.48L310.91 220.38M308.40 223.04L308.40 217.24M305.89 221.59L310.91 218.69M305.89 218.69L310.91 221.59M308.40 224.26L308.40 218.46M305.89 222.81L310.91 219.91M305.89 219.91L310.91 222.81M308.40 225.47L308.40 219.67M305.89 224.02L310.91 221.12M305.89 221.12L310.91 224.02M308.40 226.69L308.40 220.89M305.89 225.24L310.91 222.34M305.89 222.34L310.91 225.24M308.40 227.90L308.40 222.10M305.89 226.45L310.91 223.55M305.89 223.55L310.91 226.45M315.40 212.40L315.40 206.60M312.89 210.95L317.91 208.05M312.89 208.05L317.91 210.95M315.40 213.58L315.40 207.78M312.89 212.13L317.91 209.23M312.89 209.23L317.91 212.13M315.40 214.76L315.40 208.96M312.89 213.31L317.91 210.41M312.89 210.41L317.91 213.31M315.40 215.94L315.40 210.14M312.89 214.49L317.91 211.59M312.89 211.59L317.91 214.49M315.40 217.11L315.40 211.31M312.89 215.66L317.91 212.76M312.89 212.76L317.91 215.66M315.40 218.29L315.40 212.49M312.89 216.84L317.91 213.94M312.89 213.94L317.91 216.84M315.40 219.47L315.40 213.67M312.89 218.02L317.91 215.12M312.89 215.12L317.91 218.02M315.40 220.65L315.40 214.85M312.89 219.20L317.91 216.30M312.89 216.30L317.91 219.20M315.40 221.83L315.40 216.03M312.89 220.38L317.91 217.48M312.89 217.48L317.91 220.38M315.40 223.01L315.40 217.21M312.89 221.56L317.91 218.66M312.89 218.66L317.91 221.56M315.40 224.19L315.40 218.39M312.89 222.74L317.91 219.84M312.89 219.84L317.91 222.74M315.40 225.36L315.40 219.56M312.89 223.91L317.91 221.01M312.89 221.01L317.91 223.91M315.40 226.54L315.40 220.74M312.89 225.09L317.91 222.19M312.89 222.19L317.91 225.09M315.40 227.72L315.40 221.92M312.89 226.27L317.91 223.37M312.89 223.37L317.91 226.27M315.40 228.90L315.40 223.10M312.89 227.45L317.91 224.55M312.89 224.55L317.91 227.45M321.60 214.90L321.60 209.10M319.09 213.45L324.11 210.55M319.09 210.55L324.11 213.45M321.60 216.15L321.60 210.35M319.09 214.70L324.11 211.80M319.09 211.80L324.11 214.70M321.60 217.40L321.60 211.60M319.09 215.95L324.11 213.05M319.09 213.05L324.11 215.95M321.60 218.65L321.60 212.85M319.09 217.20L324.11 214.30M319.09 214.30L324.11 217.20M321.60 219.90L321.60 214.10M319.09 218.45L324.11 215.55M319.09 215.55L324.11 218.45M321.60 221.15L321.60 215.35M319.09 219.70L324.11 216.80M319.09 216.80L324.11 219.70M321.60 222.40L321.60 216.60M319.09 220.95L324.11 218.05M319.09 218.05L324.11 220.95M321.60 223.65L321.60 217.85M319.09 222.20L324.11 219.30M319.09 219.30L324.11 222.20M321.60 224.90L321.60 219.10M319.09 223.45L324.11 220.55M319.09 220.55L324.11 223.45M321.60 226.15L321.60 220.35M319.09 224.70L324.11 221.80M319.09 221.80L324.11 224.70M321.60 227.40L321.60 221.60M319.09 225.95L324.11 223.05M319.09 223.05L324.11 225.95M328.40 224.40L328.40 218.60M325.89 222.95L330.91 220.05M325.89 220.05L330.91 222.95M341.40 224.40L341.40 218.60M338.89 222.95L343.91 220.05M338.89 220.05L343.91 222.95M347.80 217.60L347.80 211.80M345.29 216.15L350.31 213.25M345.29 213.25L350.31 216.15M354.00 217.60L354.00 211.80M351.49 216.15L356.51 213.25M351.49 213.25L356.51 216.15M354.00 224.40L354.00 218.60M351.49 222.95L356.51 220.05M351.49 220.05L356.51 222.95M360.80 224.40L360.80 218.60M358.29 222.95L363.31 220.05M358.29 220.05L363.31 222.95M301.60 231.90L301.60 226.10M299.09 230.45L304.11 227.55M299.09 227.55L304.11 230.45M302.00 231.90L302.00 226.10M299.49 230.45L304.51 227.55M299.49 227.55L304.51 230.45M302.00 233.23L302.00 227.43M299.49 231.78L304.51 228.88M299.49 228.88L304.51 231.78M302.00 234.57L302.00 228.77M299.49 233.12L304.51 230.22M299.49 230.22L304.51 233.12M302.00 235.90L302.00 230.10M299.49 234.45L304.51 231.55M299.49 231.55L304.51 234.45M308.40 235.90L308.40 230.10M305.89 234.45L310.91 231.55M305.89 231.55L310.91 234.45M328.00 239.30L328.00 233.50M325.49 237.85L330.51 234.95M325.49 234.95L330.51 237.85M334.50 234.90L334.50 229.10M331.99 233.45L337.01 230.55M331.99 230.55L337.01 233.45M334.50 239.30L334.50 233.50M331.99 237.85L337.01 234.95M331.99 234.95L337.01 237.85M341.20 235.90L341.20 230.10M338.69 234.45L343.71 231.55M338.69 231.55L343.71 234.45M361.00 239.30L361.00 233.50M358.49 237.85L363.51 234.95M358.49 234.95L363.51 237.85M367.60 234.90L367.60 229.10M365.09 233.45L370.11 230.55M365.09 230.55L370.11 233.45M367.60 239.30L367.60 233.50M365.09 237.85L370.11 234.95M365.09 234.95L370.11 237.85M374.00 201.70L374.00 195.90M371.49 200.25L376.51 197.35M371.49 197.35L376.51 200.25M381.00 201.70L381.00 195.90M378.49 200.25L383.51 197.35M378.49 197.35L383.51 200.25M407.50 201.70L407.50 195.90M404.99 200.25L410.01 197.35M404.99 197.35L410.01 200.25M414.30 201.70L414.30 195.90M411.79 200.25L416.81 197.35M411.79 197.35L416.81 200.25M439.50 201.70L439.50 195.90M436.99 200.25L442.01 197.35M436.99 197.35L442.01 200.25M381.00 217.60L381.00 211.80M378.49 216.15L383.51 213.25M378.49 213.25L383.51 216.15M387.20 217.60L387.20 211.80M384.69 216.15L389.71 213.25M384.69 213.25L389.71 216.15M414.30 217.60L414.30 211.80M411.79 216.15L416.81 213.25M411.79 213.25L416.81 216.15M420.70 217.60L420.70 211.80M418.19 216.15L423.21 213.25M418.19 213.25L423.21 216.15M387.50 224.90L387.50 219.10M384.99 223.45L390.01 220.55M384.99 220.55L390.01 223.45M394.00 224.90L394.00 219.10M391.49 223.45L396.51 220.55M391.49 220.55L396.51 223.45M420.70 224.90L420.70 219.10M418.19 223.45L423.21 220.55M418.19 220.55L423.21 223.45M427.30 224.90L427.30 219.10M424.79 223.45L429.81 220.55M424.79 220.55L429.81 223.45M374.00 235.60L374.00 229.80M371.49 234.15L376.51 231.25M371.49 231.25L376.51 234.15M394.00 239.50L394.00 233.70M391.49 238.05L396.51 235.15M391.49 235.15L396.51 238.05M400.30 235.60L400.30 229.80M397.79 234.15L402.81 231.25M397.79 231.25L402.81 234.15M400.30 239.50L400.30 233.70M397.79 238.05L402.81 235.15M397.79 235.15L402.81 238.05M407.00 235.60L407.00 229.80M404.49 234.15L409.51 231.25M404.49 231.25L409.51 234.15M427.30 239.50L427.30 233.70M424.79 238.05L429.81 235.15M424.79 235.15L429.81 238.05M433.70 235.60L433.70 229.80M431.19 234.15L436.21 231.25M431.19 231.25L436.21 234.15M433.70 239.50L433.70 233.70M431.19 238.05L436.21 235.15M431.19 235.15L436.21 238.05M439.50 235.60L439.50 229.80M436.99 234.15L442.01 231.25M436.99 231.25L442.01 234.15M447.20 201.70L447.20 195.90M444.69 200.25L449.71 197.35M444.69 197.35L449.71 200.25M474.20 201.70L474.20 195.90M471.69 200.25L476.71 197.35M471.69 197.35L476.71 200.25M480.60 201.70L480.60 195.90M478.09 200.25L483.11 197.35M478.09 197.35L483.11 200.25M507.20 201.70L507.20 195.90M504.69 200.25L509.71 197.35M504.69 197.35L509.71 200.25M447.20 217.40L447.20 211.60M444.69 215.95L449.71 213.05M444.69 213.05L449.71 215.95M453.70 217.40L453.70 211.60M451.19 215.95L456.21 213.05M451.19 213.05L456.21 215.95M480.60 217.40L480.60 211.60M478.09 215.95L483.11 213.05M478.09 213.05L483.11 215.95M487.10 217.40L487.10 211.60M484.59 215.95L489.61 213.05M484.59 213.05L489.61 215.95M453.70 224.80L453.70 219.00M451.19 223.35L456.21 220.45M451.19 220.45L456.21 223.35M460.60 224.80L460.60 219.00M458.09 223.35L463.11 220.45M458.09 220.45L463.11 223.35M487.10 224.80L487.10 219.00M484.59 223.35L489.61 220.45M484.59 220.45L489.61 223.35M494.00 224.80L494.00 219.00M491.49 223.35L496.51 220.45M491.49 220.45L496.51 223.35M460.60 239.40L460.60 233.60M458.09 237.95L463.11 235.05M458.09 235.05L463.11 237.95M467.00 236.20L467.00 230.40M464.49 234.75L469.51 231.85M464.49 231.85L469.51 234.75M467.00 239.40L467.00 233.60M464.49 237.95L469.51 235.05M464.49 235.05L469.51 237.95M474.20 235.70L474.20 229.90M471.69 234.25L476.71 231.35M471.69 231.35L476.71 234.25M494.00 239.40L494.00 233.60M491.49 237.95L496.51 235.05M491.49 235.05L496.51 237.95M500.50 236.20L500.50 230.40M497.99 234.75L503.01 231.85M497.99 231.85L503.01 234.75M500.50 239.40L500.50 233.60M497.99 237.95L503.01 235.05M497.99 235.05L503.01 237.95M507.20 235.70L507.20 229.90M504.69 234.25L509.71 231.35M504.69 231.35L509.71 234.25" stroke="#0000ff" stroke-width="1.05" fill="none" stroke-linecap="butt"/><path d="M104.80 376.50a1.2 1.2 0 1 0 2.4 0a1.2 1.2 0 1 0 -2.4 0M104.80 377.75a1.2 1.2 0 1 0 2.4 0a1.2 1.2 0 1 0 -2.4 0M104.80 379.00a1.2 1.2 0 1 0 2.4 0a1.2 1.2 0 1 0 -2.4 0M104.80 380.25a1.2 1.2 0 1 0 2.4 0a1.2 1.2 0 1 0 -2.4 0M104.80 381.50a1.2 1.2 0 1 0 2.4 0a1.2 1.2 0 1 0 -2.4 0M104.80 382.75a1.2 1.2 0 1 0 2.4 0a1.2 1.2 0 1 0 -2.4 0M104.80 384.00a1.2 1.2 0 1 0 2.4 0a1.2 1.2 0 1 0 -2.4 0M104.80 385.25a1.2 1.2 0 1 0 2.4 0a1.2 1.2 0 1 0 -2.4 0M104.80 386.50a1.2 1.2 0 1 0 2.4 0a1.2 1.2 0 1 0 -2.4 0M105.80 374.00a1.2 1.2 0 1 0 2.4 0a1.2 1.2 0 1 0 -2.4 0M105.80 375.00a1.2 1.2 0 1 0 2.4 0a1.2 1.2 0 1 0 -2.4 0M105.80 376.00a1.2 1.2 0 1 0 2.4 0a1.2 1.2 0 1 0 -2.4 0M109.30 373.50a1.2 1.2 0 1 0 2.4 0a1.2 1.2 0 1 0 -2.4 0M109.30 374.50a1.2 1.2 0 1 0 2.4 0a1.2 1.2 0 1 0 -2.4 0M112.80 373.50a1.2 1.2 0 1 0 2.4 0a1.2 1.2 0 1 0 -2.4 0M112.80 374.50a1.2 1.2 0 1 0 2.4 0a1.2 1.2 0 1 0 -2.4 0M115.80 373.00a1.2 1.2 0 1 0 2.4 0a1.2 1.2 0 1 0 -2.4 0M115.80 374.00a1.2 1.2 0 1 0 2.4 0a1.2 1.2 0 1 0 -2.4 0M119.30 368.50a1.2 1.2 0 1 0 2.4 0a1.2 1.2 0 1 0 -2.4 0M119.30 369.50a1.2 1.2 0 1 0 2.4 0a1.2 1.2 0 1 0 -2.4 0M122.80 366.50a1.2 1.2 0 1 0 2.4 0a1.2 1.2 0 1 0 -2.4 0M122.80 367.25a1.2 1.2 0 1 0 2.4 0a1.2 1.2 0 1 0 -2.4 0M122.80 368.00a1.2 1.2 0 1 0 2.4 0a1.2 1.2 0 1 0 -2.4 0M126.30 365.00a1.2 1.2 0 1 0 2.4 0a1.2 1.2 0 1 0 -2.4 0M126.30 365.75a1.2 1.2 0 1 0 2.4 0a1.2 1.2 0 1 0 -2.4 0M126.30 366.50a1.2 1.2 0 1 0 2.4 0a1.2 1.2 0 1 0 -2.4 0M129.80 363.50a1.2 1.2 0 1 0 2.4 0a1.2 1.2 0 1 0 -2.4 0M129.80 364.25a1.2 1.2 0 1 0 2.4 0a1.2 1.2 0 1 0 -2.4 0M129.80 365.00a1.2 1.2 0 1 0 2.4 0a1.2 1.2 0 1 0 -2.4 0M133.30 361.50a1.2 1.2 0 1 0 2.4 0a1.2 1.2 0 1 0 -2.4 0M133.30 362.25a1.2 1.2 0 1 0 2.4 0a1.2 1.2 0 1 0 -2.4 0M133.30 363.00a1.2 1.2 0 1 0 2.4 0a1.2 1.2 0 1 0 -2.4 0M136.30 360.00a1.2 1.2 0 1 0 2.4 0a1.2 1.2 0 1 0 -2.4 0M136.30 360.75a1.2 1.2 0 1 0 2.4 0a1.2 1.2 0 1 0 -2.4 0M136.30 361.50a1.2 1.2 0 1 0 2.4 0a1.2 1.2 0 1 0 -2.4 0M140.20 355.50a1.2 1.2 0 1 0 2.4 0a1.2 1.2 0 1 0 -2.4 0M140.20 356.75a1.2 1.2 0 1 0 2.4 0a1.2 1.2 0 1 0 -2.4 0M140.20 358.00a1.2 1.2 0 1 0 2.4 0a1.2 1.2 0 1 0 -2.4 0M145.60 347.00a1.2 1.2 0 1 0 2.4 0a1.2 1.2 0 1 0 -2.4 0M145.60 348.25a1.2 1.2 0 1 0 2.4 0a1.2 1.2 0 1 0 -2.4 0M145.60 349.50a1.2 1.2 0 1 0 2.4 0a1.2 1.2 0 1 0 -2.4 0M145.60 350.75a1.2 1.2 0 1 0 2.4 0a1.2 1.2 0 1 0 -2.4 0M145.60 352.00a1.2 1.2 0 1 0 2.4 0a1.2 1.2 0 1 0 -2.4 0M151.30 353.00a1.2 1.2 0 1 0 2.4 0a1.2 1.2 0 1 0 -2.4 0M151.30 354.25a1.2 1.2 0 1 0 2.4 0a1.2 1.2 0 1 0 -2.4 0M151.30 355.50a1.2 1.2 0 1 0 2.4 0a1.2 1.2 0 1 0 -2.4 0M157.30 346.50a1.2 1.2 0 1 0 2.4 0a1.2 1.2 0 1 0 -2.4 0M157.30 347.75a1.2 1.2 0 1 0 2.4 0a1.2 1.2 0 1 0 -2.4 0M157.30 349.00a1.2 1.2 0 1 0 2.4 0a1.2 1.2 0 1 0 -2.4 0M163.30 341.00a1.2 1.2 0 1 0 2.4 0a1.2 1.2 0 1 0 -2.4 0M163.30 342.25a1.2 1.2 0 1 0 2.4 0a1.2 1.2 0 1 0 -2.4 0M163.30 343.50a1.2 1.2 0 1 0 2.4 0a1.2 1.2 0 1 0 -2.4 0M168.80 338.00a1.2 1.2 0 1 0 2.4 0a1.2 1.2 0 1 0 -2.4 0M168.80 339.25a1.2 1.2 0 1 0 2.4 0a1.2 1.2 0 1 0 -2.4 0M168.80 340.50a1.2 1.2 0 1 0 2.4 0a1.2 1.2 0 1 0 -2.4 0M174.00 334.30a1.2 1.2 0 1 0 2.4 0a1.2 1.2 0 1 0 -2.4 0M174.00 335.60a1.2 1.2 0 1 0 2.4 0a1.2 1.2 0 1 0 -2.4 0M174.00 336.90a1.2 1.2 0 1 0 2.4 0a1.2 1.2 0 1 0 -2.4 0M180.40 331.40a1.2 1.2 0 1 0 2.4 0a1.2 1.2 0 1 0 -2.4 0M180.40 332.70a1.2 1.2 0 1 0 2.4 0a1.2 1.2 0 1 0 -2.4 0M180.40 334.00a1.2 1.2 0 1 0 2.4 0a1.2 1.2 0 1 0 -2.4 0M186.90 325.90a1.2 1.2 0 1 0 2.4 0a1.2 1.2 0 1 0 -2.4 0M186.90 327.20a1.2 1.2 0 1 0 2.4 0a1.2 1.2 0 1 0 -2.4 0M186.90 328.50a1.2 1.2 0 1 0 2.4 0a1.2 1.2 0 1 0 -2.4 0M192.80 321.40a1.2 1.2 0 1 0 2.4 0a1.2 1.2 0 1 0 -2.4 0M192.80 322.70a1.2 1.2 0 1 0 2.4 0a1.2 1.2 0 1 0 -2.4 0M192.80 324.00a1.2 1.2 0 1 0 2.4 0a1.2 1.2 0 1 0 -2.4 0M199.20 317.50a1.2 1.2 0 1 0 2.4 0a1.2 1.2 0 1 0 -2.4 0M199.20 318.80a1.2 1.2 0 1 0 2.4 0a1.2 1.2 0 1 0 -2.4 0M199.20 320.10a1.2 1.2 0 1 0 2.4 0a1.2 1.2 0 1 0 -2.4 0M205.00 314.20a1.2 1.2 0 1 0 2.4 0a1.2 1.2 0 1 0 -2.4 0M205.00 315.50a1.2 1.2 0 1 0 2.4 0a1.2 1.2 0 1 0 -2.4 0M205.00 316.80a1.2 1.2 0 1 0 2.4 0a1.2 1.2 0 1 0 -2.4 0M211.50 309.00a1.2 1.2 0 1 0 2.4 0a1.2 1.2 0 1 0 -2.4 0M211.50 310.30a1.2 1.2 0 1 0 2.4 0a1.2 1.2 0 1 0 -2.4 0M211.50 311.60a1.2 1.2 0 1 0 2.4 0a1.2 1.2 0 1 0 -2.4 0M217.40 305.50a1.2 1.2 0 1 0 2.4 0a1.2 1.2 0 1 0 -2.4 0M217.40 306.80a1.2 1.2 0 1 0 2.4 0a1.2 1.2 0 1 0 -2.4 0M217.40 308.10a1.2 1.2 0 1 0 2.4 0a1.2 1.2 0 1 0 -2.4 0M223.80 300.00a1.2 1.2 0 1 0 2.4 0a1.2 1.2 0 1 0 -2.4 0M223.80 301.30a1.2 1.2 0 1 0 2.4 0a1.2 1.2 0 1 0 -2.4 0M223.80 302.60a1.2 1.2 0 1 0 2.4 0a1.2 1.2 0 1 0 -2.4 0M230.00 294.90a1.2 1.2 0 1 0 2.4 0a1.2 1.2 0 1 0 -2.4 0M230.00 296.20a1.2 1.2 0 1 0 2.4 0a1.2 1.2 0 1 0 -2.4 0M230.00 297.50a1.2 1.2 0 1 0 2.4 0a1.2 1.2 0 1 0 -2.4 0M236.00 289.20a1.2 1.2 0 1 0 2.4 0a1.2 1.2 0 1 0 -2.4 0M236.00 290.50a1.2 1.2 0 1 0 2.4 0a1.2 1.2 0 1 0 -2.4 0M236.00 291.80a1.2 1.2 0 1 0 2.4 0a1.2 1.2 0 1 0 -2.4 0M243.20 287.80a1.2 1.2 0 1 0 2.4 0a1.2 1.2 0 1 0 -2.4 0M243.20 289.20a1.2 1.2 0 1 0 2.4 0a1.2 1.2 0 1 0 -2.4 0M243.20 290.60a1.2 1.2 0 1 0 2.4 0a1.2 1.2 0 1 0 -2.4 0M249.40 282.60a1.2 1.2 0 1 0 2.4 0a1.2 1.2 0 1 0 -2.4 0M249.40 283.80a1.2 1.2 0 1 0 2.4 0a1.2 1.2 0 1 0 -2.4 0M249.40 285.00a1.2 1.2 0 1 0 2.4 0a1.2 1.2 0 1 0 -2.4 0M255.40 277.40a1.2 1.2 0 1 0 2.4 0a1.2 1.2 0 1 0 -2.4 0M255.40 278.60a1.2 1.2 0 1 0 2.4 0a1.2 1.2 0 1 0 -2.4 0M255.40 279.80a1.2 1.2 0 1 0 2.4 0a1.2 1.2 0 1 0 -2.4 0M262.00 275.00a1.2 1.2 0 1 0 2.4 0a1.2 1.2 0 1 0 -2.4 0M262.00 276.13a1.2 1.2 0 1 0 2.4 0a1.2 1.2 0 1 0 -2.4 0M262.00 277.27a1.2 1.2 0 1 0 2.4 0a1.2 1.2 0 1 0 -2.4 0M262.00 278.40a1.2 1.2 0 1 0 2.4 0a1.2 1.2 0 1 0 -2.4 0M268.30 269.50a1.2 1.2 0 1 0 2.4 0a1.2 1.2 0 1 0 -2.4 0M268.30 270.65a1.2 1.2 0 1 0 2.4 0a1.2 1.2 0 1 0 -2.4 0M268.30 271.80a1.2 1.2 0 1 0 2.4 0a1.2 1.2 0 1 0 -2.4 0M275.00 266.50a1.2 1.2 0 1 0 2.4 0a1.2 1.2 0 1 0 -2.4 0M275.00 267.83a1.2 1.2 0 1 0 2.4 0a1.2 1.2 0 1 0 -2.4 0M275.00 269.17a1.2 1.2 0 1 0 2.4 0a1.2 1.2 0 1 0 -2.4 0M275.00 270.50a1.2 1.2 0 1 0 2.4 0a1.2 1.2 0 1 0 -2.4 0M281.00 262.00a1.2 1.2 0 1 0 2.4 0a1.2 1.2 0 1 0 -2.4 0M281.00 263.25a1.2 1.2 0 1 0 2.4 0a1.2 1.2 0 1 0 -2.4 0M281.00 264.50a1.2 1.2 0 1 0 2.4 0a1.2 1.2 0 1 0 -2.4 0M281.00 252.50a1.2 1.2 0 1 0 2.4 0a1.2 1.2 0 1 0 -2.4 0M281.00 253.75a1.2 1.2 0 1 0 2.4 0a1.2 1.2 0 1 0 -2.4 0M281.00 255.00a1.2 1.2 0 1 0 2.4 0a1.2 1.2 0 1 0 -2.4 0M281.00 244.00a1.2 1.2 0 1 0 2.4 0a1.2 1.2 0 1 0 -2.4 0M281.00 245.00a1.2 1.2 0 1 0 2.4 0a1.2 1.2 0 1 0 -2.4 0M281.00 246.00a1.2 1.2 0 1 0 2.4 0a1.2 1.2 0 1 0 -2.4 0M281.00 236.40a1.2 1.2 0 1 0 2.4 0a1.2 1.2 0 1 0 -2.4 0M288.10 235.00a1.2 1.2 0 1 0 2.4 0a1.2 1.2 0 1 0 -2.4 0M288.10 236.21a1.2 1.2 0 1 0 2.4 0a1.2 1.2 0 1 0 -2.4 0M288.10 237.42a1.2 1.2 0 1 0 2.4 0a1.2 1.2 0 1 0 -2.4 0M288.10 238.62a1.2 1.2 0 1 0 2.4 0a1.2 1.2 0 1 0 -2.4 0M288.10 239.83a1.2 1.2 0 1 0 2.4 0a1.2 1.2 0 1 0 -2.4 0M288.10 241.04a1.2 1.2 0 1 0 2.4 0a1.2 1.2 0 1 0 -2.4 0M288.10 242.25a1.2 1.2 0 1 0 2.4 0a1.2 1.2 0 1 0 -2.4 0M288.10 243.46a1.2 1.2 0 1 0 2.4 0a1.2 1.2 0 1 0 -2.4 0M288.10 244.67a1.2 1.2 0 1 0 2.4 0a1.2 1.2 0 1 0 -2.4 0M288.10 245.88a1.2 1.2 0 1 0 2.4 0a1.2 1.2 0 1 0 -2.4 0M288.10 247.08a1.2 1.2 0 1 0 2.4 0a1.2 1.2 0 1 0 -2.4 0M288.10 248.29a1.2 1.2 0 1 0 2.4 0a1.2 1.2 0 1 0 -2.4 0M288.10 249.50a1.2 1.2 0 1 0 2.4 0a1.2 1.2 0 1 0 -2.4 0M294.60 234.50a1.2 1.2 0 1 0 2.4 0a1.2 1.2 0 1 0 -2.4 0M294.60 235.68a1.2 1.2 0 1 0 2.4 0a1.2 1.2 0 1 0 -2.4 0M294.60 236.86a1.2 1.2 0 1 0 2.4 0a1.2 1.2 0 1 0 -2.4 0M294.60 238.05a1.2 1.2 0 1 0 2.4 0a1.2 1.2 0 1 0 -2.4 0M294.60 239.23a1.2 1.2 0 1 0 2.4 0a1.2 1.2 0 1 0 -2.4 0M294.60 240.41a1.2 1.2 0 1 0 2.4 0a1.2 1.2 0 1 0 -2.4 0M294.60 241.59a1.2 1.2 0 1 0 2.4 0a1.2 1.2 0 1 0 -2.4 0M294.60 242.77a1.2 1.2 0 1 0 2.4 0a1.2 1.2 0 1 0 -2.4 0M294.60 243.95a1.2 1.2 0 1 0 2.4 0a1.2 1.2 0 1 0 -2.4 0M294.60 245.14a1.2 1.2 0 1 0 2.4 0a1.2 1.2 0 1 0 -2.4 0M294.60 246.32a1.2 1.2 0 1 0 2.4 0a1.2 1.2 0 1 0 -2.4 0M294.60 247.50a1.2 1.2 0 1 0 2.4 0a1.2 1.2 0 1 0 -2.4 0M307.20 114.30a1.2 1.2 0 1 0 2.4 0a1.2 1.2 0 1 0 -2.4 0M307.20 154.50a1.2 1.2 0 1 0 2.4 0a1.2 1.2 0 1 0 -2.4 0M307.20 159.40a1.2 1.2 0 1 0 2.4 0a1.2 1.2 0 1 0 -2.4 0M307.20 167.00a1.2 1.2 0 1 0 2.4 0a1.2 1.2 0 1 0 -2.4 0M320.20 159.40a1.2 1.2 0 1 0 2.4 0a1.2 1.2 0 1 0 -2.4 0M340.20 148.00a1.2 1.2 0 1 0 2.4 0a1.2 1.2 0 1 0 -2.4 0M340.20 185.00a1.2 1.2 0 1 0 2.4 0a1.2 1.2 0 1 0 -2.4 0M340.20 198.00a1.2 1.2 0 1 0 2.4 0a1.2 1.2 0 1 0 -2.4 0M340.20 199.33a1.2 1.2 0 1 0 2.4 0a1.2 1.2 0 1 0 -2.4 0M340.20 200.67a1.2 1.2 0 1 0 2.4 0a1.2 1.2 0 1 0 -2.4 0M340.20 202.00a1.2 1.2 0 1 0 2.4 0a1.2 1.2 0 1 0 -2.4 0M346.60 199.00a1.2 1.2 0 1 0 2.4 0a1.2 1.2 0 1 0 -2.4 0M307.20 208.00a1.2 1.2 0 1 0 2.4 0a1.2 1.2 0 1 0 -2.4 0M307.20 209.21a1.2 1.2 0 1 0 2.4 0a1.2 1.2 0 1 0 -2.4 0M307.20 210.43a1.2 1.2 0 1 0 2.4 0a1.2 1.2 0 1 0 -2.4 0M307.20 211.64a1.2 1.2 0 1 0 2.4 0a1.2 1.2 0 1 0 -2.4 0M307.20 212.86a1.2 1.2 0 1 0 2.4 0a1.2 1.2 0 1 0 -2.4 0M307.20 214.07a1.2 1.2 0 1 0 2.4 0a1.2 1.2 0 1 0 -2.4 0M307.20 215.29a1.2 1.2 0 1 0 2.4 0a1.2 1.2 0 1 0 -2.4 0M307.20 216.50a1.2 1.2 0 1 0 2.4 0a1.2 1.2 0 1 0 -2.4 0M307.20 217.71a1.2 1.2 0 1 0 2.4 0a1.2 1.2 0 1 0 -2.4 0M307.20 218.93a1.2 1.2 0 1 0 2.4 0a1.2 1.2 0 1 0 -2.4 0M307.20 220.14a1.2 1.2 0 1 0 2.4 0a1.2 1.2 0 1 0 -2.4 0M307.20 221.36a1.2 1.2 0 1 0 2.4 0a1.2 1.2 0 1 0 -2.4 0M307.20 222.57a1.2 1.2 0 1 0 2.4 0a1.2 1.2 0 1 0 -2.4 0M307.20 223.79a1.2 1.2 0 1 0 2.4 0a1.2 1.2 0 1 0 -2.4 0M307.20 225.00a1.2 1.2 0 1 0 2.4 0a1.2 1.2 0 1 0 -2.4 0M314.20 209.50a1.2 1.2 0 1 0 2.4 0a1.2 1.2 0 1 0 -2.4 0M314.20 210.68a1.2 1.2 0 1 0 2.4 0a1.2 1.2 0 1 0 -2.4 0M314.20 211.86a1.2 1.2 0 1 0 2.4 0a1.2 1.2 0 1 0 -2.4 0M314.20 213.04a1.2 1.2 0 1 0 2.4 0a1.2 1.2 0 1 0 -2.4 0M314.20 214.21a1.2 1.2 0 1 0 2.4 0a1.2 1.2 0 1 0 -2.4 0M314.20 215.39a1.2 1.2 0 1 0 2.4 0a1.2 1.2 0 1 0 -2.4 0M314.20 216.57a1.2 1.2 0 1 0 2.4 0a1.2 1.2 0 1 0 -2.4 0M314.20 217.75a1.2 1.2 0 1 0 2.4 0a1.2 1.2 0 1 0 -2.4 0M314.20 218.93a1.2 1.2 0 1 0 2.4 0a1.2 1.2 0 1 0 -2.4 0M314.20 220.11a1.2 1.2 0 1 0 2.4 0a1.2 1.2 0 1 0 -2.4 0M314.20 221.29a1.2 1.2 0 1 0 2.4 0a1.2 1.2 0 1 0 -2.4 0M314.20 222.46a1.2 1.2 0 1 0 2.4 0a1.2 1.2 0 1 0 -2.4 0M314.20 223.64a1.2 1.2 0 1 0 2.4 0a1.2 1.2 0 1 0 -2.4 0M314.20 224.82a1.2 1.2 0 1 0 2.4 0a1.2 1.2 0 1 0 -2.4 0M314.20 226.00a1.2 1.2 0 1 0 2.4 0a1.2 1.2 0 1 0 -2.4 0M320.40 212.00a1.2 1.2 0 1 0 2.4 0a1.2 1.2 0 1 0 -2.4 0M320.40 213.25a1.2 1.2 0 1 0 2.4 0a1.2 1.2 0 1 0 -2.4 0M320.40 214.50a1.2 1.2 0 1 0 2.4 0a1.2 1.2 0 1 0 -2.4 0M320.40 215.75a1.2 1.2 0 1 0 2.4 0a1.2 1.2 0 1 0 -2.4 0M320.40 217.00a1.2 1.2 0 1 0 2.4 0a1.2 1.2 0 1 0 -2.4 0M320.40 218.25a1.2 1.2 0 1 0 2.4 0a1.2 1.2 0 1 0 -2.4 0M320.40 219.50a1.2 1.2 0 1 0 2.4 0a1.2 1.2 0 1 0 -2.4 0M320.40 220.75a1.2 1.2 0 1 0 2.4 0a1.2 1.2 0 1 0 -2.4 0M320.40 222.00a1.2 1.2 0 1 0 2.4 0a1.2 1.2 0 1 0 -2.4 0M320.40 223.25a1.2 1.2 0 1 0 2.4 0a1.2 1.2 0 1 0 -2.4 0M320.40 224.50a1.2 1.2 0 1 0 2.4 0a1.2 1.2 0 1 0 -2.4 0M327.20 221.50a1.2 1.2 0 1 0 2.4 0a1.2 1.2 0 1 0 -2.4 0M340.20 221.50a1.2 1.2 0 1 0 2.4 0a1.2 1.2 0 1 0 -2.4 0M346.60 214.70a1.2 1.2 0 1 0 2.4 0a1.2 1.2 0 1 0 -2.4 0M352.80 214.70a1.2 1.2 0 1 0 2.4 0a1.2 1.2 0 1 0 -2.4 0M352.80 221.50a1.2 1.2 0 1 0 2.4 0a1.2 1.2 0 1 0 -2.4 0M359.60 221.50a1.2 1.2 0 1 0 2.4 0a1.2 1.2 0 1 0 -2.4 0M300.40 229.00a1.2 1.2 0 1 0 2.4 0a1.2 1.2 0 1 0 -2.4 0M300.80 229.00a1.2 1.2 0 1 0 2.4 0a1.2 1.2 0 1 0 -2.4 0M300.80 230.33a1.2 1.2 0 1 0 2.4 0a1.2 1.2 0 1 0 -2.4 0M300.80 231.67a1.2 1.2 0 1 0 2.4 0a1.2 1.2 0 1 0 -2.4 0M300.80 233.00a1.2 1.2 0 1 0 2.4 0a1.2 1.2 0 1 0 -2.4 0M307.20 233.00a1.2 1.2 0 1 0 2.4 0a1.2 1.2 0 1 0 -2.4 0M326.80 236.40a1.2 1.2 0 1 0 2.4 0a1.2 1.2 0 1 0 -2.4 0M333.30 232.00a1.2 1.2 0 1 0 2.4 0a1.2 1.2 0 1 0 -2.4 0M333.30 236.40a1.2 1.2 0 1 0 2.4 0a1.2 1.2 0 1 0 -2.4 0M340.00 233.00a1.2 1.2 0 1 0 2.4 0a1.2 1.2 0 1 0 -2.4 0M359.80 236.40a1.2 1.2 0 1 0 2.4 0a1.2 1.2 0 1 0 -2.4 0M366.40 232.00a1.2 1.2 0 1 0 2.4 0a1.2 1.2 0 1 0 -2.4 0M366.40 236.40a1.2 1.2 0 1 0 2.4 0a1.2 1.2 0 1 0 -2.4 0M372.80 198.80a1.2 1.2 0 1 0 2.4 0a1.2 1.2 0 1 0 -2.4 0M379.80 198.80a1.2 1.2 0 1 0 2.4 0a1.2 1.2 0 1 0 -2.4 0M406.30 198.80a1.2 1.2 0 1 0 2.4 0a1.2 1.2 0 1 0 -2.4 0M413.10 198.80a1.2 1.2 0 1 0 2.4 0a1.2 1.2 0 1 0 -2.4 0M438.30 198.80a1.2 1.2 0 1 0 2.4 0a1.2 1.2 0 1 0 -2.4 0M379.80 214.70a1.2 1.2 0 1 0 2.4 0a1.2 1.2 0 1 0 -2.4 0M386.00 214.70a1.2 1.2 0 1 0 2.4 0a1.2 1.2 0 1 0 -2.4 0M413.10 214.70a1.2 1.2 0 1 0 2.4 0a1.2 1.2 0 1 0 -2.4 0M419.50 214.70a1.2 1.2 0 1 0 2.4 0a1.2 1.2 0 1 0 -2.4 0M386.30 222.00a1.2 1.2 0 1 0 2.4 0a1.2 1.2 0 1 0 -2.4 0M392.80 222.00a1.2 1.2 0 1 0 2.4 0a1.2 1.2 0 1 0 -2.4 0M419.50 222.00a1.2 1.2 0 1 0 2.4 0a1.2 1.2 0 1 0 -2.4 0M426.10 222.00a1.2 1.2 0 1 0 2.4 0a1.2 1.2 0 1 0 -2.4 0M372.80 232.70a1.2 1.2 0 1 0 2.4 0a1.2 1.2 0 1 0 -2.4 0M392.80 236.60a1.2 1.2 0 1 0 2.4 0a1.2 1.2 0 1 0 -2.4 0M399.10 232.70a1.2 1.2 0 1 0 2.4 0a1.2 1.2 0 1 0 -2.4 0M399.10 236.60a1.2 1.2 0 1 0 2.4 0a1.2 1.2 0 1 0 -2.4 0M405.80 232.70a1.2 1.2 0 1 0 2.4 0a1.2 1.2 0 1 0 -2.4 0M426.10 236.60a1.2 1.2 0 1 0 2.4 0a1.2 1.2 0 1 0 -2.4 0M432.50 232.70a1.2 1.2 0 1 0 2.4 0a1.2 1.2 0 1 0 -2.4 0M432.50 236.60a1.2 1.2 0 1 0 2.4 0a1.2 1.2 0 1 0 -2.4 0M438.30 232.70a1.2 1.2 0 1 0 2.4 0a1.2 1.2 0 1 0 -2.4 0M446.00 198.80a1.2 1.2 0 1 0 2.4 0a1.2 1.2 0 1 0 -2.4 0M473.00 198.80a1.2 1.2 0 1 0 2.4 0a1.2 1.2 0 1 0 -2.4 0M479.40 198.80a1.2 1.2 0 1 0 2.4 0a1.2 1.2 0 1 0 -2.4 0M506.00 198.80a1.2 1.2 0 1 0 2.4 0a1.2 1.2 0 1 0 -2.4 0M446.00 214.50a1.2 1.2 0 1 0 2.4 0a1.2 1.2 0 1 0 -2.4 0M452.50 214.50a1.2 1.2 0 1 0 2.4 0a1.2 1.2 0 1 0 -2.4 0M479.40 214.50a1.2 1.2 0 1 0 2.4 0a1.2 1.2 0 1 0 -2.4 0M485.90 214.50a1.2 1.2 0 1 0 2.4 0a1.2 1.2 0 1 0 -2.4 0M452.50 221.90a1.2 1.2 0 1 0 2.4 0a1.2 1.2 0 1 0 -2.4 0M459.40 221.90a1.2 1.2 0 1 0 2.4 0a1.2 1.2 0 1 0 -2.4 0M485.90 221.90a1.2 1.2 0 1 0 2.4 0a1.2 1.2 0 1 0 -2.4 0M492.80 221.90a1.2 1.2 0 1 0 2.4 0a1.2 1.2 0 1 0 -2.4 0M459.40 236.50a1.2 1.2 0 1 0 2.4 0a1.2 1.2 0 1 0 -2.4 0M465.80 233.30a1.2 1.2 0 1 0 2.4 0a1.2 1.2 0 1 0 -2.4 0M465.80 236.50a1.2 1.2 0 1 0 2.4 0a1.2 1.2 0 1 0 -2.4 0M473.00 232.80a1.2 1.2 0 1 0 2.4 0a1.2 1.2 0 1 0 -2.4 0M492.80 236.50a1.2 1.2 0 1 0 2.4 0a1.2 1.2 0 1 0 -2.4 0M499.30 233.30a1.2 1.2 0 1 0 2.4 0a1.2 1.2 0 1 0 -2.4 0M499.30 236.50a1.2 1.2 0 1 0 2.4 0a1.2 1.2 0 1 0 -2.4 0M506.00 232.80a1.2 1.2 0 1 0 2.4 0a1.2 1.2 0 1 0 -2.4 0" fill="#0000ff"/>
</g>
<path d="M130.94 411.40v-6M198.69 411.40v-6M266.43 411.40v-6M334.17 411.40v-6M401.91 411.40v-6M469.66 411.40v-6M63.20 364.77h6M63.20 318.15h6M63.20 271.52h6M63.20 224.90h6M63.20 178.27h6M63.20 131.65h6M63.20 85.02h6" stroke="#9a9a9a" stroke-width="1.1" fill="none"/>
<path d="M63.20 38.40V411.55H537.40" stroke="#262626" stroke-width="1.3" fill="none"/>
<g font-family='"Liberation Serif", serif' font-size="17" fill="#111"><text x="63.20" y="429" text-anchor="middle">2</text><text x="130.94" y="429" text-anchor="middle">4</text><text x="198.69" y="429" text-anchor="middle">6</text><text x="266.43" y="429" text-anchor="middle">8</text><text x="334.17" y="429" text-anchor="middle">10</text><text x="401.91" y="429" text-anchor="middle">12</text><text x="469.66" y="429" text-anchor="middle">14</text><text x="537.40" y="429" text-anchor="middle">16</text><text x="57" y="417.20" text-anchor="end">2</text><text x="57" y="370.57" text-anchor="end">4</text><text x="57" y="323.95" text-anchor="end">6</text><text x="57" y="277.32" text-anchor="end">8</text><text x="57" y="230.70" text-anchor="end">10</text><text x="57" y="184.07" text-anchor="end">12</text><text x="57" y="137.45" text-anchor="end">14</text><text x="57" y="90.82" text-anchor="end">16</text><text x="57" y="44.20" text-anchor="end">18</text></g>
<text x="300" y="18.1" text-anchor="middle" font-family='"Liberation Serif", serif' font-size="17.6" font-weight="bold" fill="#111" textLength="160" lengthAdjust="spacingAndGlyphs">Range vs distance</text>
<text x="300" y="454.5" text-anchor="middle" font-family='"Liberation Serif", serif' font-size="17" fill="#111" textLength="99" lengthAdjust="spacingAndGlyphs">Distance (m)</text>
<text transform="translate(22.9 224.8) rotate(-90)" text-anchor="middle" font-family='"Liberation Serif", serif' font-size="17" fill="#111" textLength="82" lengthAdjust="spacingAndGlyphs">Range (m)</text>
<rect x="441.7" y="337.8" width="81.8" height="62.6" fill="#fff" stroke="#505050" stroke-width="1.3"/><path d="M449.50 353.20L449.50 347.60M447.08 351.80L451.92 349.00M447.08 349.00L451.92 351.80" stroke="#00ff00" stroke-width="1.3" fill="none"/><text x="455.6" y="353.70" font-family='"Liberation Serif", serif' font-size="13.6" fill="#111" textLength="26.5" lengthAdjust="spacingAndGlyphs">LOS</text><path d="M449.50 371.60L449.50 366.00M447.08 370.20L451.92 367.40M447.08 367.40L451.92 370.20" stroke="#ff0000" stroke-width="1.3" fill="none"/><text x="455.6" y="372.10" font-family='"Liberation Serif", serif' font-size="13.6" fill="#111" textLength="58" lengthAdjust="spacingAndGlyphs">NLOS_H</text><path d="M449.50 390.00L449.50 384.40M447.08 388.60L451.92 385.80M447.08 385.80L451.92 388.60" stroke="#0000ff" stroke-width="1.3" fill="none"/><text x="455.6" y="390.50" font-family='"Liberation Serif", serif' font-size="13.6" fill="#111" textLength="55.5" lengthAdjust="spacingAndGlyphs">NLOS_S</text></svg></div>
</body></html>
